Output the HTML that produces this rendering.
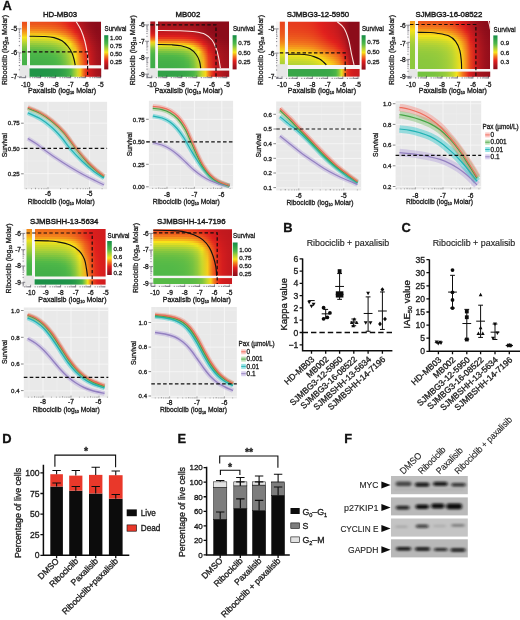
<!DOCTYPE html>
<html lang="en"><head><meta charset="utf-8"><title>Ribociclib + paxalisib synergy figure</title>
<style>html,body{margin:0;padding:0;background:#fff}body{width:520px;height:620px;overflow:hidden}svg{display:block}</style></head>
<body>
<svg width="520" height="620" viewBox="0 0 520 620" font-family="'Liberation Sans', sans-serif" fill="#1c1c1c">
<rect width="520" height="620" fill="#fff"/>
<text x="2.5" y="9.7" font-size="12.9" font-weight="bold" fill="#111" stroke="#111" stroke-width="0.3">A</text>
<rect x="18.8" y="21.4" width="82.6" height="56.8" fill="#f7f5f5"/>
<rect x="19.6" y="65.2" width="9.3" height="12.2" fill="#e7e7e7"/>
<defs>
<clipPath id="hc1"><rect x="29.5" y="21.8" width="71.7" height="43.4"/></clipPath>
<linearGradient id="g1"><stop offset="0" stop-color="#ea4f1d"/><stop offset="0.07" stop-color="#ea4f1d"/><stop offset="0.14" stop-color="#ea4e1d"/><stop offset="0.21" stop-color="#ea4c1d"/><stop offset="0.29" stop-color="#e9491d"/><stop offset="0.36" stop-color="#e8431d"/><stop offset="0.43" stop-color="#e6391d"/><stop offset="0.5" stop-color="#e4291d"/><stop offset="0.57" stop-color="#da1e1d"/><stop offset="0.64" stop-color="#c81a1e"/><stop offset="0.71" stop-color="#b1161e"/><stop offset="0.79" stop-color="#9e121d"/><stop offset="0.86" stop-color="#900d1b"/><stop offset="0.93" stop-color="#8c0c1a"/><stop offset="1" stop-color="#8c0c1a"/></linearGradient>
<linearGradient id="g2"><stop offset="0" stop-color="#ec581d"/><stop offset="0.07" stop-color="#ec571d"/><stop offset="0.14" stop-color="#ec561d"/><stop offset="0.21" stop-color="#eb541d"/><stop offset="0.29" stop-color="#eb511d"/><stop offset="0.36" stop-color="#ea4b1d"/><stop offset="0.43" stop-color="#e8411d"/><stop offset="0.5" stop-color="#e5311d"/><stop offset="0.57" stop-color="#de1f1d"/><stop offset="0.64" stop-color="#cb1b1e"/><stop offset="0.71" stop-color="#b4171e"/><stop offset="0.79" stop-color="#a0121d"/><stop offset="0.86" stop-color="#920e1b"/><stop offset="0.93" stop-color="#8c0c1a"/><stop offset="1" stop-color="#8c0c1a"/></linearGradient>
<linearGradient id="g3"><stop offset="0" stop-color="#ee641d"/><stop offset="0.07" stop-color="#ee631d"/><stop offset="0.14" stop-color="#ee621d"/><stop offset="0.21" stop-color="#ed601d"/><stop offset="0.29" stop-color="#ed5d1d"/><stop offset="0.36" stop-color="#ec571d"/><stop offset="0.43" stop-color="#ea4c1d"/><stop offset="0.5" stop-color="#e73b1d"/><stop offset="0.57" stop-color="#e2211d"/><stop offset="0.64" stop-color="#d01c1e"/><stop offset="0.71" stop-color="#b8181e"/><stop offset="0.79" stop-color="#a2131d"/><stop offset="0.86" stop-color="#930e1b"/><stop offset="0.93" stop-color="#8c0c1a"/><stop offset="1" stop-color="#8c0c1a"/></linearGradient>
<linearGradient id="g4"><stop offset="0" stop-color="#f1731d"/><stop offset="0.07" stop-color="#f1721d"/><stop offset="0.14" stop-color="#f0711d"/><stop offset="0.21" stop-color="#f06f1d"/><stop offset="0.29" stop-color="#ef6b1d"/><stop offset="0.36" stop-color="#ee651d"/><stop offset="0.43" stop-color="#ec5a1d"/><stop offset="0.5" stop-color="#e9481d"/><stop offset="0.57" stop-color="#e42d1d"/><stop offset="0.64" stop-color="#d51d1d"/><stop offset="0.71" stop-color="#bd181e"/><stop offset="0.79" stop-color="#a5141e"/><stop offset="0.86" stop-color="#950f1b"/><stop offset="0.93" stop-color="#8c0c1a"/><stop offset="1" stop-color="#8c0c1a"/></linearGradient>
<linearGradient id="g5"><stop offset="0" stop-color="#f3871d"/><stop offset="0.07" stop-color="#f3871d"/><stop offset="0.14" stop-color="#f3851d"/><stop offset="0.21" stop-color="#f2821d"/><stop offset="0.29" stop-color="#f27d1d"/><stop offset="0.36" stop-color="#f1761d"/><stop offset="0.43" stop-color="#ef6a1d"/><stop offset="0.5" stop-color="#ec581d"/><stop offset="0.57" stop-color="#e73c1d"/><stop offset="0.64" stop-color="#dc1f1d"/><stop offset="0.71" stop-color="#c3191e"/><stop offset="0.79" stop-color="#a8151e"/><stop offset="0.86" stop-color="#98101c"/><stop offset="0.93" stop-color="#8c0c1a"/><stop offset="1" stop-color="#8c0c1a"/></linearGradient>
<linearGradient id="g6"><stop offset="0" stop-color="#f4a21c"/><stop offset="0.07" stop-color="#f4a11c"/><stop offset="0.14" stop-color="#f49f1c"/><stop offset="0.21" stop-color="#f49c1c"/><stop offset="0.29" stop-color="#f4971c"/><stop offset="0.36" stop-color="#f38e1c"/><stop offset="0.43" stop-color="#f27f1d"/><stop offset="0.5" stop-color="#ef6a1d"/><stop offset="0.57" stop-color="#ea4c1d"/><stop offset="0.64" stop-color="#e3231d"/><stop offset="0.71" stop-color="#ca1a1e"/><stop offset="0.79" stop-color="#ad161e"/><stop offset="0.86" stop-color="#9a111c"/><stop offset="0.93" stop-color="#8e0d1a"/><stop offset="1" stop-color="#8c0c1a"/></linearGradient>
<linearGradient id="g7"><stop offset="0" stop-color="#f6c01b"/><stop offset="0.07" stop-color="#f6bf1b"/><stop offset="0.14" stop-color="#f6bd1b"/><stop offset="0.21" stop-color="#f6ba1b"/><stop offset="0.29" stop-color="#f5b41b"/><stop offset="0.36" stop-color="#f5ab1c"/><stop offset="0.43" stop-color="#f49a1c"/><stop offset="0.5" stop-color="#f2801d"/><stop offset="0.57" stop-color="#ed5f1d"/><stop offset="0.64" stop-color="#e5341d"/><stop offset="0.71" stop-color="#d11c1e"/><stop offset="0.79" stop-color="#b3171e"/><stop offset="0.86" stop-color="#9e121d"/><stop offset="0.93" stop-color="#900d1b"/><stop offset="1" stop-color="#8c0c1a"/></linearGradient>
<linearGradient id="g8"><stop offset="0" stop-color="#f8e01a"/><stop offset="0.07" stop-color="#f8df1a"/><stop offset="0.14" stop-color="#f8de1a"/><stop offset="0.21" stop-color="#f7da1a"/><stop offset="0.29" stop-color="#f7d41a"/><stop offset="0.36" stop-color="#f7ca1b"/><stop offset="0.43" stop-color="#f6b91b"/><stop offset="0.5" stop-color="#f49d1c"/><stop offset="0.57" stop-color="#f1741d"/><stop offset="0.64" stop-color="#e9451d"/><stop offset="0.71" stop-color="#d91e1d"/><stop offset="0.79" stop-color="#ba181e"/><stop offset="0.86" stop-color="#a1131d"/><stop offset="0.93" stop-color="#930e1b"/><stop offset="1" stop-color="#8c0c1a"/></linearGradient>
<linearGradient id="g9"><stop offset="0" stop-color="#e1de23"/><stop offset="0.07" stop-color="#e2de22"/><stop offset="0.14" stop-color="#e3df22"/><stop offset="0.21" stop-color="#e6df21"/><stop offset="0.29" stop-color="#ebe11f"/><stop offset="0.36" stop-color="#f3e31c"/><stop offset="0.43" stop-color="#f7d91a"/><stop offset="0.5" stop-color="#f6bb1b"/><stop offset="0.57" stop-color="#f38d1c"/><stop offset="0.64" stop-color="#ec581d"/><stop offset="0.71" stop-color="#e1201d"/><stop offset="0.79" stop-color="#c1191e"/><stop offset="0.86" stop-color="#a5141e"/><stop offset="0.93" stop-color="#950f1b"/><stop offset="1" stop-color="#8c0c1a"/></linearGradient>
<linearGradient id="g10"><stop offset="0" stop-color="#c7d82c"/><stop offset="0.07" stop-color="#c8d82c"/><stop offset="0.14" stop-color="#cad82c"/><stop offset="0.21" stop-color="#ccd92b"/><stop offset="0.29" stop-color="#d1da29"/><stop offset="0.36" stop-color="#dadc25"/><stop offset="0.43" stop-color="#e8e020"/><stop offset="0.5" stop-color="#f7d91a"/><stop offset="0.57" stop-color="#f5a91c"/><stop offset="0.64" stop-color="#ef6b1d"/><stop offset="0.71" stop-color="#e42d1d"/><stop offset="0.79" stop-color="#c81a1e"/><stop offset="0.86" stop-color="#a9151e"/><stop offset="0.93" stop-color="#98101c"/><stop offset="1" stop-color="#8e0c1a"/></linearGradient>
<linearGradient id="g11"><stop offset="0" stop-color="#aed136"/><stop offset="0.07" stop-color="#afd236"/><stop offset="0.14" stop-color="#b1d235"/><stop offset="0.21" stop-color="#b4d334"/><stop offset="0.29" stop-color="#b9d432"/><stop offset="0.36" stop-color="#c2d62f"/><stop offset="0.43" stop-color="#d1da29"/><stop offset="0.5" stop-color="#eae01f"/><stop offset="0.57" stop-color="#f6c41b"/><stop offset="0.64" stop-color="#f27e1d"/><stop offset="0.71" stop-color="#e73c1d"/><stop offset="0.79" stop-color="#ce1b1e"/><stop offset="0.86" stop-color="#ae161e"/><stop offset="0.93" stop-color="#9b111c"/><stop offset="1" stop-color="#900d1b"/></linearGradient>
<linearGradient id="g12"><stop offset="0" stop-color="#96cb3b"/><stop offset="0.07" stop-color="#97cb3b"/><stop offset="0.14" stop-color="#99cc3b"/><stop offset="0.21" stop-color="#9ccd3a"/><stop offset="0.29" stop-color="#a2ce39"/><stop offset="0.36" stop-color="#acd137"/><stop offset="0.43" stop-color="#bcd531"/><stop offset="0.5" stop-color="#d6db27"/><stop offset="0.57" stop-color="#f8dd1a"/><stop offset="0.64" stop-color="#f3941c"/><stop offset="0.71" stop-color="#ea4a1d"/><stop offset="0.79" stop-color="#d41d1e"/><stop offset="0.86" stop-color="#b2171e"/><stop offset="0.93" stop-color="#9d121c"/><stop offset="1" stop-color="#920e1b"/></linearGradient>
<linearGradient id="g13"><stop offset="0" stop-color="#80c53f"/><stop offset="0.07" stop-color="#81c53f"/><stop offset="0.14" stop-color="#83c63f"/><stop offset="0.21" stop-color="#86c73e"/><stop offset="0.29" stop-color="#8cc83d"/><stop offset="0.36" stop-color="#97cb3b"/><stop offset="0.43" stop-color="#a8d038"/><stop offset="0.5" stop-color="#c3d72e"/><stop offset="0.57" stop-color="#ede11e"/><stop offset="0.64" stop-color="#f5a81c"/><stop offset="0.71" stop-color="#ec571d"/><stop offset="0.79" stop-color="#d91e1d"/><stop offset="0.86" stop-color="#b7171e"/><stop offset="0.93" stop-color="#a0121d"/><stop offset="1" stop-color="#930e1b"/></linearGradient>
<linearGradient id="g14"><stop offset="0" stop-color="#6dc043"/><stop offset="0.07" stop-color="#6ec042"/><stop offset="0.14" stop-color="#70c142"/><stop offset="0.21" stop-color="#74c242"/><stop offset="0.29" stop-color="#7ac340"/><stop offset="0.36" stop-color="#84c63f"/><stop offset="0.43" stop-color="#96cb3b"/><stop offset="0.5" stop-color="#b3d334"/><stop offset="0.57" stop-color="#dedd24"/><stop offset="0.64" stop-color="#f6b91b"/><stop offset="0.71" stop-color="#ee621d"/><stop offset="0.79" stop-color="#de1f1d"/><stop offset="0.86" stop-color="#ba181e"/><stop offset="0.93" stop-color="#a2131d"/><stop offset="1" stop-color="#950f1b"/></linearGradient>
<linearGradient id="g15"><stop offset="0" stop-color="#5dbc46"/><stop offset="0.07" stop-color="#5ebc45"/><stop offset="0.14" stop-color="#60bd45"/><stop offset="0.21" stop-color="#64bd44"/><stop offset="0.29" stop-color="#6abf43"/><stop offset="0.36" stop-color="#75c241"/><stop offset="0.43" stop-color="#87c73e"/><stop offset="0.5" stop-color="#a6cf39"/><stop offset="0.57" stop-color="#d2da29"/><stop offset="0.64" stop-color="#f6c71b"/><stop offset="0.71" stop-color="#ef6b1d"/><stop offset="0.79" stop-color="#e1201d"/><stop offset="0.86" stop-color="#bd181e"/><stop offset="0.93" stop-color="#a3141d"/><stop offset="1" stop-color="#960f1b"/></linearGradient>
<linearGradient id="g16"><stop offset="0" stop-color="#50b848"/><stop offset="0.07" stop-color="#51b848"/><stop offset="0.14" stop-color="#53b947"/><stop offset="0.21" stop-color="#56ba47"/><stop offset="0.29" stop-color="#5dbc46"/><stop offset="0.36" stop-color="#68bf44"/><stop offset="0.43" stop-color="#7bc440"/><stop offset="0.5" stop-color="#9acc3b"/><stop offset="0.57" stop-color="#c8d82c"/><stop offset="0.64" stop-color="#f7d31a"/><stop offset="0.71" stop-color="#f1731d"/><stop offset="0.79" stop-color="#e3251d"/><stop offset="0.86" stop-color="#c0191e"/><stop offset="0.93" stop-color="#a5141e"/><stop offset="1" stop-color="#97101c"/></linearGradient>
<linearGradient id="g17"><stop offset="0" stop-color="#4cb548"/><stop offset="0.07" stop-color="#4cb648"/><stop offset="0.14" stop-color="#4db648"/><stop offset="0.21" stop-color="#4eb748"/><stop offset="0.29" stop-color="#52b947"/><stop offset="0.36" stop-color="#5ebc45"/><stop offset="0.43" stop-color="#71c142"/><stop offset="0.5" stop-color="#91ca3c"/><stop offset="0.57" stop-color="#bfd62f"/><stop offset="0.64" stop-color="#f8dc1a"/><stop offset="0.71" stop-color="#f2791d"/><stop offset="0.79" stop-color="#e4291d"/><stop offset="0.86" stop-color="#c2191e"/><stop offset="0.93" stop-color="#a6141e"/><stop offset="1" stop-color="#98101c"/></linearGradient>
<linearGradient id="g18"><stop offset="0" stop-color="#49b348"/><stop offset="0.07" stop-color="#49b448"/><stop offset="0.14" stop-color="#4ab448"/><stop offset="0.21" stop-color="#4bb548"/><stop offset="0.29" stop-color="#4db748"/><stop offset="0.36" stop-color="#56ba47"/><stop offset="0.43" stop-color="#69bf43"/><stop offset="0.5" stop-color="#89c83e"/><stop offset="0.57" stop-color="#b9d432"/><stop offset="0.64" stop-color="#f8e41a"/><stop offset="0.71" stop-color="#f27f1d"/><stop offset="0.79" stop-color="#e42d1d"/><stop offset="0.86" stop-color="#c4191e"/><stop offset="0.93" stop-color="#a7151e"/><stop offset="1" stop-color="#99101c"/></linearGradient>
<linearGradient id="g19"><stop offset="0" stop-color="#47b248"/><stop offset="0.07" stop-color="#47b248"/><stop offset="0.14" stop-color="#48b248"/><stop offset="0.21" stop-color="#49b348"/><stop offset="0.29" stop-color="#4bb548"/><stop offset="0.36" stop-color="#4fb848"/><stop offset="0.43" stop-color="#63bd44"/><stop offset="0.5" stop-color="#83c63f"/><stop offset="0.57" stop-color="#b4d334"/><stop offset="0.64" stop-color="#f4e31c"/><stop offset="0.71" stop-color="#f3831d"/><stop offset="0.79" stop-color="#e5301d"/><stop offset="0.86" stop-color="#c51a1e"/><stop offset="0.93" stop-color="#a7151e"/><stop offset="1" stop-color="#99101c"/></linearGradient>
<linearGradient id="g20"><stop offset="0" stop-color="#45b048"/><stop offset="0.07" stop-color="#45b148"/><stop offset="0.14" stop-color="#46b148"/><stop offset="0.21" stop-color="#47b248"/><stop offset="0.29" stop-color="#49b448"/><stop offset="0.36" stop-color="#4db748"/><stop offset="0.43" stop-color="#5ebc45"/><stop offset="0.5" stop-color="#7fc540"/><stop offset="0.57" stop-color="#b0d235"/><stop offset="0.64" stop-color="#f0e21d"/><stop offset="0.71" stop-color="#f3871d"/><stop offset="0.79" stop-color="#e5321d"/><stop offset="0.86" stop-color="#c61a1e"/><stop offset="0.93" stop-color="#a8151e"/><stop offset="1" stop-color="#9a101c"/></linearGradient>
<linearGradient id="g21"><stop offset="0" stop-color="#43af48"/><stop offset="0.07" stop-color="#44b048"/><stop offset="0.14" stop-color="#45b048"/><stop offset="0.21" stop-color="#46b148"/><stop offset="0.29" stop-color="#48b348"/><stop offset="0.36" stop-color="#4cb648"/><stop offset="0.43" stop-color="#5bbb46"/><stop offset="0.5" stop-color="#7bc440"/><stop offset="0.57" stop-color="#add137"/><stop offset="0.64" stop-color="#eee11e"/><stop offset="0.71" stop-color="#f38a1d"/><stop offset="0.79" stop-color="#e6341d"/><stop offset="0.86" stop-color="#c71a1e"/><stop offset="0.93" stop-color="#a8151e"/><stop offset="1" stop-color="#9a111c"/></linearGradient>
<linearGradient id="g22"><stop offset="0" stop-color="#42ae48"/><stop offset="0.07" stop-color="#43af48"/><stop offset="0.14" stop-color="#44af48"/><stop offset="0.21" stop-color="#45b048"/><stop offset="0.29" stop-color="#47b248"/><stop offset="0.36" stop-color="#4bb548"/><stop offset="0.43" stop-color="#58ba46"/><stop offset="0.5" stop-color="#79c341"/><stop offset="0.57" stop-color="#abd037"/><stop offset="0.64" stop-color="#ece11f"/><stop offset="0.71" stop-color="#f38c1c"/><stop offset="0.79" stop-color="#e6361d"/><stop offset="0.86" stop-color="#c71a1e"/><stop offset="0.93" stop-color="#a9151e"/><stop offset="1" stop-color="#9a111c"/></linearGradient>
<linearGradient id="g23"><stop offset="0" stop-color="#42ae48"/><stop offset="0.07" stop-color="#43af48"/><stop offset="0.14" stop-color="#43af48"/><stop offset="0.21" stop-color="#45b048"/><stop offset="0.29" stop-color="#47b248"/><stop offset="0.36" stop-color="#4bb548"/><stop offset="0.43" stop-color="#57ba47"/><stop offset="0.5" stop-color="#78c341"/><stop offset="0.57" stop-color="#aad038"/><stop offset="0.64" stop-color="#ebe11f"/><stop offset="0.71" stop-color="#f38d1c"/><stop offset="0.79" stop-color="#e6361d"/><stop offset="0.86" stop-color="#c81a1e"/><stop offset="0.93" stop-color="#a9151e"/><stop offset="1" stop-color="#9a111c"/></linearGradient>
<linearGradient id="g24" x1="0" y1="0" x2="0" y2="1"><stop offset="0" stop-color="#ea4b1d"/><stop offset="0.07" stop-color="#ec591d"/><stop offset="0.14" stop-color="#f06d1d"/><stop offset="0.21" stop-color="#f38c1c"/><stop offset="0.29" stop-color="#f5b71b"/><stop offset="0.36" stop-color="#f5e31b"/><stop offset="0.43" stop-color="#cfda2a"/><stop offset="0.5" stop-color="#aad038"/><stop offset="0.57" stop-color="#88c73e"/><stop offset="0.64" stop-color="#6dc043"/><stop offset="0.71" stop-color="#59bb46"/><stop offset="0.79" stop-color="#4db748"/><stop offset="0.86" stop-color="#4ab448"/><stop offset="0.93" stop-color="#48b248"/><stop offset="1" stop-color="#46b148"/></linearGradient>
<linearGradient id="g25"><stop offset="0" stop-color="#219548"/><stop offset="0.04" stop-color="#219548"/><stop offset="0.08" stop-color="#219548"/><stop offset="0.12" stop-color="#219548"/><stop offset="0.17" stop-color="#219548"/><stop offset="0.21" stop-color="#229648"/><stop offset="0.25" stop-color="#239648"/><stop offset="0.29" stop-color="#249748"/><stop offset="0.33" stop-color="#259848"/><stop offset="0.38" stop-color="#289a48"/><stop offset="0.42" stop-color="#2b9d48"/><stop offset="0.46" stop-color="#31a148"/><stop offset="0.5" stop-color="#38a748"/><stop offset="0.54" stop-color="#43af48"/><stop offset="0.58" stop-color="#57ba47"/><stop offset="0.62" stop-color="#8ec93d"/><stop offset="0.67" stop-color="#ccd92b"/><stop offset="0.71" stop-color="#f6c71b"/><stop offset="0.75" stop-color="#f1731d"/><stop offset="0.79" stop-color="#e6371d"/><stop offset="0.83" stop-color="#d31d1e"/><stop offset="0.88" stop-color="#be181e"/><stop offset="0.92" stop-color="#ae161e"/><stop offset="0.96" stop-color="#a4141d"/><stop offset="1" stop-color="#9f121d"/></linearGradient>
</defs>
<g clip-path="url(#hc1)" shape-rendering="crispEdges">
<rect x="29.5" y="21" width="71.7" height="2" fill="url(#g1)"/>
<rect x="29.5" y="23" width="71.7" height="2" fill="url(#g2)"/>
<rect x="29.5" y="25" width="71.7" height="2" fill="url(#g3)"/>
<rect x="29.5" y="27" width="71.7" height="2" fill="url(#g4)"/>
<rect x="29.5" y="29" width="71.7" height="2" fill="url(#g5)"/>
<rect x="29.5" y="31" width="71.7" height="2" fill="url(#g6)"/>
<rect x="29.5" y="33" width="71.7" height="2" fill="url(#g7)"/>
<rect x="29.5" y="35" width="71.7" height="2" fill="url(#g8)"/>
<rect x="29.5" y="37" width="71.7" height="2" fill="url(#g9)"/>
<rect x="29.5" y="39" width="71.7" height="2" fill="url(#g10)"/>
<rect x="29.5" y="41" width="71.7" height="2" fill="url(#g11)"/>
<rect x="29.5" y="43" width="71.7" height="2" fill="url(#g12)"/>
<rect x="29.5" y="45" width="71.7" height="2" fill="url(#g13)"/>
<rect x="29.5" y="47" width="71.7" height="2" fill="url(#g14)"/>
<rect x="29.5" y="49" width="71.7" height="2" fill="url(#g15)"/>
<rect x="29.5" y="51" width="71.7" height="2" fill="url(#g16)"/>
<rect x="29.5" y="53" width="71.7" height="2" fill="url(#g17)"/>
<rect x="29.5" y="55" width="71.7" height="2" fill="url(#g18)"/>
<rect x="29.5" y="57" width="71.7" height="2" fill="url(#g19)"/>
<rect x="29.5" y="59" width="71.7" height="2" fill="url(#g20)"/>
<rect x="29.5" y="61" width="71.7" height="2" fill="url(#g21)"/>
<rect x="29.5" y="63" width="71.7" height="2" fill="url(#g22)"/>
<rect x="29.5" y="65" width="71.7" height="2" fill="url(#g23)"/>
</g>
<rect x="22" y="21.8" width="5" height="43.4" fill="url(#g24)"/>
<rect x="29.5" y="68.4" width="71.7" height="8.4" fill="url(#g25)"/>
<path d="M76.2 21.8C77 23.17 79.57 26.8 81 30C82.43 33.2 83.75 37.08 84.8 41C85.85 44.92 86.65 49.47 87.3 53.5C87.95 57.53 88.47 63.25 88.7 65.2" fill="none" stroke="#fbe6e2" stroke-width="1.1"/>
<path d="M29.5 36.2C32.08 36.25 40.92 36.27 45 36.5C49.08 36.73 51.17 36.88 54 37.6C56.83 38.32 59.67 39.32 62 40.8C64.33 42.28 66.33 44.47 68 46.5C69.67 48.53 70.97 50.75 72 53C73.03 55.25 73.67 57.97 74.2 60C74.73 62.03 75.03 64.33 75.2 65.2" fill="none" stroke="#111" stroke-width="1.15"/>
<path d="M22 51.8H87.6V76.8" fill="none" stroke="#1a0c0c" stroke-width="1.2" stroke-dasharray="3.4 2.3"/>
<path d="M19.63 78.2v-1.2M21.08 78.2v-1.8M22.27 78.2v-1.2M23.28 78.2v-1.2M24.15 78.2v-1.2M24.91 78.2v-1.2M25.6 78.2v-2.6M30.12 78.2v-1.2M32.76 78.2v-1.2M34.63 78.2v-1.2M36.08 78.2v-1.8M37.27 78.2v-1.2M38.28 78.2v-1.2M39.15 78.2v-1.2M39.91 78.2v-1.2M40.6 78.2v-2.6M45.12 78.2v-1.2M47.76 78.2v-1.2M49.63 78.2v-1.2M51.08 78.2v-1.8M52.27 78.2v-1.2M53.28 78.2v-1.2M54.15 78.2v-1.2M54.91 78.2v-1.2M55.6 78.2v-2.6M60.12 78.2v-1.2M62.76 78.2v-1.2M64.63 78.2v-1.2M66.08 78.2v-1.8M67.27 78.2v-1.2M68.28 78.2v-1.2M69.15 78.2v-1.2M69.91 78.2v-1.2M70.6 78.2v-2.6M75.12 78.2v-1.2M77.76 78.2v-1.2M79.63 78.2v-1.2M81.08 78.2v-1.8M82.27 78.2v-1.2M83.28 78.2v-1.2M84.15 78.2v-1.2M84.91 78.2v-1.2M85.6 78.2v-2.6M90.12 78.2v-1.2M92.76 78.2v-1.2M94.63 78.2v-1.2M96.08 78.2v-1.8M97.27 78.2v-1.2M98.28 78.2v-1.2M99.15 78.2v-1.2M99.91 78.2v-1.2M100.6 78.2v-2.6M18.8 28.8h2.6M18.8 52.9h2.6M18.8 45.65h1.2M18.8 41.4h1.2M18.8 38.39h1.2M18.8 36.05h1.8M18.8 34.15h1.2M18.8 32.53h1.2M18.8 31.14h1.2M18.8 29.9h1.2M18.8 77h2.6M18.8 69.75h1.2M18.8 65.5h1.2M18.8 62.49h1.2M18.8 60.15h1.8M18.8 58.25h1.2M18.8 56.63h1.2M18.8 55.24h1.2M18.8 54h1.2" stroke="#1b1b2a" stroke-width="0.55" fill="none" opacity="0.9"/>
<text x="17.2" y="31.1" font-size="6.6" text-anchor="end" stroke="#1c1c1c" stroke-width="0.3">-5</text>
<path d="M17.2 28.8h1.6" stroke="#333" stroke-width="0.5"/>
<text x="17.2" y="54.5" font-size="6.6" text-anchor="end" stroke="#1c1c1c" stroke-width="0.3">-6</text>
<path d="M17.2 52.2h1.6" stroke="#333" stroke-width="0.5"/>
<text x="17.2" y="78.9" font-size="6.6" text-anchor="end" stroke="#1c1c1c" stroke-width="0.3">-7</text>
<path d="M17.2 76.6h1.6" stroke="#333" stroke-width="0.5"/>
<text x="25.7" y="86.6" font-size="6.6" text-anchor="middle" stroke="#1c1c1c" stroke-width="0.3">-10</text>
<text x="40.7" y="86.6" font-size="6.6" text-anchor="middle" stroke="#1c1c1c" stroke-width="0.3">-9</text>
<text x="55.7" y="86.6" font-size="6.6" text-anchor="middle" stroke="#1c1c1c" stroke-width="0.3">-8</text>
<text x="70.7" y="86.6" font-size="6.6" text-anchor="middle" stroke="#1c1c1c" stroke-width="0.3">-7</text>
<text x="85.7" y="86.6" font-size="6.6" text-anchor="middle" stroke="#1c1c1c" stroke-width="0.3">-6</text>
<text x="100.7" y="86.6" font-size="6.6" text-anchor="middle" stroke="#1c1c1c" stroke-width="0.3">-5</text>
<text x="62.1" y="93.2" font-size="7.05" text-anchor="middle" stroke="#1c1c1c" stroke-width="0.3">Paxalisib (log<tspan font-size="3.88" dy="1.27">10</tspan><tspan dy="-1.27"> Molar)</tspan></text>
<text x="7.2" y="50" font-size="7.05" text-anchor="middle" transform="rotate(-90 7.2 50)" stroke="#1c1c1c" stroke-width="0.3">Ribociclib (log<tspan font-size="3.88" dy="1.27">10</tspan><tspan dy="-1.27"> Molar)</tspan></text>
<text x="60.1" y="17" font-size="7.8" text-anchor="middle" stroke="#1c1c1c" stroke-width="0.42">HD-MB03</text>
<defs><linearGradient id="cb1" x1="0" y1="1" x2="0" y2="0"><stop offset="0" stop-color="#8c0c1a"/><stop offset="0.1" stop-color="#a8151e"/><stop offset="0.18" stop-color="#c81a1e"/><stop offset="0.25" stop-color="#e2201d"/><stop offset="0.38" stop-color="#f27a1d"/><stop offset="0.5" stop-color="#f8e41a"/><stop offset="0.62" stop-color="#a9d038"/><stop offset="0.75" stop-color="#4fb848"/><stop offset="1" stop-color="#158c48"/></linearGradient></defs>
<rect x="104.2" y="35.2" width="4.1" height="34.2" fill="url(#cb1)"/>
<text x="104.5" y="31" font-size="6.6" textLength="22" lengthAdjust="spacingAndGlyphs" stroke="#1c1c1c" stroke-width="0.3">Survival</text>
<text x="110" y="40.1" font-size="6.2" stroke="#1c1c1c" stroke-width="0.3">1.00</text>
<text x="110" y="48" font-size="6.2" stroke="#1c1c1c" stroke-width="0.3">0.75</text>
<text x="110" y="55.8" font-size="6.2" stroke="#1c1c1c" stroke-width="0.3">0.50</text>
<text x="110" y="63.9" font-size="6.2" stroke="#1c1c1c" stroke-width="0.3">0.25</text>
<rect x="146.4" y="21" width="83" height="57.2" fill="#f7f5f5"/>
<rect x="147.2" y="68.2" width="10" height="9.2" fill="#e7e7e7"/>
<defs>
<clipPath id="hc2"><rect x="157.8" y="21.5" width="71.4" height="46.7"/></clipPath>
<linearGradient id="g26"><stop offset="0" stop-color="#a7151e"/><stop offset="0.07" stop-color="#a7151e"/><stop offset="0.14" stop-color="#a6141e"/><stop offset="0.21" stop-color="#a6141e"/><stop offset="0.29" stop-color="#a6141e"/><stop offset="0.36" stop-color="#a5141e"/><stop offset="0.43" stop-color="#a4141d"/><stop offset="0.5" stop-color="#a0131d"/><stop offset="0.57" stop-color="#9b111c"/><stop offset="0.64" stop-color="#940f1b"/><stop offset="0.71" stop-color="#8d0c1a"/><stop offset="0.79" stop-color="#8c0c1a"/><stop offset="0.86" stop-color="#8c0c1a"/><stop offset="0.93" stop-color="#8c0c1a"/><stop offset="1" stop-color="#8c0c1a"/></linearGradient>
<linearGradient id="g27"><stop offset="0" stop-color="#a8151e"/><stop offset="0.07" stop-color="#a8151e"/><stop offset="0.14" stop-color="#a8151e"/><stop offset="0.21" stop-color="#a8151e"/><stop offset="0.29" stop-color="#a8151e"/><stop offset="0.36" stop-color="#a7151e"/><stop offset="0.43" stop-color="#a5141e"/><stop offset="0.5" stop-color="#a2131d"/><stop offset="0.57" stop-color="#9d111c"/><stop offset="0.64" stop-color="#950f1b"/><stop offset="0.71" stop-color="#8e0d1a"/><stop offset="0.79" stop-color="#8c0c1a"/><stop offset="0.86" stop-color="#8c0c1a"/><stop offset="0.93" stop-color="#8c0c1a"/><stop offset="1" stop-color="#8c0c1a"/></linearGradient>
<linearGradient id="g28"><stop offset="0" stop-color="#ac161e"/><stop offset="0.07" stop-color="#ac161e"/><stop offset="0.14" stop-color="#ac161e"/><stop offset="0.21" stop-color="#ac161e"/><stop offset="0.29" stop-color="#ab151e"/><stop offset="0.36" stop-color="#aa151e"/><stop offset="0.43" stop-color="#a8151e"/><stop offset="0.5" stop-color="#a4141d"/><stop offset="0.57" stop-color="#9e121d"/><stop offset="0.64" stop-color="#970f1c"/><stop offset="0.71" stop-color="#8f0d1a"/><stop offset="0.79" stop-color="#8c0c1a"/><stop offset="0.86" stop-color="#8c0c1a"/><stop offset="0.93" stop-color="#8c0c1a"/><stop offset="1" stop-color="#8c0c1a"/></linearGradient>
<linearGradient id="g29"><stop offset="0" stop-color="#b1161e"/><stop offset="0.07" stop-color="#b1161e"/><stop offset="0.14" stop-color="#b1161e"/><stop offset="0.21" stop-color="#b1161e"/><stop offset="0.29" stop-color="#b0161e"/><stop offset="0.36" stop-color="#af161e"/><stop offset="0.43" stop-color="#ac161e"/><stop offset="0.5" stop-color="#a7151e"/><stop offset="0.57" stop-color="#a1131d"/><stop offset="0.64" stop-color="#99101c"/><stop offset="0.71" stop-color="#900d1b"/><stop offset="0.79" stop-color="#8c0c1a"/><stop offset="0.86" stop-color="#8c0c1a"/><stop offset="0.93" stop-color="#8c0c1a"/><stop offset="1" stop-color="#8c0c1a"/></linearGradient>
<linearGradient id="g30"><stop offset="0" stop-color="#b8181e"/><stop offset="0.07" stop-color="#b8181e"/><stop offset="0.14" stop-color="#b8171e"/><stop offset="0.21" stop-color="#b8171e"/><stop offset="0.29" stop-color="#b7171e"/><stop offset="0.36" stop-color="#b5171e"/><stop offset="0.43" stop-color="#b2171e"/><stop offset="0.5" stop-color="#ad161e"/><stop offset="0.57" stop-color="#a5141e"/><stop offset="0.64" stop-color="#9c111c"/><stop offset="0.71" stop-color="#920e1b"/><stop offset="0.79" stop-color="#8c0c1a"/><stop offset="0.86" stop-color="#8c0c1a"/><stop offset="0.93" stop-color="#8c0c1a"/><stop offset="1" stop-color="#8c0c1a"/></linearGradient>
<linearGradient id="g31"><stop offset="0" stop-color="#c1191e"/><stop offset="0.07" stop-color="#c1191e"/><stop offset="0.14" stop-color="#c1191e"/><stop offset="0.21" stop-color="#c1191e"/><stop offset="0.29" stop-color="#c0191e"/><stop offset="0.36" stop-color="#bf191e"/><stop offset="0.43" stop-color="#bb181e"/><stop offset="0.5" stop-color="#b5171e"/><stop offset="0.57" stop-color="#aa151e"/><stop offset="0.64" stop-color="#a0121d"/><stop offset="0.71" stop-color="#950f1b"/><stop offset="0.79" stop-color="#8d0c1a"/><stop offset="0.86" stop-color="#8c0c1a"/><stop offset="0.93" stop-color="#8c0c1a"/><stop offset="1" stop-color="#8c0c1a"/></linearGradient>
<linearGradient id="g32"><stop offset="0" stop-color="#ce1b1e"/><stop offset="0.07" stop-color="#cd1b1e"/><stop offset="0.14" stop-color="#cd1b1e"/><stop offset="0.21" stop-color="#cd1b1e"/><stop offset="0.29" stop-color="#cc1b1e"/><stop offset="0.36" stop-color="#ca1b1e"/><stop offset="0.43" stop-color="#c71a1e"/><stop offset="0.5" stop-color="#c0191e"/><stop offset="0.57" stop-color="#b4171e"/><stop offset="0.64" stop-color="#a5141e"/><stop offset="0.71" stop-color="#99101c"/><stop offset="0.79" stop-color="#900d1b"/><stop offset="0.86" stop-color="#8c0c1a"/><stop offset="0.93" stop-color="#8c0c1a"/><stop offset="1" stop-color="#8c0c1a"/></linearGradient>
<linearGradient id="g33"><stop offset="0" stop-color="#dc1f1d"/><stop offset="0.07" stop-color="#dc1f1d"/><stop offset="0.14" stop-color="#dc1f1d"/><stop offset="0.21" stop-color="#dc1f1d"/><stop offset="0.29" stop-color="#db1e1d"/><stop offset="0.36" stop-color="#d91e1d"/><stop offset="0.43" stop-color="#d51d1e"/><stop offset="0.5" stop-color="#cd1b1e"/><stop offset="0.57" stop-color="#c0191e"/><stop offset="0.64" stop-color="#ad161e"/><stop offset="0.71" stop-color="#9e121d"/><stop offset="0.79" stop-color="#930e1b"/><stop offset="0.86" stop-color="#8c0c1a"/><stop offset="0.93" stop-color="#8c0c1a"/><stop offset="1" stop-color="#8c0c1a"/></linearGradient>
<linearGradient id="g34"><stop offset="0" stop-color="#e6381d"/><stop offset="0.07" stop-color="#e6381d"/><stop offset="0.14" stop-color="#e6371d"/><stop offset="0.21" stop-color="#e6361d"/><stop offset="0.29" stop-color="#e6341d"/><stop offset="0.36" stop-color="#e5301d"/><stop offset="0.43" stop-color="#e3271d"/><stop offset="0.5" stop-color="#dd1f1d"/><stop offset="0.57" stop-color="#ce1b1e"/><stop offset="0.64" stop-color="#b8181e"/><stop offset="0.71" stop-color="#a3141d"/><stop offset="0.79" stop-color="#97101c"/><stop offset="0.86" stop-color="#8f0d1a"/><stop offset="0.93" stop-color="#8c0c1a"/><stop offset="1" stop-color="#8c0c1a"/></linearGradient>
<linearGradient id="g35"><stop offset="0" stop-color="#ed601d"/><stop offset="0.07" stop-color="#ed601d"/><stop offset="0.14" stop-color="#ed5f1d"/><stop offset="0.21" stop-color="#ed5e1d"/><stop offset="0.29" stop-color="#ed5c1d"/><stop offset="0.36" stop-color="#ec571d"/><stop offset="0.43" stop-color="#ea4d1d"/><stop offset="0.5" stop-color="#e6391d"/><stop offset="0.57" stop-color="#de1f1d"/><stop offset="0.64" stop-color="#c61a1e"/><stop offset="0.71" stop-color="#ab161e"/><stop offset="0.79" stop-color="#9c111c"/><stop offset="0.86" stop-color="#930e1b"/><stop offset="0.93" stop-color="#8e0d1a"/><stop offset="1" stop-color="#8c0c1a"/></linearGradient>
<linearGradient id="g36"><stop offset="0" stop-color="#f3921c"/><stop offset="0.07" stop-color="#f3921c"/><stop offset="0.14" stop-color="#f3911c"/><stop offset="0.21" stop-color="#f38f1c"/><stop offset="0.29" stop-color="#f38c1c"/><stop offset="0.36" stop-color="#f3841d"/><stop offset="0.43" stop-color="#f1761d"/><stop offset="0.5" stop-color="#ed601d"/><stop offset="0.57" stop-color="#e73a1d"/><stop offset="0.64" stop-color="#d41d1e"/><stop offset="0.71" stop-color="#b6171e"/><stop offset="0.79" stop-color="#a1131d"/><stop offset="0.86" stop-color="#970f1c"/><stop offset="0.93" stop-color="#910e1b"/><stop offset="1" stop-color="#8e0d1a"/></linearGradient>
<linearGradient id="g37"><stop offset="0" stop-color="#f7cd1b"/><stop offset="0.07" stop-color="#f7cd1b"/><stop offset="0.14" stop-color="#f7cc1b"/><stop offset="0.21" stop-color="#f7ca1b"/><stop offset="0.29" stop-color="#f6c61b"/><stop offset="0.36" stop-color="#f6be1b"/><stop offset="0.43" stop-color="#f5ad1c"/><stop offset="0.5" stop-color="#f38c1c"/><stop offset="0.57" stop-color="#ed5d1d"/><stop offset="0.64" stop-color="#e2221d"/><stop offset="0.71" stop-color="#c2191e"/><stop offset="0.79" stop-color="#a7151e"/><stop offset="0.86" stop-color="#9b111c"/><stop offset="0.93" stop-color="#940f1b"/><stop offset="1" stop-color="#910e1b"/></linearGradient>
<linearGradient id="g38"><stop offset="0" stop-color="#dedd24"/><stop offset="0.07" stop-color="#dedd24"/><stop offset="0.14" stop-color="#dfde24"/><stop offset="0.21" stop-color="#e0de23"/><stop offset="0.29" stop-color="#e4df22"/><stop offset="0.36" stop-color="#ebe11f"/><stop offset="0.43" stop-color="#f8e31a"/><stop offset="0.5" stop-color="#f6be1b"/><stop offset="0.57" stop-color="#f2801d"/><stop offset="0.64" stop-color="#e73c1d"/><stop offset="0.71" stop-color="#cd1b1e"/><stop offset="0.79" stop-color="#ae161e"/><stop offset="0.86" stop-color="#9f121d"/><stop offset="0.93" stop-color="#98101c"/><stop offset="1" stop-color="#940f1b"/></linearGradient>
<linearGradient id="g39"><stop offset="0" stop-color="#b6d333"/><stop offset="0.07" stop-color="#b6d333"/><stop offset="0.14" stop-color="#b7d433"/><stop offset="0.21" stop-color="#b9d432"/><stop offset="0.29" stop-color="#bdd531"/><stop offset="0.36" stop-color="#c4d72e"/><stop offset="0.43" stop-color="#d4db28"/><stop offset="0.5" stop-color="#f2e31c"/><stop offset="0.57" stop-color="#f5a71c"/><stop offset="0.64" stop-color="#eb551d"/><stop offset="0.71" stop-color="#d61d1d"/><stop offset="0.79" stop-color="#b5171e"/><stop offset="0.86" stop-color="#a3131d"/><stop offset="0.93" stop-color="#9b111c"/><stop offset="1" stop-color="#970f1c"/></linearGradient>
<linearGradient id="g40"><stop offset="0" stop-color="#93ca3c"/><stop offset="0.07" stop-color="#93ca3c"/><stop offset="0.14" stop-color="#94ca3c"/><stop offset="0.21" stop-color="#96cb3b"/><stop offset="0.29" stop-color="#9acc3b"/><stop offset="0.36" stop-color="#a3ce39"/><stop offset="0.43" stop-color="#b4d334"/><stop offset="0.5" stop-color="#d5db27"/><stop offset="0.57" stop-color="#f7ca1b"/><stop offset="0.64" stop-color="#ef6a1d"/><stop offset="0.71" stop-color="#de1f1d"/><stop offset="0.79" stop-color="#bb181e"/><stop offset="0.86" stop-color="#a6141e"/><stop offset="0.93" stop-color="#9d121c"/><stop offset="1" stop-color="#99101c"/></linearGradient>
<linearGradient id="g41"><stop offset="0" stop-color="#75c241"/><stop offset="0.07" stop-color="#76c241"/><stop offset="0.14" stop-color="#77c341"/><stop offset="0.21" stop-color="#79c341"/><stop offset="0.29" stop-color="#7dc440"/><stop offset="0.36" stop-color="#86c73e"/><stop offset="0.43" stop-color="#99cc3b"/><stop offset="0.5" stop-color="#bdd531"/><stop offset="0.57" stop-color="#f7e41a"/><stop offset="0.64" stop-color="#f27c1d"/><stop offset="0.71" stop-color="#e3251d"/><stop offset="0.79" stop-color="#c0191e"/><stop offset="0.86" stop-color="#a8151e"/><stop offset="0.93" stop-color="#9f121d"/><stop offset="1" stop-color="#9b111c"/></linearGradient>
<linearGradient id="g42"><stop offset="0" stop-color="#5ebc45"/><stop offset="0.07" stop-color="#5fbc45"/><stop offset="0.14" stop-color="#60bc45"/><stop offset="0.21" stop-color="#62bd45"/><stop offset="0.29" stop-color="#66be44"/><stop offset="0.36" stop-color="#70c142"/><stop offset="0.43" stop-color="#84c63f"/><stop offset="0.5" stop-color="#aad038"/><stop offset="0.57" stop-color="#e6e021"/><stop offset="0.64" stop-color="#f38d1c"/><stop offset="0.71" stop-color="#e52f1d"/><stop offset="0.79" stop-color="#c4191e"/><stop offset="0.86" stop-color="#ab161e"/><stop offset="0.93" stop-color="#a1131d"/><stop offset="1" stop-color="#9c111c"/></linearGradient>
<linearGradient id="g43"><stop offset="0" stop-color="#4eb748"/><stop offset="0.07" stop-color="#4eb848"/><stop offset="0.14" stop-color="#4fb848"/><stop offset="0.21" stop-color="#50b848"/><stop offset="0.29" stop-color="#55ba47"/><stop offset="0.36" stop-color="#5fbc45"/><stop offset="0.43" stop-color="#73c242"/><stop offset="0.5" stop-color="#9bcc3b"/><stop offset="0.57" stop-color="#dadc25"/><stop offset="0.64" stop-color="#f49a1c"/><stop offset="0.71" stop-color="#e6371d"/><stop offset="0.79" stop-color="#c71a1e"/><stop offset="0.86" stop-color="#ae161e"/><stop offset="0.93" stop-color="#a2131d"/><stop offset="1" stop-color="#9d121c"/></linearGradient>
<linearGradient id="g44"><stop offset="0" stop-color="#4ab448"/><stop offset="0.07" stop-color="#4ab448"/><stop offset="0.14" stop-color="#4ab448"/><stop offset="0.21" stop-color="#4bb548"/><stop offset="0.29" stop-color="#4db648"/><stop offset="0.36" stop-color="#52b947"/><stop offset="0.43" stop-color="#67be44"/><stop offset="0.5" stop-color="#8fc93d"/><stop offset="0.57" stop-color="#d0da29"/><stop offset="0.64" stop-color="#f4a41c"/><stop offset="0.71" stop-color="#e73c1d"/><stop offset="0.79" stop-color="#ca1a1e"/><stop offset="0.86" stop-color="#af161e"/><stop offset="0.93" stop-color="#a3131d"/><stop offset="1" stop-color="#9e121d"/></linearGradient>
<linearGradient id="g45"><stop offset="0" stop-color="#47b248"/><stop offset="0.07" stop-color="#47b248"/><stop offset="0.14" stop-color="#47b248"/><stop offset="0.21" stop-color="#48b348"/><stop offset="0.29" stop-color="#4ab448"/><stop offset="0.36" stop-color="#4db748"/><stop offset="0.43" stop-color="#5ebc45"/><stop offset="0.5" stop-color="#87c73e"/><stop offset="0.57" stop-color="#cad82c"/><stop offset="0.64" stop-color="#f5ab1c"/><stop offset="0.71" stop-color="#e8401d"/><stop offset="0.79" stop-color="#cb1b1e"/><stop offset="0.86" stop-color="#b0161e"/><stop offset="0.93" stop-color="#a4141d"/><stop offset="1" stop-color="#9f121d"/></linearGradient>
<linearGradient id="g46"><stop offset="0" stop-color="#44b048"/><stop offset="0.07" stop-color="#45b048"/><stop offset="0.14" stop-color="#45b048"/><stop offset="0.21" stop-color="#46b148"/><stop offset="0.29" stop-color="#47b248"/><stop offset="0.36" stop-color="#4bb548"/><stop offset="0.43" stop-color="#58ba46"/><stop offset="0.5" stop-color="#81c53f"/><stop offset="0.57" stop-color="#c5d72d"/><stop offset="0.64" stop-color="#f5b01b"/><stop offset="0.71" stop-color="#e8431d"/><stop offset="0.79" stop-color="#cc1b1e"/><stop offset="0.86" stop-color="#b1161e"/><stop offset="0.93" stop-color="#a4141d"/><stop offset="1" stop-color="#9f121d"/></linearGradient>
<linearGradient id="g47"><stop offset="0" stop-color="#43af48"/><stop offset="0.07" stop-color="#43af48"/><stop offset="0.14" stop-color="#43af48"/><stop offset="0.21" stop-color="#44b048"/><stop offset="0.29" stop-color="#46b148"/><stop offset="0.36" stop-color="#49b448"/><stop offset="0.43" stop-color="#54b947"/><stop offset="0.5" stop-color="#7dc440"/><stop offset="0.57" stop-color="#c1d62f"/><stop offset="0.64" stop-color="#f5b41b"/><stop offset="0.71" stop-color="#e9451d"/><stop offset="0.79" stop-color="#cd1b1e"/><stop offset="0.86" stop-color="#b2171e"/><stop offset="0.93" stop-color="#a5141e"/><stop offset="1" stop-color="#9f121d"/></linearGradient>
<linearGradient id="g48"><stop offset="0" stop-color="#42ae48"/><stop offset="0.07" stop-color="#42ae48"/><stop offset="0.14" stop-color="#42ae48"/><stop offset="0.21" stop-color="#43af48"/><stop offset="0.29" stop-color="#45b048"/><stop offset="0.36" stop-color="#48b348"/><stop offset="0.43" stop-color="#50b848"/><stop offset="0.5" stop-color="#7ac340"/><stop offset="0.57" stop-color="#bfd630"/><stop offset="0.64" stop-color="#f5b71b"/><stop offset="0.71" stop-color="#e9471d"/><stop offset="0.79" stop-color="#cd1b1e"/><stop offset="0.86" stop-color="#b2171e"/><stop offset="0.93" stop-color="#a5141e"/><stop offset="1" stop-color="#a0121d"/></linearGradient>
<linearGradient id="g49"><stop offset="0" stop-color="#41ad48"/><stop offset="0.07" stop-color="#41ad48"/><stop offset="0.14" stop-color="#41ae48"/><stop offset="0.21" stop-color="#42ae48"/><stop offset="0.29" stop-color="#44b048"/><stop offset="0.36" stop-color="#47b248"/><stop offset="0.43" stop-color="#4fb848"/><stop offset="0.5" stop-color="#78c341"/><stop offset="0.57" stop-color="#bed530"/><stop offset="0.64" stop-color="#f6b81b"/><stop offset="0.71" stop-color="#e9481d"/><stop offset="0.79" stop-color="#ce1b1e"/><stop offset="0.86" stop-color="#b3171e"/><stop offset="0.93" stop-color="#a5141e"/><stop offset="1" stop-color="#a0121d"/></linearGradient>
<linearGradient id="g50" x1="0" y1="0" x2="0" y2="1"><stop offset="0" stop-color="#a7151e"/><stop offset="0.06" stop-color="#aa151e"/><stop offset="0.12" stop-color="#b2171e"/><stop offset="0.19" stop-color="#be181e"/><stop offset="0.25" stop-color="#d11c1e"/><stop offset="0.31" stop-color="#e5321d"/><stop offset="0.38" stop-color="#f1721d"/><stop offset="0.44" stop-color="#f7cc1b"/><stop offset="0.5" stop-color="#c7d82d"/><stop offset="0.56" stop-color="#8fc93d"/><stop offset="0.62" stop-color="#64be44"/><stop offset="0.69" stop-color="#4db648"/><stop offset="0.75" stop-color="#47b248"/><stop offset="0.81" stop-color="#43af48"/><stop offset="0.88" stop-color="#41ae48"/><stop offset="0.94" stop-color="#40ad48"/><stop offset="1" stop-color="#40ac48"/></linearGradient>
<linearGradient id="g51"><stop offset="0" stop-color="#31a148"/><stop offset="0.04" stop-color="#31a148"/><stop offset="0.08" stop-color="#31a148"/><stop offset="0.12" stop-color="#31a148"/><stop offset="0.17" stop-color="#32a248"/><stop offset="0.21" stop-color="#32a248"/><stop offset="0.25" stop-color="#33a348"/><stop offset="0.29" stop-color="#34a348"/><stop offset="0.33" stop-color="#35a548"/><stop offset="0.38" stop-color="#38a648"/><stop offset="0.42" stop-color="#3ca948"/><stop offset="0.46" stop-color="#41ae48"/><stop offset="0.5" stop-color="#4ab448"/><stop offset="0.54" stop-color="#62bd45"/><stop offset="0.58" stop-color="#91c93c"/><stop offset="0.62" stop-color="#c7d82c"/><stop offset="0.67" stop-color="#f7d51a"/><stop offset="0.71" stop-color="#f3831d"/><stop offset="0.75" stop-color="#e9461d"/><stop offset="0.79" stop-color="#dc1f1d"/><stop offset="0.83" stop-color="#c81a1e"/><stop offset="0.88" stop-color="#b8181e"/><stop offset="0.92" stop-color="#ad161e"/><stop offset="0.96" stop-color="#a6141e"/><stop offset="1" stop-color="#a3131d"/></linearGradient>
</defs>
<g clip-path="url(#hc2)" shape-rendering="crispEdges">
<rect x="157.8" y="21" width="71.4" height="2" fill="url(#g26)"/>
<rect x="157.8" y="23" width="71.4" height="2" fill="url(#g27)"/>
<rect x="157.8" y="25" width="71.4" height="2" fill="url(#g28)"/>
<rect x="157.8" y="27" width="71.4" height="2" fill="url(#g29)"/>
<rect x="157.8" y="29" width="71.4" height="2" fill="url(#g30)"/>
<rect x="157.8" y="31" width="71.4" height="2" fill="url(#g31)"/>
<rect x="157.8" y="33" width="71.4" height="2" fill="url(#g32)"/>
<rect x="157.8" y="35" width="71.4" height="2" fill="url(#g33)"/>
<rect x="157.8" y="37" width="71.4" height="2" fill="url(#g34)"/>
<rect x="157.8" y="39" width="71.4" height="2" fill="url(#g35)"/>
<rect x="157.8" y="41" width="71.4" height="2" fill="url(#g36)"/>
<rect x="157.8" y="43" width="71.4" height="2" fill="url(#g37)"/>
<rect x="157.8" y="45" width="71.4" height="2" fill="url(#g38)"/>
<rect x="157.8" y="47" width="71.4" height="2" fill="url(#g39)"/>
<rect x="157.8" y="49" width="71.4" height="2" fill="url(#g40)"/>
<rect x="157.8" y="51" width="71.4" height="2" fill="url(#g41)"/>
<rect x="157.8" y="53" width="71.4" height="2" fill="url(#g42)"/>
<rect x="157.8" y="55" width="71.4" height="2" fill="url(#g43)"/>
<rect x="157.8" y="57" width="71.4" height="2" fill="url(#g44)"/>
<rect x="157.8" y="59" width="71.4" height="2" fill="url(#g45)"/>
<rect x="157.8" y="61" width="71.4" height="2" fill="url(#g46)"/>
<rect x="157.8" y="63" width="71.4" height="2" fill="url(#g47)"/>
<rect x="157.8" y="65" width="71.4" height="2" fill="url(#g48)"/>
<rect x="157.8" y="67" width="71.4" height="2" fill="url(#g49)"/>
</g>
<rect x="150.3" y="21.5" width="4.9" height="46.7" fill="url(#g50)"/>
<rect x="157.8" y="70.6" width="71.4" height="6.2" fill="url(#g51)"/>
<path d="M157.8 30.5C161.5 30.55 173.8 30.58 180 30.8C186.2 31.02 190.77 31.2 195 31.8C199.23 32.4 202.57 33.03 205.4 34.4C208.23 35.77 210.27 37.82 212 40C213.73 42.18 214.7 44.58 215.8 47.5C216.9 50.42 217.83 54.05 218.6 57.5C219.37 60.95 220.1 66.42 220.4 68.2" fill="none" stroke="#fbe6e2" stroke-width="1.1"/>
<path d="M157.8 44.5C160.17 44.55 168.13 44.58 172 44.8C175.87 45.02 178 45.13 181 45.8C184 46.47 187.47 47.35 190 48.8C192.53 50.25 194.62 52.43 196.2 54.5C197.78 56.57 198.75 58.92 199.5 61.2C200.25 63.48 200.5 67.03 200.7 68.2" fill="none" stroke="#111" stroke-width="1.15"/>
<path d="M150.3 24.9H216V76.8" fill="none" stroke="#1a0c0c" stroke-width="1.2" stroke-dasharray="3.4 2.3"/>
<path d="M147.28 78.2v-1.8M148.47 78.2v-1.2M149.48 78.2v-1.2M150.35 78.2v-1.2M151.11 78.2v-1.2M151.8 78.2v-2.6M156.32 78.2v-1.2M158.96 78.2v-1.2M160.83 78.2v-1.2M162.28 78.2v-1.8M163.47 78.2v-1.2M164.48 78.2v-1.2M165.35 78.2v-1.2M166.11 78.2v-1.2M166.8 78.2v-2.6M171.32 78.2v-1.2M173.96 78.2v-1.2M175.83 78.2v-1.2M177.28 78.2v-1.8M178.47 78.2v-1.2M179.48 78.2v-1.2M180.35 78.2v-1.2M181.11 78.2v-1.2M181.8 78.2v-2.6M186.32 78.2v-1.2M188.96 78.2v-1.2M190.83 78.2v-1.2M192.28 78.2v-1.8M193.47 78.2v-1.2M194.48 78.2v-1.2M195.35 78.2v-1.2M196.11 78.2v-1.2M196.8 78.2v-2.6M201.32 78.2v-1.2M203.96 78.2v-1.2M205.83 78.2v-1.2M207.28 78.2v-1.8M208.47 78.2v-1.2M209.48 78.2v-1.2M210.35 78.2v-1.2M211.11 78.2v-1.2M211.8 78.2v-2.6M216.32 78.2v-1.2M218.96 78.2v-1.2M220.83 78.2v-1.2M222.28 78.2v-1.8M223.47 78.2v-1.2M224.48 78.2v-1.2M225.35 78.2v-1.2M226.11 78.2v-1.2M226.8 78.2v-2.6M146.4 24.9h2.6M146.4 41.3h2.6M146.4 36.36h1.2M146.4 33.48h1.2M146.4 31.43h1.2M146.4 29.84h1.8M146.4 28.54h1.2M146.4 27.44h1.2M146.4 26.49h1.2M146.4 25.65h1.2M146.4 57.7h2.6M146.4 52.76h1.2M146.4 49.88h1.2M146.4 47.83h1.2M146.4 46.24h1.8M146.4 44.94h1.2M146.4 43.84h1.2M146.4 42.89h1.2M146.4 42.05h1.2M146.4 74.1h2.6M146.4 69.16h1.2M146.4 66.28h1.2M146.4 64.23h1.2M146.4 62.64h1.8M146.4 61.34h1.2M146.4 60.24h1.2M146.4 59.29h1.2M146.4 58.45h1.2M146.4 77.74h1.2M146.4 76.64h1.2M146.4 75.69h1.2M146.4 74.85h1.2" stroke="#1b1b2a" stroke-width="0.55" fill="none" opacity="0.9"/>
<text x="144.8" y="27.2" font-size="6.6" text-anchor="end" stroke="#1c1c1c" stroke-width="0.3">-6</text>
<path d="M144.8 24.9h1.6" stroke="#333" stroke-width="0.5"/>
<text x="144.8" y="43.5" font-size="6.6" text-anchor="end" stroke="#1c1c1c" stroke-width="0.3">-7</text>
<path d="M144.8 41.2h1.6" stroke="#333" stroke-width="0.5"/>
<text x="144.8" y="60.1" font-size="6.6" text-anchor="end" stroke="#1c1c1c" stroke-width="0.3">-8</text>
<path d="M144.8 57.8h1.6" stroke="#333" stroke-width="0.5"/>
<text x="144.8" y="76.5" font-size="6.6" text-anchor="end" stroke="#1c1c1c" stroke-width="0.3">-9</text>
<path d="M144.8 74.2h1.6" stroke="#333" stroke-width="0.5"/>
<text x="151.9" y="86.6" font-size="6.6" text-anchor="middle" stroke="#1c1c1c" stroke-width="0.3">-10</text>
<text x="166.9" y="86.6" font-size="6.6" text-anchor="middle" stroke="#1c1c1c" stroke-width="0.3">-9</text>
<text x="181.9" y="86.6" font-size="6.6" text-anchor="middle" stroke="#1c1c1c" stroke-width="0.3">-8</text>
<text x="196.9" y="86.6" font-size="6.6" text-anchor="middle" stroke="#1c1c1c" stroke-width="0.3">-7</text>
<text x="211.9" y="86.6" font-size="6.6" text-anchor="middle" stroke="#1c1c1c" stroke-width="0.3">-6</text>
<text x="226.9" y="86.6" font-size="6.6" text-anchor="middle" stroke="#1c1c1c" stroke-width="0.3">-5</text>
<text x="188.75" y="93.2" font-size="7.05" text-anchor="middle" stroke="#1c1c1c" stroke-width="0.3">Paxalisib (log<tspan font-size="3.88" dy="1.27">10</tspan><tspan dy="-1.27"> Molar)</tspan></text>
<text x="134.6" y="50.3" font-size="7.05" text-anchor="middle" transform="rotate(-90 134.6 50.3)" stroke="#1c1c1c" stroke-width="0.3">Ribociclib (log<tspan font-size="3.88" dy="1.27">10</tspan><tspan dy="-1.27"> Molar)</tspan></text>
<text x="187.9" y="17" font-size="7.8" text-anchor="middle" stroke="#1c1c1c" stroke-width="0.42">MB002</text>
<defs><linearGradient id="cb2" x1="0" y1="1" x2="0" y2="0"><stop offset="0" stop-color="#8c0c1a"/><stop offset="0.1" stop-color="#a8151e"/><stop offset="0.18" stop-color="#c81a1e"/><stop offset="0.25" stop-color="#e2201d"/><stop offset="0.38" stop-color="#f27a1d"/><stop offset="0.5" stop-color="#f8e41a"/><stop offset="0.62" stop-color="#a9d038"/><stop offset="0.75" stop-color="#4fb848"/><stop offset="1" stop-color="#158c48"/></linearGradient></defs>
<rect x="232.6" y="35.2" width="4" height="34.2" fill="url(#cb2)"/>
<text x="232.9" y="31" font-size="6.6" textLength="22" lengthAdjust="spacingAndGlyphs" stroke="#1c1c1c" stroke-width="0.3">Survival</text>
<text x="238.3" y="44.9" font-size="6.2" stroke="#1c1c1c" stroke-width="0.3">0.75</text>
<text x="238.3" y="54.6" font-size="6.2" stroke="#1c1c1c" stroke-width="0.3">0.50</text>
<text x="238.3" y="64" font-size="6.2" stroke="#1c1c1c" stroke-width="0.3">0.25</text>
<rect x="276" y="21.6" width="83.8" height="57.4" fill="#f7f5f5"/>
<rect x="276.8" y="64.2" width="10.6" height="13" fill="#e7e7e7"/>
<defs>
<clipPath id="hc3"><rect x="288" y="21.7" width="71.6" height="43.3"/></clipPath>
<linearGradient id="g52"><stop offset="0" stop-color="#e73b1d"/><stop offset="0.07" stop-color="#e73a1d"/><stop offset="0.14" stop-color="#e7391d"/><stop offset="0.21" stop-color="#e6381d"/><stop offset="0.29" stop-color="#e5341d"/><stop offset="0.36" stop-color="#e42c1d"/><stop offset="0.43" stop-color="#e2211d"/><stop offset="0.5" stop-color="#db1e1d"/><stop offset="0.57" stop-color="#d21c1e"/><stop offset="0.64" stop-color="#ca1a1e"/><stop offset="0.71" stop-color="#bd181e"/><stop offset="0.79" stop-color="#a4141d"/><stop offset="0.86" stop-color="#8c0c1a"/><stop offset="0.93" stop-color="#8c0c1a"/><stop offset="1" stop-color="#8c0c1a"/></linearGradient>
<linearGradient id="g53"><stop offset="0" stop-color="#e73c1d"/><stop offset="0.07" stop-color="#e73c1d"/><stop offset="0.14" stop-color="#e73b1d"/><stop offset="0.21" stop-color="#e6391d"/><stop offset="0.29" stop-color="#e6351d"/><stop offset="0.36" stop-color="#e42e1d"/><stop offset="0.43" stop-color="#e2221d"/><stop offset="0.5" stop-color="#db1e1d"/><stop offset="0.57" stop-color="#d31d1e"/><stop offset="0.64" stop-color="#cb1b1e"/><stop offset="0.71" stop-color="#be181e"/><stop offset="0.79" stop-color="#a4141d"/><stop offset="0.86" stop-color="#8c0c1a"/><stop offset="0.93" stop-color="#8c0c1a"/><stop offset="1" stop-color="#8c0c1a"/></linearGradient>
<linearGradient id="g54"><stop offset="0" stop-color="#e73f1d"/><stop offset="0.07" stop-color="#e73e1d"/><stop offset="0.14" stop-color="#e73d1d"/><stop offset="0.21" stop-color="#e73b1d"/><stop offset="0.29" stop-color="#e6371d"/><stop offset="0.36" stop-color="#e5301d"/><stop offset="0.43" stop-color="#e3241d"/><stop offset="0.5" stop-color="#dc1f1d"/><stop offset="0.57" stop-color="#d41d1e"/><stop offset="0.64" stop-color="#cc1b1e"/><stop offset="0.71" stop-color="#bf191e"/><stop offset="0.79" stop-color="#a5141e"/><stop offset="0.86" stop-color="#8c0c1a"/><stop offset="0.93" stop-color="#8c0c1a"/><stop offset="1" stop-color="#8c0c1a"/></linearGradient>
<linearGradient id="g55"><stop offset="0" stop-color="#e8411d"/><stop offset="0.07" stop-color="#e8411d"/><stop offset="0.14" stop-color="#e8401d"/><stop offset="0.21" stop-color="#e73e1d"/><stop offset="0.29" stop-color="#e73a1d"/><stop offset="0.36" stop-color="#e5331d"/><stop offset="0.43" stop-color="#e3271d"/><stop offset="0.5" stop-color="#de1f1d"/><stop offset="0.57" stop-color="#d51d1d"/><stop offset="0.64" stop-color="#cd1b1e"/><stop offset="0.71" stop-color="#c0191e"/><stop offset="0.79" stop-color="#a6141e"/><stop offset="0.86" stop-color="#8c0c1a"/><stop offset="0.93" stop-color="#8c0c1a"/><stop offset="1" stop-color="#8c0c1a"/></linearGradient>
<linearGradient id="g56"><stop offset="0" stop-color="#e9451d"/><stop offset="0.07" stop-color="#e8441d"/><stop offset="0.14" stop-color="#e8431d"/><stop offset="0.21" stop-color="#e8411d"/><stop offset="0.29" stop-color="#e73d1d"/><stop offset="0.36" stop-color="#e6361d"/><stop offset="0.43" stop-color="#e42a1d"/><stop offset="0.5" stop-color="#df1f1d"/><stop offset="0.57" stop-color="#d71d1d"/><stop offset="0.64" stop-color="#cf1c1e"/><stop offset="0.71" stop-color="#c2191e"/><stop offset="0.79" stop-color="#a7151e"/><stop offset="0.86" stop-color="#8c0c1a"/><stop offset="0.93" stop-color="#8c0c1a"/><stop offset="1" stop-color="#8c0c1a"/></linearGradient>
<linearGradient id="g57"><stop offset="0" stop-color="#e9491d"/><stop offset="0.07" stop-color="#e9481d"/><stop offset="0.14" stop-color="#e9471d"/><stop offset="0.21" stop-color="#e9451d"/><stop offset="0.29" stop-color="#e8411d"/><stop offset="0.36" stop-color="#e73a1d"/><stop offset="0.43" stop-color="#e52e1d"/><stop offset="0.5" stop-color="#e1201d"/><stop offset="0.57" stop-color="#d91e1d"/><stop offset="0.64" stop-color="#d01c1e"/><stop offset="0.71" stop-color="#c4191e"/><stop offset="0.79" stop-color="#a8151e"/><stop offset="0.86" stop-color="#8c0c1a"/><stop offset="0.93" stop-color="#8c0c1a"/><stop offset="1" stop-color="#8c0c1a"/></linearGradient>
<linearGradient id="g58"><stop offset="0" stop-color="#ea4e1d"/><stop offset="0.07" stop-color="#ea4e1d"/><stop offset="0.14" stop-color="#ea4d1d"/><stop offset="0.21" stop-color="#ea4b1d"/><stop offset="0.29" stop-color="#e9471d"/><stop offset="0.36" stop-color="#e83f1d"/><stop offset="0.43" stop-color="#e5331d"/><stop offset="0.5" stop-color="#e3241d"/><stop offset="0.57" stop-color="#db1e1d"/><stop offset="0.64" stop-color="#d31d1e"/><stop offset="0.71" stop-color="#c61a1e"/><stop offset="0.79" stop-color="#aa151e"/><stop offset="0.86" stop-color="#8c0c1a"/><stop offset="0.93" stop-color="#8c0c1a"/><stop offset="1" stop-color="#8c0c1a"/></linearGradient>
<linearGradient id="g59"><stop offset="0" stop-color="#eb551d"/><stop offset="0.07" stop-color="#eb541d"/><stop offset="0.14" stop-color="#eb531d"/><stop offset="0.21" stop-color="#eb511d"/><stop offset="0.29" stop-color="#ea4d1d"/><stop offset="0.36" stop-color="#e9451d"/><stop offset="0.43" stop-color="#e6391d"/><stop offset="0.5" stop-color="#e42a1d"/><stop offset="0.57" stop-color="#de1f1d"/><stop offset="0.64" stop-color="#d61d1d"/><stop offset="0.71" stop-color="#c91a1e"/><stop offset="0.79" stop-color="#ad161e"/><stop offset="0.86" stop-color="#8c0c1a"/><stop offset="0.93" stop-color="#8c0c1a"/><stop offset="1" stop-color="#8c0c1a"/></linearGradient>
<linearGradient id="g60"><stop offset="0" stop-color="#ed5c1d"/><stop offset="0.07" stop-color="#ed5c1d"/><stop offset="0.14" stop-color="#ec5b1d"/><stop offset="0.21" stop-color="#ec591d"/><stop offset="0.29" stop-color="#eb551d"/><stop offset="0.36" stop-color="#ea4d1d"/><stop offset="0.43" stop-color="#e8411d"/><stop offset="0.5" stop-color="#e5311d"/><stop offset="0.57" stop-color="#e2201d"/><stop offset="0.64" stop-color="#d91e1d"/><stop offset="0.71" stop-color="#cd1b1e"/><stop offset="0.79" stop-color="#b0161e"/><stop offset="0.86" stop-color="#8c0c1a"/><stop offset="0.93" stop-color="#8c0c1a"/><stop offset="1" stop-color="#8c0c1a"/></linearGradient>
<linearGradient id="g61"><stop offset="0" stop-color="#ee651d"/><stop offset="0.07" stop-color="#ee651d"/><stop offset="0.14" stop-color="#ee641d"/><stop offset="0.21" stop-color="#ee621d"/><stop offset="0.29" stop-color="#ed5e1d"/><stop offset="0.36" stop-color="#ec561d"/><stop offset="0.43" stop-color="#e9491d"/><stop offset="0.5" stop-color="#e6391d"/><stop offset="0.57" stop-color="#e3281d"/><stop offset="0.64" stop-color="#de1f1d"/><stop offset="0.71" stop-color="#d11c1e"/><stop offset="0.79" stop-color="#b4171e"/><stop offset="0.86" stop-color="#8e0d1a"/><stop offset="0.93" stop-color="#8c0c1a"/><stop offset="1" stop-color="#8c0c1a"/></linearGradient>
<linearGradient id="g62"><stop offset="0" stop-color="#f0701d"/><stop offset="0.07" stop-color="#f0701d"/><stop offset="0.14" stop-color="#f06f1d"/><stop offset="0.21" stop-color="#f06d1d"/><stop offset="0.29" stop-color="#ef681d"/><stop offset="0.36" stop-color="#ed601d"/><stop offset="0.43" stop-color="#eb531d"/><stop offset="0.5" stop-color="#e8431d"/><stop offset="0.57" stop-color="#e5321d"/><stop offset="0.64" stop-color="#e2211d"/><stop offset="0.71" stop-color="#d51d1d"/><stop offset="0.79" stop-color="#b8181e"/><stop offset="0.86" stop-color="#900d1b"/><stop offset="0.93" stop-color="#8c0c1a"/><stop offset="1" stop-color="#8c0c1a"/></linearGradient>
<linearGradient id="g63"><stop offset="0" stop-color="#f27d1d"/><stop offset="0.07" stop-color="#f27d1d"/><stop offset="0.14" stop-color="#f27b1d"/><stop offset="0.21" stop-color="#f2791d"/><stop offset="0.29" stop-color="#f1741d"/><stop offset="0.36" stop-color="#f06c1d"/><stop offset="0.43" stop-color="#ed5f1d"/><stop offset="0.5" stop-color="#ea4e1d"/><stop offset="0.57" stop-color="#e73d1d"/><stop offset="0.64" stop-color="#e42c1d"/><stop offset="0.71" stop-color="#db1e1d"/><stop offset="0.79" stop-color="#bd181e"/><stop offset="0.86" stop-color="#930e1b"/><stop offset="0.93" stop-color="#8c0c1a"/><stop offset="1" stop-color="#8c0c1a"/></linearGradient>
<linearGradient id="g64"><stop offset="0" stop-color="#f38f1c"/><stop offset="0.07" stop-color="#f38e1c"/><stop offset="0.14" stop-color="#f38d1c"/><stop offset="0.21" stop-color="#f38a1d"/><stop offset="0.29" stop-color="#f3841d"/><stop offset="0.36" stop-color="#f27a1d"/><stop offset="0.43" stop-color="#f06c1d"/><stop offset="0.5" stop-color="#ed5b1d"/><stop offset="0.57" stop-color="#e9491d"/><stop offset="0.64" stop-color="#e6381d"/><stop offset="0.71" stop-color="#e1201d"/><stop offset="0.79" stop-color="#c3191e"/><stop offset="0.86" stop-color="#960f1b"/><stop offset="0.93" stop-color="#8c0c1a"/><stop offset="1" stop-color="#8c0c1a"/></linearGradient>
<linearGradient id="g65"><stop offset="0" stop-color="#f4a31c"/><stop offset="0.07" stop-color="#f4a21c"/><stop offset="0.14" stop-color="#f4a11c"/><stop offset="0.21" stop-color="#f49e1c"/><stop offset="0.29" stop-color="#f4981c"/><stop offset="0.36" stop-color="#f38d1c"/><stop offset="0.43" stop-color="#f27b1d"/><stop offset="0.5" stop-color="#ef691d"/><stop offset="0.57" stop-color="#ec571d"/><stop offset="0.64" stop-color="#e9451d"/><stop offset="0.71" stop-color="#e42a1d"/><stop offset="0.79" stop-color="#c91a1e"/><stop offset="0.86" stop-color="#9a101c"/><stop offset="0.93" stop-color="#8c0c1a"/><stop offset="1" stop-color="#8c0c1a"/></linearGradient>
<linearGradient id="g66"><stop offset="0" stop-color="#f5b81b"/><stop offset="0.07" stop-color="#f5b71b"/><stop offset="0.14" stop-color="#f5b51b"/><stop offset="0.21" stop-color="#f5b21b"/><stop offset="0.29" stop-color="#f5ac1c"/><stop offset="0.36" stop-color="#f4a11c"/><stop offset="0.43" stop-color="#f38f1c"/><stop offset="0.5" stop-color="#f2781d"/><stop offset="0.57" stop-color="#ee651d"/><stop offset="0.64" stop-color="#eb531d"/><stop offset="0.71" stop-color="#e6371d"/><stop offset="0.79" stop-color="#d01c1e"/><stop offset="0.86" stop-color="#9d121c"/><stop offset="0.93" stop-color="#8c0c1a"/><stop offset="1" stop-color="#8c0c1a"/></linearGradient>
<linearGradient id="g67"><stop offset="0" stop-color="#f7cd1b"/><stop offset="0.07" stop-color="#f7cc1b"/><stop offset="0.14" stop-color="#f7cb1b"/><stop offset="0.21" stop-color="#f6c81b"/><stop offset="0.29" stop-color="#f6c21b"/><stop offset="0.36" stop-color="#f5b61b"/><stop offset="0.43" stop-color="#f4a41c"/><stop offset="0.5" stop-color="#f38c1c"/><stop offset="0.57" stop-color="#f1741d"/><stop offset="0.64" stop-color="#ee611d"/><stop offset="0.71" stop-color="#e9451d"/><stop offset="0.79" stop-color="#d61d1d"/><stop offset="0.86" stop-color="#a1131d"/><stop offset="0.93" stop-color="#8c0c1a"/><stop offset="1" stop-color="#8c0c1a"/></linearGradient>
<linearGradient id="g68"><stop offset="0" stop-color="#f8e31a"/><stop offset="0.07" stop-color="#f8e21a"/><stop offset="0.14" stop-color="#f8e11a"/><stop offset="0.21" stop-color="#f8dd1a"/><stop offset="0.29" stop-color="#f7d71a"/><stop offset="0.36" stop-color="#f7cb1b"/><stop offset="0.43" stop-color="#f6b81b"/><stop offset="0.5" stop-color="#f4a01c"/><stop offset="0.57" stop-color="#f3861d"/><stop offset="0.64" stop-color="#f0701d"/><stop offset="0.71" stop-color="#eb531d"/><stop offset="0.79" stop-color="#dd1f1d"/><stop offset="0.86" stop-color="#a5141e"/><stop offset="0.93" stop-color="#8c0c1a"/><stop offset="1" stop-color="#8c0c1a"/></linearGradient>
<linearGradient id="g69"><stop offset="0" stop-color="#e9e020"/><stop offset="0.07" stop-color="#e9e020"/><stop offset="0.14" stop-color="#ebe11f"/><stop offset="0.21" stop-color="#ede11e"/><stop offset="0.29" stop-color="#f2e21c"/><stop offset="0.36" stop-color="#f8e01a"/><stop offset="0.43" stop-color="#f7cc1b"/><stop offset="0.5" stop-color="#f5b31b"/><stop offset="0.57" stop-color="#f4991c"/><stop offset="0.64" stop-color="#f27f1d"/><stop offset="0.71" stop-color="#ed601d"/><stop offset="0.79" stop-color="#e2221d"/><stop offset="0.86" stop-color="#a9151e"/><stop offset="0.93" stop-color="#8c0c1a"/><stop offset="1" stop-color="#8c0c1a"/></linearGradient>
<linearGradient id="g70"><stop offset="0" stop-color="#dadc25"/><stop offset="0.07" stop-color="#dadd25"/><stop offset="0.14" stop-color="#dcdd25"/><stop offset="0.21" stop-color="#dedd24"/><stop offset="0.29" stop-color="#e3df22"/><stop offset="0.36" stop-color="#ede11e"/><stop offset="0.43" stop-color="#f8df1a"/><stop offset="0.5" stop-color="#f6c61b"/><stop offset="0.57" stop-color="#f5ab1c"/><stop offset="0.64" stop-color="#f3901c"/><stop offset="0.71" stop-color="#f06d1d"/><stop offset="0.79" stop-color="#e42e1d"/><stop offset="0.86" stop-color="#ae161e"/><stop offset="0.93" stop-color="#8c0c1a"/><stop offset="1" stop-color="#8c0c1a"/></linearGradient>
<linearGradient id="g71"><stop offset="0" stop-color="#ccd92b"/><stop offset="0.07" stop-color="#cdd92a"/><stop offset="0.14" stop-color="#ced92a"/><stop offset="0.21" stop-color="#d0da29"/><stop offset="0.29" stop-color="#d6db27"/><stop offset="0.36" stop-color="#dfde23"/><stop offset="0.43" stop-color="#eee21e"/><stop offset="0.5" stop-color="#f7d71a"/><stop offset="0.57" stop-color="#f6bb1b"/><stop offset="0.64" stop-color="#f4a01c"/><stop offset="0.71" stop-color="#f2791d"/><stop offset="0.79" stop-color="#e6381d"/><stop offset="0.86" stop-color="#b3171e"/><stop offset="0.93" stop-color="#8c0c1a"/><stop offset="1" stop-color="#8c0c1a"/></linearGradient>
<linearGradient id="g72"><stop offset="0" stop-color="#c0d62f"/><stop offset="0.07" stop-color="#c0d62f"/><stop offset="0.14" stop-color="#c1d62f"/><stop offset="0.21" stop-color="#c4d72e"/><stop offset="0.29" stop-color="#c9d82c"/><stop offset="0.36" stop-color="#d3db28"/><stop offset="0.43" stop-color="#e2df22"/><stop offset="0.5" stop-color="#f6e41b"/><stop offset="0.57" stop-color="#f7ca1b"/><stop offset="0.64" stop-color="#f5af1c"/><stop offset="0.71" stop-color="#f3861d"/><stop offset="0.79" stop-color="#e8411d"/><stop offset="0.86" stop-color="#b7171e"/><stop offset="0.93" stop-color="#8c0c1a"/><stop offset="1" stop-color="#8c0c1a"/></linearGradient>
<linearGradient id="g73"><stop offset="0" stop-color="#b5d334"/><stop offset="0.07" stop-color="#b5d333"/><stop offset="0.14" stop-color="#b7d333"/><stop offset="0.21" stop-color="#b9d432"/><stop offset="0.29" stop-color="#bfd530"/><stop offset="0.36" stop-color="#c8d82c"/><stop offset="0.43" stop-color="#d8dc26"/><stop offset="0.5" stop-color="#ece11e"/><stop offset="0.57" stop-color="#f7d71a"/><stop offset="0.64" stop-color="#f6bb1b"/><stop offset="0.71" stop-color="#f3921c"/><stop offset="0.79" stop-color="#e94a1d"/><stop offset="0.86" stop-color="#bb181e"/><stop offset="0.93" stop-color="#8c0c1a"/><stop offset="1" stop-color="#8c0c1a"/></linearGradient>
<linearGradient id="g74" x1="0" y1="0" x2="0" y2="1"><stop offset="0" stop-color="#e8431d"/><stop offset="0.07" stop-color="#e9461d"/><stop offset="0.14" stop-color="#ea4b1d"/><stop offset="0.21" stop-color="#eb511d"/><stop offset="0.29" stop-color="#ec5a1d"/><stop offset="0.36" stop-color="#ee661d"/><stop offset="0.43" stop-color="#f1751d"/><stop offset="0.5" stop-color="#f38c1c"/><stop offset="0.57" stop-color="#f5a81c"/><stop offset="0.64" stop-color="#f6c71b"/><stop offset="0.71" stop-color="#f5e31b"/><stop offset="0.79" stop-color="#dedd24"/><stop offset="0.86" stop-color="#c9d82c"/><stop offset="0.93" stop-color="#b8d432"/><stop offset="1" stop-color="#a9d038"/></linearGradient>
<linearGradient id="g75"><stop offset="0" stop-color="#38a648"/><stop offset="0.04" stop-color="#38a648"/><stop offset="0.08" stop-color="#38a648"/><stop offset="0.12" stop-color="#38a648"/><stop offset="0.17" stop-color="#38a648"/><stop offset="0.21" stop-color="#38a648"/><stop offset="0.25" stop-color="#38a648"/><stop offset="0.29" stop-color="#38a648"/><stop offset="0.33" stop-color="#38a648"/><stop offset="0.38" stop-color="#38a648"/><stop offset="0.42" stop-color="#38a648"/><stop offset="0.46" stop-color="#38a748"/><stop offset="0.5" stop-color="#38a748"/><stop offset="0.54" stop-color="#39a848"/><stop offset="0.58" stop-color="#3ba948"/><stop offset="0.62" stop-color="#41ad48"/><stop offset="0.67" stop-color="#4cb648"/><stop offset="0.71" stop-color="#86c73e"/><stop offset="0.75" stop-color="#e3df22"/><stop offset="0.79" stop-color="#f2811d"/><stop offset="0.83" stop-color="#e6371d"/><stop offset="0.88" stop-color="#d91e1d"/><stop offset="0.92" stop-color="#cf1c1e"/><stop offset="0.96" stop-color="#cb1b1e"/><stop offset="1" stop-color="#c91a1e"/></linearGradient>
</defs>
<g clip-path="url(#hc3)" shape-rendering="crispEdges">
<rect x="288" y="21" width="71.6" height="2" fill="url(#g52)"/>
<rect x="288" y="23" width="71.6" height="2" fill="url(#g53)"/>
<rect x="288" y="25" width="71.6" height="2" fill="url(#g54)"/>
<rect x="288" y="27" width="71.6" height="2" fill="url(#g55)"/>
<rect x="288" y="29" width="71.6" height="2" fill="url(#g56)"/>
<rect x="288" y="31" width="71.6" height="2" fill="url(#g57)"/>
<rect x="288" y="33" width="71.6" height="2" fill="url(#g58)"/>
<rect x="288" y="35" width="71.6" height="2" fill="url(#g59)"/>
<rect x="288" y="37" width="71.6" height="2" fill="url(#g60)"/>
<rect x="288" y="39" width="71.6" height="2" fill="url(#g61)"/>
<rect x="288" y="41" width="71.6" height="2" fill="url(#g62)"/>
<rect x="288" y="43" width="71.6" height="2" fill="url(#g63)"/>
<rect x="288" y="45" width="71.6" height="2" fill="url(#g64)"/>
<rect x="288" y="47" width="71.6" height="2" fill="url(#g65)"/>
<rect x="288" y="49" width="71.6" height="2" fill="url(#g66)"/>
<rect x="288" y="51" width="71.6" height="2" fill="url(#g67)"/>
<rect x="288" y="53" width="71.6" height="2" fill="url(#g68)"/>
<rect x="288" y="55" width="71.6" height="2" fill="url(#g69)"/>
<rect x="288" y="57" width="71.6" height="2" fill="url(#g70)"/>
<rect x="288" y="59" width="71.6" height="2" fill="url(#g71)"/>
<rect x="288" y="61" width="71.6" height="2" fill="url(#g72)"/>
<rect x="288" y="63" width="71.6" height="2" fill="url(#g73)"/>
</g>
<rect x="279.8" y="21.7" width="5.1" height="42.5" fill="url(#g74)"/>
<rect x="288" y="69" width="71.6" height="7.6" fill="url(#g75)"/>
<path d="M337.1 21.7C338.23 22.75 341.97 24.95 343.9 28C345.83 31.05 347.45 35.75 348.7 40C349.95 44.25 350.5 49.33 351.4 53.5C352.3 57.67 353.65 63.08 354.1 65" fill="none" stroke="#fbe6e2" stroke-width="1.1"/>
<path d="M288 54.3C290 54.3 296.67 54.18 300 54.3C303.33 54.42 305.67 54.62 308 55C310.33 55.38 312.07 55.93 314 56.6C315.93 57.27 318.02 58.1 319.6 59C321.18 59.9 322.38 61.03 323.5 62C324.62 62.97 325.83 64.33 326.3 64.8" fill="none" stroke="#111" stroke-width="1.15"/>
<path d="M279.8 52.9H345.2V76.6" fill="none" stroke="#1a0c0c" stroke-width="1.2" stroke-dasharray="3.4 2.3"/>
<path d="M277.42 79v-1.8M278.63 79v-1.2M279.65 79v-1.2M280.53 79v-1.2M281.3 79v-1.2M282 79v-2.6M286.58 79v-1.2M289.25 79v-1.2M291.15 79v-1.2M292.62 79v-1.8M293.83 79v-1.2M294.85 79v-1.2M295.73 79v-1.2M296.5 79v-1.2M297.2 79v-2.6M301.78 79v-1.2M304.45 79v-1.2M306.35 79v-1.2M307.82 79v-1.8M309.03 79v-1.2M310.05 79v-1.2M310.93 79v-1.2M311.7 79v-1.2M312.4 79v-2.6M316.98 79v-1.2M319.65 79v-1.2M321.55 79v-1.2M323.02 79v-1.8M324.23 79v-1.2M325.25 79v-1.2M326.13 79v-1.2M326.9 79v-1.2M327.6 79v-2.6M332.18 79v-1.2M334.85 79v-1.2M336.75 79v-1.2M338.22 79v-1.8M339.43 79v-1.2M340.45 79v-1.2M341.33 79v-1.2M342.1 79v-1.2M342.8 79v-2.6M347.38 79v-1.2M350.05 79v-1.2M351.95 79v-1.2M353.42 79v-1.8M354.63 79v-1.2M355.65 79v-1.2M356.53 79v-1.2M357.3 79v-1.2M358 79v-2.6M276 28.9h2.6M276 53.1h2.6M276 45.82h1.2M276 41.55h1.2M276 38.53h1.2M276 36.18h1.8M276 34.27h1.2M276 32.65h1.2M276 31.25h1.2M276 30.01h1.2M276 77.3h2.6M276 70.02h1.2M276 65.75h1.2M276 62.73h1.2M276 60.38h1.8M276 58.47h1.2M276 56.85h1.2M276 55.45h1.2M276 54.21h1.2M276 78.41h1.2" stroke="#1b1b2a" stroke-width="0.55" fill="none" opacity="0.9"/>
<text x="274.4" y="31.2" font-size="6.6" text-anchor="end" stroke="#1c1c1c" stroke-width="0.3">-5</text>
<path d="M274.4 28.9h1.6" stroke="#333" stroke-width="0.5"/>
<text x="274.4" y="55.5" font-size="6.6" text-anchor="end" stroke="#1c1c1c" stroke-width="0.3">-6</text>
<path d="M274.4 53.2h1.6" stroke="#333" stroke-width="0.5"/>
<text x="274.4" y="78.9" font-size="6.6" text-anchor="end" stroke="#1c1c1c" stroke-width="0.3">-7</text>
<path d="M274.4 76.6h1.6" stroke="#333" stroke-width="0.5"/>
<text x="282.1" y="86.6" font-size="6.6" text-anchor="middle" stroke="#1c1c1c" stroke-width="0.3">-10</text>
<text x="297.3" y="86.6" font-size="6.6" text-anchor="middle" stroke="#1c1c1c" stroke-width="0.3">-9</text>
<text x="312.5" y="86.6" font-size="6.6" text-anchor="middle" stroke="#1c1c1c" stroke-width="0.3">-8</text>
<text x="327.7" y="86.6" font-size="6.6" text-anchor="middle" stroke="#1c1c1c" stroke-width="0.3">-7</text>
<text x="342.9" y="86.6" font-size="6.6" text-anchor="middle" stroke="#1c1c1c" stroke-width="0.3">-6</text>
<text x="358.1" y="86.6" font-size="6.6" text-anchor="middle" stroke="#1c1c1c" stroke-width="0.3">-5</text>
<text x="321.9" y="93.2" font-size="7.05" text-anchor="middle" stroke="#1c1c1c" stroke-width="0.3">Paxalisib (log<tspan font-size="3.88" dy="1.27">10</tspan><tspan dy="-1.27"> Molar)</tspan></text>
<text x="262.5" y="50" font-size="7.05" text-anchor="middle" transform="rotate(-90 262.5 50)" stroke="#1c1c1c" stroke-width="0.3">Ribociclib (log<tspan font-size="3.88" dy="1.27">10</tspan><tspan dy="-1.27"> Molar)</tspan></text>
<text x="317.9" y="17" font-size="7.8" text-anchor="middle" stroke="#1c1c1c" stroke-width="0.42">SJMBG3-12-5950</text>
<defs><linearGradient id="cb3" x1="0" y1="1" x2="0" y2="0"><stop offset="0" stop-color="#8c0c1a"/><stop offset="0.1" stop-color="#a8151e"/><stop offset="0.18" stop-color="#c81a1e"/><stop offset="0.25" stop-color="#e2201d"/><stop offset="0.38" stop-color="#f27a1d"/><stop offset="0.5" stop-color="#f8e41a"/><stop offset="0.62" stop-color="#a9d038"/><stop offset="0.75" stop-color="#4fb848"/><stop offset="1" stop-color="#158c48"/></linearGradient></defs>
<rect x="361.6" y="35.2" width="4" height="34.4" fill="url(#cb3)"/>
<text x="361.9" y="31" font-size="6.6" textLength="22" lengthAdjust="spacingAndGlyphs" stroke="#1c1c1c" stroke-width="0.3">Survival</text>
<text x="367.3" y="43.5" font-size="6.2" stroke="#1c1c1c" stroke-width="0.3">0.75</text>
<text x="367.3" y="53.5" font-size="6.2" stroke="#1c1c1c" stroke-width="0.3">0.50</text>
<text x="367.3" y="63.7" font-size="6.2" stroke="#1c1c1c" stroke-width="0.3">0.25</text>
<rect x="407.4" y="21" width="83" height="57.5" fill="#f7f5f5"/>
<rect x="408.2" y="69" width="8.8" height="8.4" fill="#e7e7e7"/>
<defs>
<clipPath id="hc4"><rect x="417.6" y="21" width="72.6" height="48"/></clipPath>
<linearGradient id="g76"><stop offset="0" stop-color="#ec581d"/><stop offset="0.07" stop-color="#ec571d"/><stop offset="0.13" stop-color="#ec571d"/><stop offset="0.2" stop-color="#ec561d"/><stop offset="0.27" stop-color="#eb541d"/><stop offset="0.33" stop-color="#eb501d"/><stop offset="0.4" stop-color="#ea4b1d"/><stop offset="0.47" stop-color="#e8401d"/><stop offset="0.53" stop-color="#e52f1d"/><stop offset="0.6" stop-color="#dc1f1d"/><stop offset="0.67" stop-color="#ca1a1e"/><stop offset="0.73" stop-color="#b3171e"/><stop offset="0.8" stop-color="#a0121d"/><stop offset="0.87" stop-color="#930e1b"/><stop offset="0.93" stop-color="#8c0c1a"/><stop offset="1" stop-color="#8c0c1a"/></linearGradient>
<linearGradient id="g77"><stop offset="0" stop-color="#ee631d"/><stop offset="0.07" stop-color="#ee621d"/><stop offset="0.13" stop-color="#ee621d"/><stop offset="0.2" stop-color="#ee611d"/><stop offset="0.27" stop-color="#ed5f1d"/><stop offset="0.33" stop-color="#ed5b1d"/><stop offset="0.4" stop-color="#eb551d"/><stop offset="0.47" stop-color="#ea4a1d"/><stop offset="0.53" stop-color="#e6391d"/><stop offset="0.6" stop-color="#e1201d"/><stop offset="0.67" stop-color="#ce1b1e"/><stop offset="0.73" stop-color="#b6171e"/><stop offset="0.8" stop-color="#a2131d"/><stop offset="0.87" stop-color="#950f1b"/><stop offset="0.93" stop-color="#8c0c1a"/><stop offset="1" stop-color="#8c0c1a"/></linearGradient>
<linearGradient id="g78"><stop offset="0" stop-color="#f0701d"/><stop offset="0.07" stop-color="#f0701d"/><stop offset="0.13" stop-color="#f06f1d"/><stop offset="0.2" stop-color="#f06e1d"/><stop offset="0.27" stop-color="#f06c1d"/><stop offset="0.33" stop-color="#ef691d"/><stop offset="0.4" stop-color="#ee621d"/><stop offset="0.47" stop-color="#ec571d"/><stop offset="0.53" stop-color="#e9451d"/><stop offset="0.6" stop-color="#e4291d"/><stop offset="0.67" stop-color="#d31c1e"/><stop offset="0.73" stop-color="#ba181e"/><stop offset="0.8" stop-color="#a4141d"/><stop offset="0.87" stop-color="#960f1b"/><stop offset="0.93" stop-color="#8c0c1a"/><stop offset="1" stop-color="#8c0c1a"/></linearGradient>
<linearGradient id="g79"><stop offset="0" stop-color="#f2831d"/><stop offset="0.07" stop-color="#f2821d"/><stop offset="0.13" stop-color="#f2811d"/><stop offset="0.2" stop-color="#f2801d"/><stop offset="0.27" stop-color="#f27d1d"/><stop offset="0.33" stop-color="#f2791d"/><stop offset="0.4" stop-color="#f1721d"/><stop offset="0.47" stop-color="#ee661d"/><stop offset="0.53" stop-color="#eb531d"/><stop offset="0.6" stop-color="#e6351d"/><stop offset="0.67" stop-color="#d81e1d"/><stop offset="0.73" stop-color="#bf191e"/><stop offset="0.8" stop-color="#a6141e"/><stop offset="0.87" stop-color="#98101c"/><stop offset="0.93" stop-color="#8e0d1a"/><stop offset="1" stop-color="#8c0c1a"/></linearGradient>
<linearGradient id="g80"><stop offset="0" stop-color="#f49b1c"/><stop offset="0.07" stop-color="#f49a1c"/><stop offset="0.13" stop-color="#f4991c"/><stop offset="0.2" stop-color="#f4981c"/><stop offset="0.27" stop-color="#f4951c"/><stop offset="0.33" stop-color="#f3901c"/><stop offset="0.4" stop-color="#f3871d"/><stop offset="0.47" stop-color="#f2771d"/><stop offset="0.53" stop-color="#ee631d"/><stop offset="0.6" stop-color="#e8441d"/><stop offset="0.67" stop-color="#df1f1d"/><stop offset="0.73" stop-color="#c5191e"/><stop offset="0.8" stop-color="#aa151e"/><stop offset="0.87" stop-color="#9a101c"/><stop offset="0.93" stop-color="#8f0d1a"/><stop offset="1" stop-color="#8c0c1a"/></linearGradient>
<linearGradient id="g81"><stop offset="0" stop-color="#f5b51b"/><stop offset="0.07" stop-color="#f5b51b"/><stop offset="0.13" stop-color="#f5b41b"/><stop offset="0.2" stop-color="#f5b21b"/><stop offset="0.27" stop-color="#f5af1b"/><stop offset="0.33" stop-color="#f5aa1c"/><stop offset="0.4" stop-color="#f4a01c"/><stop offset="0.47" stop-color="#f38f1c"/><stop offset="0.53" stop-color="#f1751d"/><stop offset="0.6" stop-color="#eb541d"/><stop offset="0.67" stop-color="#e3281d"/><stop offset="0.73" stop-color="#cb1b1e"/><stop offset="0.8" stop-color="#ae161e"/><stop offset="0.87" stop-color="#9c111c"/><stop offset="0.93" stop-color="#910e1b"/><stop offset="1" stop-color="#8c0c1a"/></linearGradient>
<linearGradient id="g82"><stop offset="0" stop-color="#f7d11b"/><stop offset="0.07" stop-color="#f7d01b"/><stop offset="0.13" stop-color="#f7cf1b"/><stop offset="0.2" stop-color="#f7ce1b"/><stop offset="0.27" stop-color="#f7ca1b"/><stop offset="0.33" stop-color="#f6c51b"/><stop offset="0.4" stop-color="#f6ba1b"/><stop offset="0.47" stop-color="#f5a81c"/><stop offset="0.53" stop-color="#f38b1d"/><stop offset="0.6" stop-color="#ee651d"/><stop offset="0.67" stop-color="#e6361d"/><stop offset="0.73" stop-color="#d11c1e"/><stop offset="0.8" stop-color="#b3171e"/><stop offset="0.87" stop-color="#9f121d"/><stop offset="0.93" stop-color="#920e1b"/><stop offset="1" stop-color="#8c0c1a"/></linearGradient>
<linearGradient id="g83"><stop offset="0" stop-color="#f2e21c"/><stop offset="0.07" stop-color="#f2e31c"/><stop offset="0.13" stop-color="#f3e31c"/><stop offset="0.2" stop-color="#f4e31b"/><stop offset="0.27" stop-color="#f7e41a"/><stop offset="0.33" stop-color="#f8df1a"/><stop offset="0.4" stop-color="#f7d41a"/><stop offset="0.47" stop-color="#f6c21b"/><stop offset="0.53" stop-color="#f4a31c"/><stop offset="0.6" stop-color="#f1751d"/><stop offset="0.67" stop-color="#e8441d"/><stop offset="0.73" stop-color="#d71d1d"/><stop offset="0.8" stop-color="#b8171e"/><stop offset="0.87" stop-color="#a1131d"/><stop offset="0.93" stop-color="#940f1b"/><stop offset="1" stop-color="#8c0c1a"/></linearGradient>
<linearGradient id="g84"><stop offset="0" stop-color="#dfde24"/><stop offset="0.07" stop-color="#dfde24"/><stop offset="0.13" stop-color="#e0de23"/><stop offset="0.2" stop-color="#e1de23"/><stop offset="0.27" stop-color="#e4df22"/><stop offset="0.33" stop-color="#e9e020"/><stop offset="0.4" stop-color="#f1e21d"/><stop offset="0.47" stop-color="#f7da1a"/><stop offset="0.53" stop-color="#f6b91b"/><stop offset="0.6" stop-color="#f3881d"/><stop offset="0.67" stop-color="#eb511d"/><stop offset="0.73" stop-color="#dc1f1d"/><stop offset="0.8" stop-color="#bc181e"/><stop offset="0.87" stop-color="#a3131d"/><stop offset="0.93" stop-color="#960f1b"/><stop offset="1" stop-color="#8d0c1a"/></linearGradient>
<linearGradient id="g85"><stop offset="0" stop-color="#cdd92a"/><stop offset="0.07" stop-color="#ced92a"/><stop offset="0.13" stop-color="#ced92a"/><stop offset="0.2" stop-color="#d0da29"/><stop offset="0.27" stop-color="#d3db28"/><stop offset="0.33" stop-color="#d8dc26"/><stop offset="0.4" stop-color="#e1de23"/><stop offset="0.47" stop-color="#f0e21d"/><stop offset="0.53" stop-color="#f7cd1b"/><stop offset="0.6" stop-color="#f49a1c"/><stop offset="0.67" stop-color="#ed5d1d"/><stop offset="0.73" stop-color="#e1201d"/><stop offset="0.8" stop-color="#c0191e"/><stop offset="0.87" stop-color="#a5141e"/><stop offset="0.93" stop-color="#97101c"/><stop offset="1" stop-color="#8e0d1a"/></linearGradient>
<linearGradient id="g86"><stop offset="0" stop-color="#bed530"/><stop offset="0.07" stop-color="#bfd530"/><stop offset="0.13" stop-color="#c0d62f"/><stop offset="0.2" stop-color="#c1d62f"/><stop offset="0.27" stop-color="#c4d72e"/><stop offset="0.33" stop-color="#c9d82c"/><stop offset="0.4" stop-color="#d2da28"/><stop offset="0.47" stop-color="#e2de22"/><stop offset="0.53" stop-color="#f8df1a"/><stop offset="0.6" stop-color="#f5aa1c"/><stop offset="0.67" stop-color="#ef671d"/><stop offset="0.73" stop-color="#e3271d"/><stop offset="0.8" stop-color="#c4191e"/><stop offset="0.87" stop-color="#a7151e"/><stop offset="0.93" stop-color="#98101c"/><stop offset="1" stop-color="#8f0d1a"/></linearGradient>
<linearGradient id="g87"><stop offset="0" stop-color="#b2d235"/><stop offset="0.07" stop-color="#b2d234"/><stop offset="0.13" stop-color="#b3d334"/><stop offset="0.2" stop-color="#b5d334"/><stop offset="0.27" stop-color="#b8d432"/><stop offset="0.33" stop-color="#bdd530"/><stop offset="0.4" stop-color="#c6d72d"/><stop offset="0.47" stop-color="#d7dc27"/><stop offset="0.53" stop-color="#f1e21d"/><stop offset="0.6" stop-color="#f5b61b"/><stop offset="0.67" stop-color="#f0701d"/><stop offset="0.73" stop-color="#e42d1d"/><stop offset="0.8" stop-color="#c71a1e"/><stop offset="0.87" stop-color="#a8151e"/><stop offset="0.93" stop-color="#99101c"/><stop offset="1" stop-color="#900d1b"/></linearGradient>
<linearGradient id="g88"><stop offset="0" stop-color="#a8d038"/><stop offset="0.07" stop-color="#a8d038"/><stop offset="0.13" stop-color="#a9d038"/><stop offset="0.2" stop-color="#abd037"/><stop offset="0.27" stop-color="#aed136"/><stop offset="0.33" stop-color="#b3d334"/><stop offset="0.4" stop-color="#bdd530"/><stop offset="0.47" stop-color="#cdd92a"/><stop offset="0.53" stop-color="#e9e020"/><stop offset="0.6" stop-color="#f6c11b"/><stop offset="0.67" stop-color="#f1771d"/><stop offset="0.73" stop-color="#e5331d"/><stop offset="0.8" stop-color="#c91a1e"/><stop offset="0.87" stop-color="#aa151e"/><stop offset="0.93" stop-color="#9a111c"/><stop offset="1" stop-color="#910d1b"/></linearGradient>
<linearGradient id="g89"><stop offset="0" stop-color="#a0cd3a"/><stop offset="0.07" stop-color="#a0ce3a"/><stop offset="0.13" stop-color="#a1ce39"/><stop offset="0.2" stop-color="#a3ce39"/><stop offset="0.27" stop-color="#a6cf39"/><stop offset="0.33" stop-color="#acd137"/><stop offset="0.4" stop-color="#b5d333"/><stop offset="0.47" stop-color="#c6d72d"/><stop offset="0.53" stop-color="#e2de22"/><stop offset="0.6" stop-color="#f6c91b"/><stop offset="0.67" stop-color="#f27c1d"/><stop offset="0.73" stop-color="#e6371d"/><stop offset="0.8" stop-color="#ca1b1e"/><stop offset="0.87" stop-color="#ab161e"/><stop offset="0.93" stop-color="#9b111c"/><stop offset="1" stop-color="#910e1b"/></linearGradient>
<linearGradient id="g90"><stop offset="0" stop-color="#99cc3b"/><stop offset="0.07" stop-color="#9acc3b"/><stop offset="0.13" stop-color="#9bcc3b"/><stop offset="0.2" stop-color="#9dcd3a"/><stop offset="0.27" stop-color="#a0ce3a"/><stop offset="0.33" stop-color="#a6cf39"/><stop offset="0.4" stop-color="#b0d235"/><stop offset="0.47" stop-color="#c1d62f"/><stop offset="0.53" stop-color="#dddd24"/><stop offset="0.6" stop-color="#f7cf1b"/><stop offset="0.67" stop-color="#f2821d"/><stop offset="0.73" stop-color="#e73a1d"/><stop offset="0.8" stop-color="#cc1b1e"/><stop offset="0.87" stop-color="#ac161e"/><stop offset="0.93" stop-color="#9b111c"/><stop offset="1" stop-color="#910e1b"/></linearGradient>
<linearGradient id="g91"><stop offset="0" stop-color="#94cb3c"/><stop offset="0.07" stop-color="#95cb3c"/><stop offset="0.13" stop-color="#96cb3b"/><stop offset="0.2" stop-color="#98cb3b"/><stop offset="0.27" stop-color="#9bcc3a"/><stop offset="0.33" stop-color="#a1ce39"/><stop offset="0.4" stop-color="#abd137"/><stop offset="0.47" stop-color="#bdd531"/><stop offset="0.53" stop-color="#d9dc26"/><stop offset="0.6" stop-color="#f7d41a"/><stop offset="0.67" stop-color="#f3861d"/><stop offset="0.73" stop-color="#e73d1d"/><stop offset="0.8" stop-color="#cd1b1e"/><stop offset="0.87" stop-color="#ad161e"/><stop offset="0.93" stop-color="#9c111c"/><stop offset="1" stop-color="#920e1b"/></linearGradient>
<linearGradient id="g92"><stop offset="0" stop-color="#91ca3c"/><stop offset="0.07" stop-color="#91ca3c"/><stop offset="0.13" stop-color="#92ca3c"/><stop offset="0.2" stop-color="#94ca3c"/><stop offset="0.27" stop-color="#98cb3b"/><stop offset="0.33" stop-color="#9dcd3a"/><stop offset="0.4" stop-color="#a8d038"/><stop offset="0.47" stop-color="#bad432"/><stop offset="0.53" stop-color="#d6db27"/><stop offset="0.6" stop-color="#f7d71a"/><stop offset="0.67" stop-color="#f3891d"/><stop offset="0.73" stop-color="#e73e1d"/><stop offset="0.8" stop-color="#cd1b1e"/><stop offset="0.87" stop-color="#ae161e"/><stop offset="0.93" stop-color="#9c111c"/><stop offset="1" stop-color="#920e1b"/></linearGradient>
<linearGradient id="g93"><stop offset="0" stop-color="#8ec93d"/><stop offset="0.07" stop-color="#8fc93d"/><stop offset="0.13" stop-color="#90c93c"/><stop offset="0.2" stop-color="#92ca3c"/><stop offset="0.27" stop-color="#95cb3c"/><stop offset="0.33" stop-color="#9bcc3b"/><stop offset="0.4" stop-color="#a6cf39"/><stop offset="0.47" stop-color="#b7d433"/><stop offset="0.53" stop-color="#d4db28"/><stop offset="0.6" stop-color="#f7da1a"/><stop offset="0.67" stop-color="#f38b1d"/><stop offset="0.73" stop-color="#e8401d"/><stop offset="0.8" stop-color="#ce1b1e"/><stop offset="0.87" stop-color="#ae161e"/><stop offset="0.93" stop-color="#9c111c"/><stop offset="1" stop-color="#920e1b"/></linearGradient>
<linearGradient id="g94"><stop offset="0" stop-color="#8cc83d"/><stop offset="0.07" stop-color="#8dc83d"/><stop offset="0.13" stop-color="#8ec93d"/><stop offset="0.2" stop-color="#90c93d"/><stop offset="0.27" stop-color="#93ca3c"/><stop offset="0.33" stop-color="#99cc3b"/><stop offset="0.4" stop-color="#a4cf39"/><stop offset="0.47" stop-color="#b5d333"/><stop offset="0.53" stop-color="#d2da28"/><stop offset="0.6" stop-color="#f8dc1a"/><stop offset="0.67" stop-color="#f38c1c"/><stop offset="0.73" stop-color="#e8411d"/><stop offset="0.8" stop-color="#ce1b1e"/><stop offset="0.87" stop-color="#ae161e"/><stop offset="0.93" stop-color="#9c111c"/><stop offset="1" stop-color="#920e1b"/></linearGradient>
<linearGradient id="g95"><stop offset="0" stop-color="#8bc83d"/><stop offset="0.07" stop-color="#8bc83d"/><stop offset="0.13" stop-color="#8cc83d"/><stop offset="0.2" stop-color="#8ec93d"/><stop offset="0.27" stop-color="#92ca3c"/><stop offset="0.33" stop-color="#98cb3b"/><stop offset="0.4" stop-color="#a2ce39"/><stop offset="0.47" stop-color="#b4d334"/><stop offset="0.53" stop-color="#d1da29"/><stop offset="0.6" stop-color="#f8dd1a"/><stop offset="0.67" stop-color="#f38e1c"/><stop offset="0.73" stop-color="#e8411d"/><stop offset="0.8" stop-color="#cf1c1e"/><stop offset="0.87" stop-color="#af161e"/><stop offset="0.93" stop-color="#9d111c"/><stop offset="1" stop-color="#920e1b"/></linearGradient>
<linearGradient id="g96"><stop offset="0" stop-color="#8ac83e"/><stop offset="0.07" stop-color="#8ac83d"/><stop offset="0.13" stop-color="#8bc83d"/><stop offset="0.2" stop-color="#8dc93d"/><stop offset="0.27" stop-color="#91c93c"/><stop offset="0.33" stop-color="#97cb3b"/><stop offset="0.4" stop-color="#a1ce39"/><stop offset="0.47" stop-color="#b3d334"/><stop offset="0.53" stop-color="#d0da29"/><stop offset="0.6" stop-color="#f8de1a"/><stop offset="0.67" stop-color="#f38f1c"/><stop offset="0.73" stop-color="#e8421d"/><stop offset="0.8" stop-color="#cf1c1e"/><stop offset="0.87" stop-color="#af161e"/><stop offset="0.93" stop-color="#9d111c"/><stop offset="1" stop-color="#920e1b"/></linearGradient>
<linearGradient id="g97"><stop offset="0" stop-color="#89c73e"/><stop offset="0.07" stop-color="#8ac83e"/><stop offset="0.13" stop-color="#8bc83d"/><stop offset="0.2" stop-color="#8cc83d"/><stop offset="0.27" stop-color="#90c93c"/><stop offset="0.33" stop-color="#96cb3b"/><stop offset="0.4" stop-color="#a1ce39"/><stop offset="0.47" stop-color="#b3d234"/><stop offset="0.53" stop-color="#d0da29"/><stop offset="0.6" stop-color="#f8df1a"/><stop offset="0.67" stop-color="#f38f1c"/><stop offset="0.73" stop-color="#e8421d"/><stop offset="0.8" stop-color="#cf1c1e"/><stop offset="0.87" stop-color="#af161e"/><stop offset="0.93" stop-color="#9d111c"/><stop offset="1" stop-color="#920e1b"/></linearGradient>
<linearGradient id="g98"><stop offset="0" stop-color="#89c73e"/><stop offset="0.07" stop-color="#89c73e"/><stop offset="0.13" stop-color="#8ac83e"/><stop offset="0.2" stop-color="#8cc83d"/><stop offset="0.27" stop-color="#8fc93d"/><stop offset="0.33" stop-color="#95cb3c"/><stop offset="0.4" stop-color="#a0ce3a"/><stop offset="0.47" stop-color="#b2d235"/><stop offset="0.53" stop-color="#cfda29"/><stop offset="0.6" stop-color="#f8e01a"/><stop offset="0.67" stop-color="#f3901c"/><stop offset="0.73" stop-color="#e8431d"/><stop offset="0.8" stop-color="#cf1c1e"/><stop offset="0.87" stop-color="#af161e"/><stop offset="0.93" stop-color="#9d111c"/><stop offset="1" stop-color="#920e1b"/></linearGradient>
<linearGradient id="g99"><stop offset="0" stop-color="#88c73e"/><stop offset="0.07" stop-color="#89c73e"/><stop offset="0.13" stop-color="#8ac83e"/><stop offset="0.2" stop-color="#8bc83d"/><stop offset="0.27" stop-color="#8fc93d"/><stop offset="0.33" stop-color="#95cb3c"/><stop offset="0.4" stop-color="#a0ce3a"/><stop offset="0.47" stop-color="#b2d235"/><stop offset="0.53" stop-color="#cfda2a"/><stop offset="0.6" stop-color="#f8e01a"/><stop offset="0.67" stop-color="#f3901c"/><stop offset="0.73" stop-color="#e8431d"/><stop offset="0.8" stop-color="#cf1c1e"/><stop offset="0.87" stop-color="#af161e"/><stop offset="0.93" stop-color="#9d111c"/><stop offset="1" stop-color="#920e1b"/></linearGradient>
<linearGradient id="g100" x1="0" y1="0" x2="0" y2="1"><stop offset="0" stop-color="#f4991c"/><stop offset="0.06" stop-color="#f5ab1c"/><stop offset="0.12" stop-color="#f6c21b"/><stop offset="0.19" stop-color="#f8e01a"/><stop offset="0.25" stop-color="#e3df22"/><stop offset="0.31" stop-color="#ccd92b"/><stop offset="0.38" stop-color="#b9d432"/><stop offset="0.44" stop-color="#aad038"/><stop offset="0.5" stop-color="#9fcd3a"/><stop offset="0.56" stop-color="#98cc3b"/><stop offset="0.62" stop-color="#94ca3c"/><stop offset="0.69" stop-color="#91ca3c"/><stop offset="0.75" stop-color="#90c93c"/><stop offset="0.81" stop-color="#8fc93d"/><stop offset="0.88" stop-color="#8ec93d"/><stop offset="0.94" stop-color="#8ec93d"/><stop offset="1" stop-color="#8ec93d"/></linearGradient>
<linearGradient id="g101"><stop offset="0" stop-color="#73c142"/><stop offset="0.04" stop-color="#73c242"/><stop offset="0.08" stop-color="#74c241"/><stop offset="0.12" stop-color="#75c241"/><stop offset="0.17" stop-color="#77c341"/><stop offset="0.21" stop-color="#79c341"/><stop offset="0.25" stop-color="#7dc440"/><stop offset="0.29" stop-color="#82c63f"/><stop offset="0.33" stop-color="#8ac83e"/><stop offset="0.38" stop-color="#95cb3c"/><stop offset="0.42" stop-color="#a4cf39"/><stop offset="0.46" stop-color="#b9d432"/><stop offset="0.5" stop-color="#d3db28"/><stop offset="0.54" stop-color="#f5e31b"/><stop offset="0.58" stop-color="#f5b21b"/><stop offset="0.62" stop-color="#f2781d"/><stop offset="0.67" stop-color="#e9481d"/><stop offset="0.71" stop-color="#e01f1d"/><stop offset="0.75" stop-color="#cb1b1e"/><stop offset="0.79" stop-color="#b9181e"/><stop offset="0.83" stop-color="#ab151e"/><stop offset="0.88" stop-color="#a2131d"/><stop offset="0.92" stop-color="#9d121c"/><stop offset="0.96" stop-color="#9a101c"/><stop offset="1" stop-color="#97101c"/></linearGradient>
</defs>
<g clip-path="url(#hc4)" shape-rendering="crispEdges">
<rect x="417.6" y="21" width="72.6" height="2" fill="url(#g76)"/>
<rect x="417.6" y="23" width="72.6" height="2" fill="url(#g77)"/>
<rect x="417.6" y="25" width="72.6" height="2" fill="url(#g78)"/>
<rect x="417.6" y="27" width="72.6" height="2" fill="url(#g79)"/>
<rect x="417.6" y="29" width="72.6" height="2" fill="url(#g80)"/>
<rect x="417.6" y="31" width="72.6" height="2" fill="url(#g81)"/>
<rect x="417.6" y="33" width="72.6" height="2" fill="url(#g82)"/>
<rect x="417.6" y="35" width="72.6" height="2" fill="url(#g83)"/>
<rect x="417.6" y="37" width="72.6" height="2" fill="url(#g84)"/>
<rect x="417.6" y="39" width="72.6" height="2" fill="url(#g85)"/>
<rect x="417.6" y="41" width="72.6" height="2" fill="url(#g86)"/>
<rect x="417.6" y="43" width="72.6" height="2" fill="url(#g87)"/>
<rect x="417.6" y="45" width="72.6" height="2" fill="url(#g88)"/>
<rect x="417.6" y="47" width="72.6" height="2" fill="url(#g89)"/>
<rect x="417.6" y="49" width="72.6" height="2" fill="url(#g90)"/>
<rect x="417.6" y="51" width="72.6" height="2" fill="url(#g91)"/>
<rect x="417.6" y="53" width="72.6" height="2" fill="url(#g92)"/>
<rect x="417.6" y="55" width="72.6" height="2" fill="url(#g93)"/>
<rect x="417.6" y="57" width="72.6" height="2" fill="url(#g94)"/>
<rect x="417.6" y="59" width="72.6" height="2" fill="url(#g95)"/>
<rect x="417.6" y="61" width="72.6" height="2" fill="url(#g96)"/>
<rect x="417.6" y="63" width="72.6" height="2" fill="url(#g97)"/>
<rect x="417.6" y="65" width="72.6" height="2" fill="url(#g98)"/>
<rect x="417.6" y="67" width="72.6" height="2" fill="url(#g99)"/>
</g>
<rect x="410" y="21" width="5" height="48" fill="url(#g100)"/>
<rect x="417.6" y="71.6" width="72.6" height="5.2" fill="url(#g101)"/>
<path d="M488.4 21C488.58 21.67 489.17 23.58 489.5 25C489.83 26.42 490.25 28.75 490.4 29.5" fill="none" stroke="#fbe6e2" stroke-width="1.1"/>
<path d="M417.6 32.3C419.67 32.33 426.77 32.35 430 32.5C433.23 32.65 433.9 32.65 437 33.2C440.1 33.75 445.5 34.45 448.6 35.8C451.7 37.15 453.73 38.87 455.6 41.3C457.47 43.73 458.85 47.15 459.8 50.4C460.75 53.65 461 57.7 461.3 60.8C461.6 63.9 461.55 67.63 461.6 69" fill="none" stroke="#111" stroke-width="1.15"/>
<path d="M410 24.5H475.9V76.8" fill="none" stroke="#1a0c0c" stroke-width="1.2" stroke-dasharray="3.4 2.3"/>
<path d="M408.6 78.5v-1.2M409.5 78.5v-1.2M410.29 78.5v-1.2M411 78.5v-2.6M415.67 78.5v-1.2M418.4 78.5v-1.2M420.33 78.5v-1.2M421.83 78.5v-1.8M423.06 78.5v-1.2M424.1 78.5v-1.2M425 78.5v-1.2M425.79 78.5v-1.2M426.5 78.5v-2.6M431.17 78.5v-1.2M433.9 78.5v-1.2M435.83 78.5v-1.2M437.33 78.5v-1.8M438.56 78.5v-1.2M439.6 78.5v-1.2M440.5 78.5v-1.2M441.29 78.5v-1.2M442 78.5v-2.6M446.67 78.5v-1.2M449.4 78.5v-1.2M451.33 78.5v-1.2M452.83 78.5v-1.8M454.06 78.5v-1.2M455.1 78.5v-1.2M456 78.5v-1.2M456.79 78.5v-1.2M457.5 78.5v-2.6M462.17 78.5v-1.2M464.9 78.5v-1.2M466.83 78.5v-1.2M468.33 78.5v-1.8M469.56 78.5v-1.2M470.6 78.5v-1.2M471.5 78.5v-1.2M472.29 78.5v-1.2M473 78.5v-2.6M477.67 78.5v-1.2M480.4 78.5v-1.2M482.33 78.5v-1.2M483.83 78.5v-1.8M485.06 78.5v-1.2M486.1 78.5v-1.2M487 78.5v-1.2M487.79 78.5v-1.2M488.5 78.5v-2.6M407.4 25.2h2.6M407.4 42.3h2.6M407.4 37.15h1.2M407.4 34.14h1.2M407.4 32h1.2M407.4 30.35h1.8M407.4 28.99h1.2M407.4 27.85h1.2M407.4 26.86h1.2M407.4 25.98h1.2M407.4 59.4h2.6M407.4 54.25h1.2M407.4 51.24h1.2M407.4 49.1h1.2M407.4 47.45h1.8M407.4 46.09h1.2M407.4 44.95h1.2M407.4 43.96h1.2M407.4 43.08h1.2M407.4 76.5h2.6M407.4 71.35h1.2M407.4 68.34h1.2M407.4 66.2h1.2M407.4 64.55h1.8M407.4 63.19h1.2M407.4 62.05h1.2M407.4 61.06h1.2M407.4 60.18h1.2M407.4 78.16h1.2M407.4 77.28h1.2" stroke="#1b1b2a" stroke-width="0.55" fill="none" opacity="0.9"/>
<text x="405.8" y="27.5" font-size="6.6" text-anchor="end" stroke="#1c1c1c" stroke-width="0.3">-6</text>
<path d="M405.8 25.2h1.6" stroke="#333" stroke-width="0.5"/>
<text x="405.8" y="45.5" font-size="6.6" text-anchor="end" stroke="#1c1c1c" stroke-width="0.3">-7</text>
<path d="M405.8 43.2h1.6" stroke="#333" stroke-width="0.5"/>
<text x="405.8" y="62.3" font-size="6.6" text-anchor="end" stroke="#1c1c1c" stroke-width="0.3">-8</text>
<path d="M405.8 60h1.6" stroke="#333" stroke-width="0.5"/>
<text x="405.8" y="78.7" font-size="6.6" text-anchor="end" stroke="#1c1c1c" stroke-width="0.3">-9</text>
<path d="M405.8 76.4h1.6" stroke="#333" stroke-width="0.5"/>
<text x="411.1" y="86.6" font-size="6.6" text-anchor="middle" stroke="#1c1c1c" stroke-width="0.3">-10</text>
<text x="426.6" y="86.6" font-size="6.6" text-anchor="middle" stroke="#1c1c1c" stroke-width="0.3">-9</text>
<text x="442.1" y="86.6" font-size="6.6" text-anchor="middle" stroke="#1c1c1c" stroke-width="0.3">-8</text>
<text x="457.6" y="86.6" font-size="6.6" text-anchor="middle" stroke="#1c1c1c" stroke-width="0.3">-7</text>
<text x="473.1" y="86.6" font-size="6.6" text-anchor="middle" stroke="#1c1c1c" stroke-width="0.3">-6</text>
<text x="488.6" y="86.6" font-size="6.6" text-anchor="middle" stroke="#1c1c1c" stroke-width="0.3">-5</text>
<text x="452.8" y="93.2" font-size="7.05" text-anchor="middle" stroke="#1c1c1c" stroke-width="0.3">Paxalisib (log<tspan font-size="3.88" dy="1.27">10</tspan><tspan dy="-1.27"> Molar)</tspan></text>
<text x="393.5" y="50" font-size="7.05" text-anchor="middle" transform="rotate(-90 393.5 50)" stroke="#1c1c1c" stroke-width="0.3">Ribociclib (log<tspan font-size="3.88" dy="1.27">10</tspan><tspan dy="-1.27"> Molar)</tspan></text>
<text x="448.9" y="17" font-size="7.8" text-anchor="middle" stroke="#1c1c1c" stroke-width="0.42">SJMBG3-16-08522</text>
<defs><linearGradient id="cb4" x1="0" y1="1" x2="0" y2="0"><stop offset="0" stop-color="#8c0c1a"/><stop offset="0.1" stop-color="#a8151e"/><stop offset="0.18" stop-color="#c81a1e"/><stop offset="0.25" stop-color="#e2201d"/><stop offset="0.38" stop-color="#f27a1d"/><stop offset="0.5" stop-color="#f8e41a"/><stop offset="0.62" stop-color="#a9d038"/><stop offset="0.75" stop-color="#4fb848"/><stop offset="1" stop-color="#158c48"/></linearGradient></defs>
<rect x="493.3" y="35.4" width="4.2" height="33.8" fill="url(#cb4)"/>
<text x="493.6" y="31.6" font-size="6.6" textLength="22" lengthAdjust="spacingAndGlyphs" stroke="#1c1c1c" stroke-width="0.3">Survival</text>
<text x="500.5" y="45.4" font-size="6.2" stroke="#1c1c1c" stroke-width="0.3">0.9</text>
<text x="500.5" y="54.7" font-size="6.2" stroke="#1c1c1c" stroke-width="0.3">0.6</text>
<text x="500.5" y="63.5" font-size="6.2" stroke="#1c1c1c" stroke-width="0.3">0.3</text>
<rect x="22.6" y="229" width="83.2" height="58.4" fill="#f7f5f5"/>
<rect x="23.4" y="275.6" width="10.6" height="9.6" fill="#e7e7e7"/>
<defs>
<clipPath id="hc5"><rect x="34.6" y="229" width="71" height="47.4"/></clipPath>
<linearGradient id="g102"><stop offset="0" stop-color="#f06e1d"/><stop offset="0.07" stop-color="#f06e1d"/><stop offset="0.14" stop-color="#f06e1d"/><stop offset="0.21" stop-color="#f06e1d"/><stop offset="0.29" stop-color="#f06d1d"/><stop offset="0.36" stop-color="#ef6c1d"/><stop offset="0.43" stop-color="#ef691d"/><stop offset="0.5" stop-color="#ee621d"/><stop offset="0.57" stop-color="#ec561d"/><stop offset="0.64" stop-color="#e8431d"/><stop offset="0.71" stop-color="#e42c1d"/><stop offset="0.79" stop-color="#de1f1d"/><stop offset="0.86" stop-color="#d71d1d"/><stop offset="0.93" stop-color="#d31d1e"/><stop offset="1" stop-color="#d11c1e"/></linearGradient>
<linearGradient id="g103"><stop offset="0" stop-color="#f1721d"/><stop offset="0.07" stop-color="#f1721d"/><stop offset="0.14" stop-color="#f1721d"/><stop offset="0.21" stop-color="#f0711d"/><stop offset="0.29" stop-color="#f0711d"/><stop offset="0.36" stop-color="#f06f1d"/><stop offset="0.43" stop-color="#ef6c1d"/><stop offset="0.5" stop-color="#ee651d"/><stop offset="0.57" stop-color="#ec581d"/><stop offset="0.64" stop-color="#e9451d"/><stop offset="0.71" stop-color="#e42d1d"/><stop offset="0.79" stop-color="#de1f1d"/><stop offset="0.86" stop-color="#d71d1d"/><stop offset="0.93" stop-color="#d31d1e"/><stop offset="1" stop-color="#d11c1e"/></linearGradient>
<linearGradient id="g104"><stop offset="0" stop-color="#f2771d"/><stop offset="0.07" stop-color="#f2771d"/><stop offset="0.14" stop-color="#f1771d"/><stop offset="0.21" stop-color="#f1771d"/><stop offset="0.29" stop-color="#f1761d"/><stop offset="0.36" stop-color="#f1751d"/><stop offset="0.43" stop-color="#f0711d"/><stop offset="0.5" stop-color="#ef6a1d"/><stop offset="0.57" stop-color="#ed5d1d"/><stop offset="0.64" stop-color="#e9481d"/><stop offset="0.71" stop-color="#e5301d"/><stop offset="0.79" stop-color="#df1f1d"/><stop offset="0.86" stop-color="#d71e1d"/><stop offset="0.93" stop-color="#d31d1e"/><stop offset="1" stop-color="#d11c1e"/></linearGradient>
<linearGradient id="g105"><stop offset="0" stop-color="#f3841d"/><stop offset="0.07" stop-color="#f3841d"/><stop offset="0.14" stop-color="#f3841d"/><stop offset="0.21" stop-color="#f3831d"/><stop offset="0.29" stop-color="#f2821d"/><stop offset="0.36" stop-color="#f2801d"/><stop offset="0.43" stop-color="#f27b1d"/><stop offset="0.5" stop-color="#f1731d"/><stop offset="0.57" stop-color="#ee651d"/><stop offset="0.64" stop-color="#ea4f1d"/><stop offset="0.71" stop-color="#e6341d"/><stop offset="0.79" stop-color="#e0201d"/><stop offset="0.86" stop-color="#d81e1d"/><stop offset="0.93" stop-color="#d31d1e"/><stop offset="1" stop-color="#d11c1e"/></linearGradient>
<linearGradient id="g106"><stop offset="0" stop-color="#f49d1c"/><stop offset="0.07" stop-color="#f49d1c"/><stop offset="0.14" stop-color="#f49c1c"/><stop offset="0.21" stop-color="#f49c1c"/><stop offset="0.29" stop-color="#f49b1c"/><stop offset="0.36" stop-color="#f4981c"/><stop offset="0.43" stop-color="#f3931c"/><stop offset="0.5" stop-color="#f3881d"/><stop offset="0.57" stop-color="#f1741d"/><stop offset="0.64" stop-color="#ec5b1d"/><stop offset="0.71" stop-color="#e73c1d"/><stop offset="0.79" stop-color="#e2211d"/><stop offset="0.86" stop-color="#d91e1d"/><stop offset="0.93" stop-color="#d41d1e"/><stop offset="1" stop-color="#d21c1e"/></linearGradient>
<linearGradient id="g107"><stop offset="0" stop-color="#f6c41b"/><stop offset="0.07" stop-color="#f6c31b"/><stop offset="0.14" stop-color="#f6c31b"/><stop offset="0.21" stop-color="#f6c31b"/><stop offset="0.29" stop-color="#f6c11b"/><stop offset="0.36" stop-color="#f6be1b"/><stop offset="0.43" stop-color="#f5b81b"/><stop offset="0.5" stop-color="#f5aa1c"/><stop offset="0.57" stop-color="#f3911c"/><stop offset="0.64" stop-color="#f06d1d"/><stop offset="0.71" stop-color="#e9481d"/><stop offset="0.79" stop-color="#e4281d"/><stop offset="0.86" stop-color="#db1e1d"/><stop offset="0.93" stop-color="#d51d1e"/><stop offset="1" stop-color="#d21c1e"/></linearGradient>
<linearGradient id="g108"><stop offset="0" stop-color="#f2e31c"/><stop offset="0.07" stop-color="#f2e31c"/><stop offset="0.14" stop-color="#f3e31c"/><stop offset="0.21" stop-color="#f3e31c"/><stop offset="0.29" stop-color="#f4e31b"/><stop offset="0.36" stop-color="#f7e41a"/><stop offset="0.43" stop-color="#f8de1a"/><stop offset="0.5" stop-color="#f7ce1b"/><stop offset="0.57" stop-color="#f5b01b"/><stop offset="0.64" stop-color="#f2821d"/><stop offset="0.71" stop-color="#ec551d"/><stop offset="0.79" stop-color="#e5301d"/><stop offset="0.86" stop-color="#dd1f1d"/><stop offset="0.93" stop-color="#d61d1d"/><stop offset="1" stop-color="#d21c1e"/></linearGradient>
<linearGradient id="g109"><stop offset="0" stop-color="#dcdd25"/><stop offset="0.07" stop-color="#dcdd25"/><stop offset="0.14" stop-color="#dcdd25"/><stop offset="0.21" stop-color="#dddd24"/><stop offset="0.29" stop-color="#dedd24"/><stop offset="0.36" stop-color="#e1de23"/><stop offset="0.43" stop-color="#e7e020"/><stop offset="0.5" stop-color="#f4e31b"/><stop offset="0.57" stop-color="#f6c81b"/><stop offset="0.64" stop-color="#f4951c"/><stop offset="0.71" stop-color="#ed5f1d"/><stop offset="0.79" stop-color="#e6351d"/><stop offset="0.86" stop-color="#df1f1d"/><stop offset="0.93" stop-color="#d71d1d"/><stop offset="1" stop-color="#d31c1e"/></linearGradient>
<linearGradient id="g110"><stop offset="0" stop-color="#cbd92b"/><stop offset="0.07" stop-color="#cbd92b"/><stop offset="0.14" stop-color="#cbd92b"/><stop offset="0.21" stop-color="#ccd92b"/><stop offset="0.29" stop-color="#cdd92a"/><stop offset="0.36" stop-color="#d1da29"/><stop offset="0.43" stop-color="#d7dc26"/><stop offset="0.5" stop-color="#e5df21"/><stop offset="0.57" stop-color="#f7da1a"/><stop offset="0.64" stop-color="#f4a31c"/><stop offset="0.71" stop-color="#ef661d"/><stop offset="0.79" stop-color="#e73a1d"/><stop offset="0.86" stop-color="#e0201d"/><stop offset="0.93" stop-color="#d71e1d"/><stop offset="1" stop-color="#d31d1e"/></linearGradient>
<linearGradient id="g111"><stop offset="0" stop-color="#bcd531"/><stop offset="0.07" stop-color="#bcd531"/><stop offset="0.14" stop-color="#bcd531"/><stop offset="0.21" stop-color="#bdd530"/><stop offset="0.29" stop-color="#bfd530"/><stop offset="0.36" stop-color="#c2d62f"/><stop offset="0.43" stop-color="#c9d82c"/><stop offset="0.5" stop-color="#d8dc26"/><stop offset="0.57" stop-color="#f4e31c"/><stop offset="0.64" stop-color="#f5af1c"/><stop offset="0.71" stop-color="#f06d1d"/><stop offset="0.79" stop-color="#e73d1d"/><stop offset="0.86" stop-color="#e1201d"/><stop offset="0.93" stop-color="#d81e1d"/><stop offset="1" stop-color="#d31d1e"/></linearGradient>
<linearGradient id="g112"><stop offset="0" stop-color="#add137"/><stop offset="0.07" stop-color="#add137"/><stop offset="0.14" stop-color="#add136"/><stop offset="0.21" stop-color="#aed136"/><stop offset="0.29" stop-color="#afd236"/><stop offset="0.36" stop-color="#b3d334"/><stop offset="0.43" stop-color="#bbd431"/><stop offset="0.5" stop-color="#cad82b"/><stop offset="0.57" stop-color="#e8e020"/><stop offset="0.64" stop-color="#f6bc1b"/><stop offset="0.71" stop-color="#f1741d"/><stop offset="0.79" stop-color="#e8411d"/><stop offset="0.86" stop-color="#e2201d"/><stop offset="0.93" stop-color="#d81e1d"/><stop offset="1" stop-color="#d31d1e"/></linearGradient>
<linearGradient id="g113"><stop offset="0" stop-color="#9ccd3a"/><stop offset="0.07" stop-color="#9dcd3a"/><stop offset="0.14" stop-color="#9dcd3a"/><stop offset="0.21" stop-color="#9ecd3a"/><stop offset="0.29" stop-color="#9fcd3a"/><stop offset="0.36" stop-color="#a3cf39"/><stop offset="0.43" stop-color="#acd137"/><stop offset="0.5" stop-color="#bdd531"/><stop offset="0.57" stop-color="#dcdd25"/><stop offset="0.64" stop-color="#f6c81b"/><stop offset="0.71" stop-color="#f27a1d"/><stop offset="0.79" stop-color="#e9451d"/><stop offset="0.86" stop-color="#e2221d"/><stop offset="0.93" stop-color="#d91e1d"/><stop offset="1" stop-color="#d41d1e"/></linearGradient>
<linearGradient id="g114"><stop offset="0" stop-color="#8cc83d"/><stop offset="0.07" stop-color="#8cc83d"/><stop offset="0.14" stop-color="#8cc83d"/><stop offset="0.21" stop-color="#8dc93d"/><stop offset="0.29" stop-color="#8fc93d"/><stop offset="0.36" stop-color="#93ca3c"/><stop offset="0.43" stop-color="#9ccd3a"/><stop offset="0.5" stop-color="#aed136"/><stop offset="0.57" stop-color="#cfda29"/><stop offset="0.64" stop-color="#f7d51a"/><stop offset="0.71" stop-color="#f3831d"/><stop offset="0.79" stop-color="#e9491d"/><stop offset="0.86" stop-color="#e3241d"/><stop offset="0.93" stop-color="#d91e1d"/><stop offset="1" stop-color="#d41d1e"/></linearGradient>
<linearGradient id="g115"><stop offset="0" stop-color="#7bc440"/><stop offset="0.07" stop-color="#7cc440"/><stop offset="0.14" stop-color="#7cc440"/><stop offset="0.21" stop-color="#7dc440"/><stop offset="0.29" stop-color="#7fc53f"/><stop offset="0.36" stop-color="#83c63f"/><stop offset="0.43" stop-color="#8dc83d"/><stop offset="0.5" stop-color="#a0ce3a"/><stop offset="0.57" stop-color="#c3d72e"/><stop offset="0.64" stop-color="#f8e21a"/><stop offset="0.71" stop-color="#f38c1c"/><stop offset="0.79" stop-color="#ea4d1d"/><stop offset="0.86" stop-color="#e3261d"/><stop offset="0.93" stop-color="#da1e1d"/><stop offset="1" stop-color="#d41d1e"/></linearGradient>
<linearGradient id="g116"><stop offset="0" stop-color="#6cc043"/><stop offset="0.07" stop-color="#6cc043"/><stop offset="0.14" stop-color="#6dc043"/><stop offset="0.21" stop-color="#6ec043"/><stop offset="0.29" stop-color="#70c142"/><stop offset="0.36" stop-color="#74c241"/><stop offset="0.43" stop-color="#7ec540"/><stop offset="0.5" stop-color="#93ca3c"/><stop offset="0.57" stop-color="#b8d432"/><stop offset="0.64" stop-color="#f0e21d"/><stop offset="0.71" stop-color="#f3941c"/><stop offset="0.79" stop-color="#eb501d"/><stop offset="0.86" stop-color="#e3281d"/><stop offset="0.93" stop-color="#da1e1d"/><stop offset="1" stop-color="#d41d1e"/></linearGradient>
<linearGradient id="g117"><stop offset="0" stop-color="#5ebc45"/><stop offset="0.07" stop-color="#5ebc45"/><stop offset="0.14" stop-color="#5fbc45"/><stop offset="0.21" stop-color="#60bc45"/><stop offset="0.29" stop-color="#62bd45"/><stop offset="0.36" stop-color="#67be44"/><stop offset="0.43" stop-color="#71c142"/><stop offset="0.5" stop-color="#86c73e"/><stop offset="0.57" stop-color="#aed136"/><stop offset="0.64" stop-color="#e8e020"/><stop offset="0.71" stop-color="#f49b1c"/><stop offset="0.79" stop-color="#eb541d"/><stop offset="0.86" stop-color="#e4291d"/><stop offset="0.93" stop-color="#db1e1d"/><stop offset="1" stop-color="#d51d1e"/></linearGradient>
<linearGradient id="g118"><stop offset="0" stop-color="#52b947"/><stop offset="0.07" stop-color="#52b947"/><stop offset="0.14" stop-color="#53b947"/><stop offset="0.21" stop-color="#54b947"/><stop offset="0.29" stop-color="#56ba47"/><stop offset="0.36" stop-color="#5bbb46"/><stop offset="0.43" stop-color="#65be44"/><stop offset="0.5" stop-color="#7bc440"/><stop offset="0.57" stop-color="#a4cf39"/><stop offset="0.64" stop-color="#e1de23"/><stop offset="0.71" stop-color="#f4a21c"/><stop offset="0.79" stop-color="#ec571d"/><stop offset="0.86" stop-color="#e42b1d"/><stop offset="0.93" stop-color="#db1e1d"/><stop offset="1" stop-color="#d51d1e"/></linearGradient>
<linearGradient id="g119"><stop offset="0" stop-color="#4db648"/><stop offset="0.07" stop-color="#4db648"/><stop offset="0.14" stop-color="#4db648"/><stop offset="0.21" stop-color="#4db748"/><stop offset="0.29" stop-color="#4eb748"/><stop offset="0.36" stop-color="#51b848"/><stop offset="0.43" stop-color="#5bbb46"/><stop offset="0.5" stop-color="#72c142"/><stop offset="0.57" stop-color="#9ccd3a"/><stop offset="0.64" stop-color="#dbdd25"/><stop offset="0.71" stop-color="#f5a71c"/><stop offset="0.79" stop-color="#ec591d"/><stop offset="0.86" stop-color="#e42c1d"/><stop offset="0.93" stop-color="#db1e1d"/><stop offset="1" stop-color="#d51d1e"/></linearGradient>
<linearGradient id="g120"><stop offset="0" stop-color="#4ab448"/><stop offset="0.07" stop-color="#4ab448"/><stop offset="0.14" stop-color="#4ab448"/><stop offset="0.21" stop-color="#4ab448"/><stop offset="0.29" stop-color="#4bb548"/><stop offset="0.36" stop-color="#4db648"/><stop offset="0.43" stop-color="#53b947"/><stop offset="0.5" stop-color="#6abf43"/><stop offset="0.57" stop-color="#95cb3c"/><stop offset="0.64" stop-color="#d6db27"/><stop offset="0.71" stop-color="#f5ac1c"/><stop offset="0.79" stop-color="#ed5b1d"/><stop offset="0.86" stop-color="#e42d1d"/><stop offset="0.93" stop-color="#dc1f1d"/><stop offset="1" stop-color="#d51d1e"/></linearGradient>
<linearGradient id="g121"><stop offset="0" stop-color="#47b248"/><stop offset="0.07" stop-color="#47b248"/><stop offset="0.14" stop-color="#47b248"/><stop offset="0.21" stop-color="#48b348"/><stop offset="0.29" stop-color="#49b348"/><stop offset="0.36" stop-color="#4ab448"/><stop offset="0.43" stop-color="#4eb748"/><stop offset="0.5" stop-color="#64be44"/><stop offset="0.57" stop-color="#90c93c"/><stop offset="0.64" stop-color="#d2da28"/><stop offset="0.71" stop-color="#f5af1b"/><stop offset="0.79" stop-color="#ed5d1d"/><stop offset="0.86" stop-color="#e42e1d"/><stop offset="0.93" stop-color="#dc1f1d"/><stop offset="1" stop-color="#d51d1d"/></linearGradient>
<linearGradient id="g122"><stop offset="0" stop-color="#45b148"/><stop offset="0.07" stop-color="#45b148"/><stop offset="0.14" stop-color="#46b148"/><stop offset="0.21" stop-color="#46b148"/><stop offset="0.29" stop-color="#47b248"/><stop offset="0.36" stop-color="#48b348"/><stop offset="0.43" stop-color="#4cb648"/><stop offset="0.5" stop-color="#5fbc45"/><stop offset="0.57" stop-color="#8bc83d"/><stop offset="0.64" stop-color="#cfda2a"/><stop offset="0.71" stop-color="#f5b21b"/><stop offset="0.79" stop-color="#ed5e1d"/><stop offset="0.86" stop-color="#e52f1d"/><stop offset="0.93" stop-color="#dc1f1d"/><stop offset="1" stop-color="#d51d1d"/></linearGradient>
<linearGradient id="g123"><stop offset="0" stop-color="#44b048"/><stop offset="0.07" stop-color="#44b048"/><stop offset="0.14" stop-color="#44b048"/><stop offset="0.21" stop-color="#44b048"/><stop offset="0.29" stop-color="#45b148"/><stop offset="0.36" stop-color="#47b248"/><stop offset="0.43" stop-color="#4bb548"/><stop offset="0.5" stop-color="#5bbb46"/><stop offset="0.57" stop-color="#88c73e"/><stop offset="0.64" stop-color="#ccd92b"/><stop offset="0.71" stop-color="#f5b51b"/><stop offset="0.79" stop-color="#ed5f1d"/><stop offset="0.86" stop-color="#e52f1d"/><stop offset="0.93" stop-color="#dc1f1d"/><stop offset="1" stop-color="#d51d1d"/></linearGradient>
<linearGradient id="g124"><stop offset="0" stop-color="#43af48"/><stop offset="0.07" stop-color="#43af48"/><stop offset="0.14" stop-color="#43af48"/><stop offset="0.21" stop-color="#43af48"/><stop offset="0.29" stop-color="#44b048"/><stop offset="0.36" stop-color="#46b148"/><stop offset="0.43" stop-color="#4ab448"/><stop offset="0.5" stop-color="#58ba46"/><stop offset="0.57" stop-color="#85c63e"/><stop offset="0.64" stop-color="#cad82b"/><stop offset="0.71" stop-color="#f5b61b"/><stop offset="0.79" stop-color="#ed601d"/><stop offset="0.86" stop-color="#e5301d"/><stop offset="0.93" stop-color="#dc1f1d"/><stop offset="1" stop-color="#d51d1d"/></linearGradient>
<linearGradient id="g125"><stop offset="0" stop-color="#42ae48"/><stop offset="0.07" stop-color="#42ae48"/><stop offset="0.14" stop-color="#42ae48"/><stop offset="0.21" stop-color="#42ae48"/><stop offset="0.29" stop-color="#43af48"/><stop offset="0.36" stop-color="#45b048"/><stop offset="0.43" stop-color="#49b348"/><stop offset="0.5" stop-color="#55ba47"/><stop offset="0.57" stop-color="#83c63f"/><stop offset="0.64" stop-color="#c8d82c"/><stop offset="0.71" stop-color="#f5b81b"/><stop offset="0.79" stop-color="#ed611d"/><stop offset="0.86" stop-color="#e5301d"/><stop offset="0.93" stop-color="#dc1f1d"/><stop offset="1" stop-color="#d51d1d"/></linearGradient>
<linearGradient id="g126" x1="0" y1="0" x2="0" y2="1"><stop offset="0" stop-color="#f38d1c"/><stop offset="0.06" stop-color="#f3931c"/><stop offset="0.12" stop-color="#f4a11c"/><stop offset="0.19" stop-color="#f6c11b"/><stop offset="0.25" stop-color="#ece11f"/><stop offset="0.31" stop-color="#cfda2a"/><stop offset="0.38" stop-color="#bad432"/><stop offset="0.44" stop-color="#a6cf39"/><stop offset="0.5" stop-color="#90c93d"/><stop offset="0.56" stop-color="#7ac340"/><stop offset="0.62" stop-color="#66be44"/><stop offset="0.69" stop-color="#55ba47"/><stop offset="0.75" stop-color="#4cb648"/><stop offset="0.81" stop-color="#49b448"/><stop offset="0.88" stop-color="#47b248"/><stop offset="0.94" stop-color="#45b048"/><stop offset="1" stop-color="#44af48"/></linearGradient>
<linearGradient id="g127"><stop offset="0" stop-color="#1c9148"/><stop offset="0.04" stop-color="#1c9148"/><stop offset="0.08" stop-color="#1c9148"/><stop offset="0.12" stop-color="#1c9148"/><stop offset="0.17" stop-color="#1c9148"/><stop offset="0.21" stop-color="#1c9148"/><stop offset="0.25" stop-color="#1c9148"/><stop offset="0.29" stop-color="#1c9148"/><stop offset="0.33" stop-color="#1c9148"/><stop offset="0.38" stop-color="#1c9248"/><stop offset="0.42" stop-color="#1d9248"/><stop offset="0.46" stop-color="#1e9348"/><stop offset="0.5" stop-color="#1f9448"/><stop offset="0.54" stop-color="#239748"/><stop offset="0.58" stop-color="#2a9c48"/><stop offset="0.62" stop-color="#36a548"/><stop offset="0.67" stop-color="#4bb548"/><stop offset="0.71" stop-color="#9acc3b"/><stop offset="0.75" stop-color="#f6e31b"/><stop offset="0.79" stop-color="#f27e1d"/><stop offset="0.83" stop-color="#e8441d"/><stop offset="0.88" stop-color="#e2221d"/><stop offset="0.92" stop-color="#d91e1d"/><stop offset="0.96" stop-color="#d41d1e"/><stop offset="1" stop-color="#d21c1e"/></linearGradient>
</defs>
<g clip-path="url(#hc5)" shape-rendering="crispEdges">
<rect x="34.6" y="229" width="71" height="2" fill="url(#g102)"/>
<rect x="34.6" y="231" width="71" height="2" fill="url(#g103)"/>
<rect x="34.6" y="233" width="71" height="2" fill="url(#g104)"/>
<rect x="34.6" y="235" width="71" height="2" fill="url(#g105)"/>
<rect x="34.6" y="237" width="71" height="2" fill="url(#g106)"/>
<rect x="34.6" y="239" width="71" height="2" fill="url(#g107)"/>
<rect x="34.6" y="241" width="71" height="2" fill="url(#g108)"/>
<rect x="34.6" y="243" width="71" height="2" fill="url(#g109)"/>
<rect x="34.6" y="245" width="71" height="2" fill="url(#g110)"/>
<rect x="34.6" y="247" width="71" height="2" fill="url(#g111)"/>
<rect x="34.6" y="249" width="71" height="2" fill="url(#g112)"/>
<rect x="34.6" y="251" width="71" height="2" fill="url(#g113)"/>
<rect x="34.6" y="253" width="71" height="2" fill="url(#g114)"/>
<rect x="34.6" y="255" width="71" height="2" fill="url(#g115)"/>
<rect x="34.6" y="257" width="71" height="2" fill="url(#g116)"/>
<rect x="34.6" y="259" width="71" height="2" fill="url(#g117)"/>
<rect x="34.6" y="261" width="71" height="2" fill="url(#g118)"/>
<rect x="34.6" y="263" width="71" height="2" fill="url(#g119)"/>
<rect x="34.6" y="265" width="71" height="2" fill="url(#g120)"/>
<rect x="34.6" y="267" width="71" height="2" fill="url(#g121)"/>
<rect x="34.6" y="269" width="71" height="2" fill="url(#g122)"/>
<rect x="34.6" y="271" width="71" height="2" fill="url(#g123)"/>
<rect x="34.6" y="273" width="71" height="2" fill="url(#g124)"/>
<rect x="34.6" y="275" width="71" height="2" fill="url(#g125)"/>
</g>
<rect x="26.5" y="229" width="5.5" height="46.6" fill="url(#g126)"/>
<rect x="34.6" y="279.3" width="71" height="5.3" fill="url(#g127)"/>
<path d="M34.6 240.6C36.83 240.65 44.25 240.7 48 240.9C51.75 241.1 53.42 241.12 57.1 241.8C60.78 242.48 66.42 243.47 70.1 245C73.78 246.53 76.82 248.62 79.2 251C81.58 253.38 83.2 256.4 84.4 259.3C85.6 262.2 85.88 265.55 86.4 268.4C86.92 271.25 87.32 275.07 87.5 276.4" fill="none" stroke="#111" stroke-width="1.15"/>
<path d="M26.5 233H92.2V284.6" fill="none" stroke="#1a0c0c" stroke-width="1.2" stroke-dasharray="3.4 2.3"/>
<path d="M24.63 287.4v-1.2M26.08 287.4v-1.8M27.27 287.4v-1.2M28.28 287.4v-1.2M29.15 287.4v-1.2M29.91 287.4v-1.2M30.6 287.4v-2.6M35.12 287.4v-1.2M37.76 287.4v-1.2M39.63 287.4v-1.2M41.08 287.4v-1.8M42.27 287.4v-1.2M43.28 287.4v-1.2M44.15 287.4v-1.2M44.91 287.4v-1.2M45.6 287.4v-2.6M50.12 287.4v-1.2M52.76 287.4v-1.2M54.63 287.4v-1.2M56.08 287.4v-1.8M57.27 287.4v-1.2M58.28 287.4v-1.2M59.15 287.4v-1.2M59.91 287.4v-1.2M60.6 287.4v-2.6M65.12 287.4v-1.2M67.76 287.4v-1.2M69.63 287.4v-1.2M71.08 287.4v-1.8M72.27 287.4v-1.2M73.28 287.4v-1.2M74.15 287.4v-1.2M74.91 287.4v-1.2M75.6 287.4v-2.6M80.12 287.4v-1.2M82.76 287.4v-1.2M84.63 287.4v-1.2M86.08 287.4v-1.8M87.27 287.4v-1.2M88.28 287.4v-1.2M89.15 287.4v-1.2M89.91 287.4v-1.2M90.6 287.4v-2.6M95.12 287.4v-1.2M97.76 287.4v-1.2M99.63 287.4v-1.2M101.08 287.4v-1.8M102.27 287.4v-1.2M103.28 287.4v-1.2M104.15 287.4v-1.2M104.91 287.4v-1.2M22.6 233.4h2.6M22.6 249.7h2.6M22.6 244.79h1.2M22.6 241.92h1.2M22.6 239.89h1.2M22.6 238.31h1.8M22.6 237.02h1.2M22.6 235.92h1.2M22.6 234.98h1.2M22.6 234.15h1.2M22.6 266h2.6M22.6 261.09h1.2M22.6 258.22h1.2M22.6 256.19h1.2M22.6 254.61h1.8M22.6 253.32h1.2M22.6 252.22h1.2M22.6 251.28h1.2M22.6 250.45h1.2M22.6 282.3h2.6M22.6 277.39h1.2M22.6 274.52h1.2M22.6 272.49h1.2M22.6 270.91h1.8M22.6 269.62h1.2M22.6 268.52h1.2M22.6 267.58h1.2M22.6 266.75h1.2M22.6 285.92h1.2M22.6 284.82h1.2M22.6 283.88h1.2M22.6 283.05h1.2" stroke="#1b1b2a" stroke-width="0.55" fill="none" opacity="0.9"/>
<text x="21" y="235.7" font-size="6.6" text-anchor="end" stroke="#1c1c1c" stroke-width="0.3">-6</text>
<path d="M21 233.4h1.6" stroke="#333" stroke-width="0.5"/>
<text x="21" y="252" font-size="6.6" text-anchor="end" stroke="#1c1c1c" stroke-width="0.3">-7</text>
<path d="M21 249.7h1.6" stroke="#333" stroke-width="0.5"/>
<text x="21" y="268.3" font-size="6.6" text-anchor="end" stroke="#1c1c1c" stroke-width="0.3">-8</text>
<path d="M21 266h1.6" stroke="#333" stroke-width="0.5"/>
<text x="21" y="285.3" font-size="6.6" text-anchor="end" stroke="#1c1c1c" stroke-width="0.3">-9</text>
<path d="M21 283h1.6" stroke="#333" stroke-width="0.5"/>
<text x="30.7" y="295.4" font-size="6.6" text-anchor="middle" stroke="#1c1c1c" stroke-width="0.3">-10</text>
<text x="45.7" y="295.4" font-size="6.6" text-anchor="middle" stroke="#1c1c1c" stroke-width="0.3">-9</text>
<text x="60.7" y="295.4" font-size="6.6" text-anchor="middle" stroke="#1c1c1c" stroke-width="0.3">-8</text>
<text x="75.7" y="295.4" font-size="6.6" text-anchor="middle" stroke="#1c1c1c" stroke-width="0.3">-7</text>
<text x="90.7" y="295.4" font-size="6.6" text-anchor="middle" stroke="#1c1c1c" stroke-width="0.3">-6</text>
<text x="105.7" y="295.4" font-size="6.6" text-anchor="middle" stroke="#1c1c1c" stroke-width="0.3">-5</text>
<text x="72.4" y="301.8" font-size="7.05" text-anchor="middle" stroke="#1c1c1c" stroke-width="0.3">Paxalisib (log<tspan font-size="3.88" dy="1.27">10</tspan><tspan dy="-1.27"> Molar)</tspan></text>
<text x="10.6" y="258.4" font-size="7.05" text-anchor="middle" transform="rotate(-90 10.6 258.4)" stroke="#1c1c1c" stroke-width="0.3">Ribociclib (log<tspan font-size="3.88" dy="1.27">10</tspan><tspan dy="-1.27"> Molar)</tspan></text>
<text x="64.2" y="224" font-size="7.8" text-anchor="middle" stroke="#1c1c1c" stroke-width="0.42">SJMBSHH-13-5634</text>
<defs><linearGradient id="cb5" x1="0" y1="1" x2="0" y2="0"><stop offset="0" stop-color="#8c0c1a"/><stop offset="0.1" stop-color="#a8151e"/><stop offset="0.18" stop-color="#c81a1e"/><stop offset="0.25" stop-color="#e2201d"/><stop offset="0.38" stop-color="#f27a1d"/><stop offset="0.5" stop-color="#f8e41a"/><stop offset="0.62" stop-color="#a9d038"/><stop offset="0.75" stop-color="#4fb848"/><stop offset="1" stop-color="#158c48"/></linearGradient></defs>
<rect x="107.2" y="241" width="4.6" height="34" fill="url(#cb5)"/>
<text x="107.5" y="237.6" font-size="6.6" textLength="22" lengthAdjust="spacingAndGlyphs" stroke="#1c1c1c" stroke-width="0.3">Survival</text>
<text x="113.5" y="251.2" font-size="6.2" stroke="#1c1c1c" stroke-width="0.3">0.8</text>
<text x="113.5" y="259" font-size="6.2" stroke="#1c1c1c" stroke-width="0.3">0.6</text>
<text x="113.5" y="267.2" font-size="6.2" stroke="#1c1c1c" stroke-width="0.3">0.4</text>
<text x="113.5" y="275.2" font-size="6.2" stroke="#1c1c1c" stroke-width="0.3">0.2</text>
<rect x="150.4" y="229" width="81.8" height="58" fill="#f7f5f5"/>
<defs>
<clipPath id="hc6"><rect x="153.3" y="229.2" width="78.7" height="46.6"/></clipPath>
<linearGradient id="g128"><stop offset="0" stop-color="#e8431d"/><stop offset="0.06" stop-color="#e8431d"/><stop offset="0.12" stop-color="#e8431d"/><stop offset="0.19" stop-color="#e8431d"/><stop offset="0.25" stop-color="#e8431d"/><stop offset="0.31" stop-color="#e8431d"/><stop offset="0.38" stop-color="#e8421d"/><stop offset="0.44" stop-color="#e83f1d"/><stop offset="0.5" stop-color="#e73b1d"/><stop offset="0.56" stop-color="#e5331d"/><stop offset="0.62" stop-color="#e3261d"/><stop offset="0.69" stop-color="#db1e1d"/><stop offset="0.75" stop-color="#d11c1e"/><stop offset="0.81" stop-color="#c81a1e"/><stop offset="0.88" stop-color="#c3191e"/><stop offset="0.94" stop-color="#bf191e"/><stop offset="1" stop-color="#be181e"/></linearGradient>
<linearGradient id="g129"><stop offset="0" stop-color="#eb511d"/><stop offset="0.06" stop-color="#eb511d"/><stop offset="0.12" stop-color="#eb511d"/><stop offset="0.19" stop-color="#eb501d"/><stop offset="0.25" stop-color="#eb501d"/><stop offset="0.31" stop-color="#ea501d"/><stop offset="0.38" stop-color="#ea4f1d"/><stop offset="0.44" stop-color="#ea4c1d"/><stop offset="0.5" stop-color="#e9471d"/><stop offset="0.56" stop-color="#e73e1d"/><stop offset="0.62" stop-color="#e52f1d"/><stop offset="0.69" stop-color="#df1f1d"/><stop offset="0.75" stop-color="#d41d1e"/><stop offset="0.81" stop-color="#ca1a1e"/><stop offset="0.88" stop-color="#c3191e"/><stop offset="0.94" stop-color="#c0191e"/><stop offset="1" stop-color="#be181e"/></linearGradient>
<linearGradient id="g130"><stop offset="0" stop-color="#ee621d"/><stop offset="0.06" stop-color="#ee621d"/><stop offset="0.12" stop-color="#ee621d"/><stop offset="0.19" stop-color="#ee621d"/><stop offset="0.25" stop-color="#ee611d"/><stop offset="0.31" stop-color="#ed611d"/><stop offset="0.38" stop-color="#ed5f1d"/><stop offset="0.44" stop-color="#ed5d1d"/><stop offset="0.5" stop-color="#ec571d"/><stop offset="0.56" stop-color="#ea4d1d"/><stop offset="0.62" stop-color="#e73c1d"/><stop offset="0.69" stop-color="#e3241d"/><stop offset="0.75" stop-color="#d71d1d"/><stop offset="0.81" stop-color="#cc1b1e"/><stop offset="0.88" stop-color="#c4191e"/><stop offset="0.94" stop-color="#c0191e"/><stop offset="1" stop-color="#be181e"/></linearGradient>
<linearGradient id="g131"><stop offset="0" stop-color="#f2771d"/><stop offset="0.06" stop-color="#f1771d"/><stop offset="0.12" stop-color="#f1771d"/><stop offset="0.19" stop-color="#f1771d"/><stop offset="0.25" stop-color="#f1771d"/><stop offset="0.31" stop-color="#f1761d"/><stop offset="0.38" stop-color="#f1741d"/><stop offset="0.44" stop-color="#f0711d"/><stop offset="0.5" stop-color="#ef6b1d"/><stop offset="0.56" stop-color="#ed5f1d"/><stop offset="0.62" stop-color="#ea4b1d"/><stop offset="0.69" stop-color="#e5301d"/><stop offset="0.75" stop-color="#db1e1d"/><stop offset="0.81" stop-color="#ce1b1e"/><stop offset="0.88" stop-color="#c61a1e"/><stop offset="0.94" stop-color="#c1191e"/><stop offset="1" stop-color="#be181e"/></linearGradient>
<linearGradient id="g132"><stop offset="0" stop-color="#f4971c"/><stop offset="0.06" stop-color="#f4971c"/><stop offset="0.12" stop-color="#f4971c"/><stop offset="0.19" stop-color="#f4971c"/><stop offset="0.25" stop-color="#f4961c"/><stop offset="0.31" stop-color="#f4951c"/><stop offset="0.38" stop-color="#f3931c"/><stop offset="0.44" stop-color="#f38e1c"/><stop offset="0.5" stop-color="#f3851d"/><stop offset="0.56" stop-color="#f1751d"/><stop offset="0.62" stop-color="#ed5d1d"/><stop offset="0.69" stop-color="#e73e1d"/><stop offset="0.75" stop-color="#e01f1d"/><stop offset="0.81" stop-color="#d11c1e"/><stop offset="0.88" stop-color="#c71a1e"/><stop offset="0.94" stop-color="#c2191e"/><stop offset="1" stop-color="#bf191e"/></linearGradient>
<linearGradient id="g133"><stop offset="0" stop-color="#f6bc1b"/><stop offset="0.06" stop-color="#f6bc1b"/><stop offset="0.12" stop-color="#f6bc1b"/><stop offset="0.19" stop-color="#f6bb1b"/><stop offset="0.25" stop-color="#f6bb1b"/><stop offset="0.31" stop-color="#f6ba1b"/><stop offset="0.38" stop-color="#f5b71b"/><stop offset="0.44" stop-color="#f5b21b"/><stop offset="0.5" stop-color="#f5a71c"/><stop offset="0.56" stop-color="#f3921c"/><stop offset="0.62" stop-color="#f1721d"/><stop offset="0.69" stop-color="#ea4d1d"/><stop offset="0.75" stop-color="#e3261d"/><stop offset="0.81" stop-color="#d41d1e"/><stop offset="0.88" stop-color="#c91a1e"/><stop offset="0.94" stop-color="#c3191e"/><stop offset="1" stop-color="#bf191e"/></linearGradient>
<linearGradient id="g134"><stop offset="0" stop-color="#f8e31a"/><stop offset="0.06" stop-color="#f8e31a"/><stop offset="0.12" stop-color="#f8e31a"/><stop offset="0.19" stop-color="#f8e31a"/><stop offset="0.25" stop-color="#f8e21a"/><stop offset="0.31" stop-color="#f8e11a"/><stop offset="0.38" stop-color="#f8de1a"/><stop offset="0.44" stop-color="#f7d71a"/><stop offset="0.5" stop-color="#f7cb1b"/><stop offset="0.56" stop-color="#f5b41b"/><stop offset="0.62" stop-color="#f38c1c"/><stop offset="0.69" stop-color="#ed5e1d"/><stop offset="0.75" stop-color="#e5311d"/><stop offset="0.81" stop-color="#d81e1d"/><stop offset="0.88" stop-color="#cb1b1e"/><stop offset="0.94" stop-color="#c4191e"/><stop offset="1" stop-color="#c0191e"/></linearGradient>
<linearGradient id="g135"><stop offset="0" stop-color="#dbdd25"/><stop offset="0.06" stop-color="#dbdd25"/><stop offset="0.12" stop-color="#dbdd25"/><stop offset="0.19" stop-color="#dcdd25"/><stop offset="0.25" stop-color="#dcdd25"/><stop offset="0.31" stop-color="#dddd24"/><stop offset="0.38" stop-color="#e0de23"/><stop offset="0.44" stop-color="#e5df21"/><stop offset="0.5" stop-color="#f0e21d"/><stop offset="0.56" stop-color="#f7d51a"/><stop offset="0.62" stop-color="#f5a91c"/><stop offset="0.69" stop-color="#f06f1d"/><stop offset="0.75" stop-color="#e73c1d"/><stop offset="0.81" stop-color="#db1e1d"/><stop offset="0.88" stop-color="#cd1b1e"/><stop offset="0.94" stop-color="#c4191e"/><stop offset="1" stop-color="#c0191e"/></linearGradient>
<linearGradient id="g136"><stop offset="0" stop-color="#c0d62f"/><stop offset="0.06" stop-color="#c0d62f"/><stop offset="0.12" stop-color="#c0d62f"/><stop offset="0.19" stop-color="#c0d62f"/><stop offset="0.25" stop-color="#c1d62f"/><stop offset="0.31" stop-color="#c2d62f"/><stop offset="0.38" stop-color="#c5d72d"/><stop offset="0.44" stop-color="#cbd92b"/><stop offset="0.5" stop-color="#d6db27"/><stop offset="0.56" stop-color="#ece11f"/><stop offset="0.62" stop-color="#f6c31b"/><stop offset="0.69" stop-color="#f2801d"/><stop offset="0.75" stop-color="#e9471d"/><stop offset="0.81" stop-color="#de1f1d"/><stop offset="0.88" stop-color="#ce1b1e"/><stop offset="0.94" stop-color="#c51a1e"/><stop offset="1" stop-color="#c1191e"/></linearGradient>
<linearGradient id="g137"><stop offset="0" stop-color="#a7cf38"/><stop offset="0.06" stop-color="#a7d038"/><stop offset="0.12" stop-color="#a7d038"/><stop offset="0.19" stop-color="#a8d038"/><stop offset="0.25" stop-color="#a8d038"/><stop offset="0.31" stop-color="#aad038"/><stop offset="0.38" stop-color="#add137"/><stop offset="0.44" stop-color="#b3d334"/><stop offset="0.5" stop-color="#c0d62f"/><stop offset="0.56" stop-color="#d7dc26"/><stop offset="0.62" stop-color="#f7db1a"/><stop offset="0.69" stop-color="#f3921c"/><stop offset="0.75" stop-color="#eb501d"/><stop offset="0.81" stop-color="#e1201d"/><stop offset="0.88" stop-color="#d01c1e"/><stop offset="0.94" stop-color="#c61a1e"/><stop offset="1" stop-color="#c1191e"/></linearGradient>
<linearGradient id="g138"><stop offset="0" stop-color="#92ca3c"/><stop offset="0.06" stop-color="#92ca3c"/><stop offset="0.12" stop-color="#92ca3c"/><stop offset="0.19" stop-color="#92ca3c"/><stop offset="0.25" stop-color="#93ca3c"/><stop offset="0.31" stop-color="#95cb3c"/><stop offset="0.38" stop-color="#98cb3b"/><stop offset="0.44" stop-color="#9fcd3a"/><stop offset="0.5" stop-color="#add137"/><stop offset="0.56" stop-color="#c6d72d"/><stop offset="0.62" stop-color="#f0e21d"/><stop offset="0.69" stop-color="#f4a11c"/><stop offset="0.75" stop-color="#ec581d"/><stop offset="0.81" stop-color="#e3231d"/><stop offset="0.88" stop-color="#d11c1e"/><stop offset="0.94" stop-color="#c71a1e"/><stop offset="1" stop-color="#c1191e"/></linearGradient>
<linearGradient id="g139"><stop offset="0" stop-color="#80c53f"/><stop offset="0.06" stop-color="#80c53f"/><stop offset="0.12" stop-color="#81c53f"/><stop offset="0.19" stop-color="#81c53f"/><stop offset="0.25" stop-color="#82c63f"/><stop offset="0.31" stop-color="#83c63f"/><stop offset="0.38" stop-color="#87c73e"/><stop offset="0.44" stop-color="#8ec93d"/><stop offset="0.5" stop-color="#9dcd3a"/><stop offset="0.56" stop-color="#b8d432"/><stop offset="0.62" stop-color="#e4df21"/><stop offset="0.69" stop-color="#f5ad1c"/><stop offset="0.75" stop-color="#ed5e1d"/><stop offset="0.81" stop-color="#e3261d"/><stop offset="0.88" stop-color="#d21c1e"/><stop offset="0.94" stop-color="#c71a1e"/><stop offset="1" stop-color="#c1191e"/></linearGradient>
<linearGradient id="g140"><stop offset="0" stop-color="#73c242"/><stop offset="0.06" stop-color="#73c242"/><stop offset="0.12" stop-color="#73c242"/><stop offset="0.19" stop-color="#74c241"/><stop offset="0.25" stop-color="#74c241"/><stop offset="0.31" stop-color="#76c241"/><stop offset="0.38" stop-color="#7ac340"/><stop offset="0.44" stop-color="#81c53f"/><stop offset="0.5" stop-color="#91ca3c"/><stop offset="0.56" stop-color="#add136"/><stop offset="0.62" stop-color="#dbdd25"/><stop offset="0.69" stop-color="#f5b61b"/><stop offset="0.75" stop-color="#ee631d"/><stop offset="0.81" stop-color="#e4291d"/><stop offset="0.88" stop-color="#d31d1e"/><stop offset="0.94" stop-color="#c81a1e"/><stop offset="1" stop-color="#c2191e"/></linearGradient>
<linearGradient id="g141"><stop offset="0" stop-color="#69bf43"/><stop offset="0.06" stop-color="#69bf43"/><stop offset="0.12" stop-color="#69bf43"/><stop offset="0.19" stop-color="#6abf43"/><stop offset="0.25" stop-color="#6abf43"/><stop offset="0.31" stop-color="#6cc043"/><stop offset="0.38" stop-color="#70c142"/><stop offset="0.44" stop-color="#78c341"/><stop offset="0.5" stop-color="#88c73e"/><stop offset="0.56" stop-color="#a5cf39"/><stop offset="0.62" stop-color="#d4db28"/><stop offset="0.69" stop-color="#f6bd1b"/><stop offset="0.75" stop-color="#ee661d"/><stop offset="0.81" stop-color="#e42b1d"/><stop offset="0.88" stop-color="#d41d1e"/><stop offset="0.94" stop-color="#c81a1e"/><stop offset="1" stop-color="#c2191e"/></linearGradient>
<linearGradient id="g142"><stop offset="0" stop-color="#61bd45"/><stop offset="0.06" stop-color="#62bd45"/><stop offset="0.12" stop-color="#62bd45"/><stop offset="0.19" stop-color="#62bd45"/><stop offset="0.25" stop-color="#63bd44"/><stop offset="0.31" stop-color="#65be44"/><stop offset="0.38" stop-color="#69bf43"/><stop offset="0.44" stop-color="#71c142"/><stop offset="0.5" stop-color="#81c53f"/><stop offset="0.56" stop-color="#9fcd3a"/><stop offset="0.62" stop-color="#cfda29"/><stop offset="0.69" stop-color="#f6c21b"/><stop offset="0.75" stop-color="#ef691d"/><stop offset="0.81" stop-color="#e42d1d"/><stop offset="0.88" stop-color="#d41d1e"/><stop offset="0.94" stop-color="#c81a1e"/><stop offset="1" stop-color="#c2191e"/></linearGradient>
<linearGradient id="g143"><stop offset="0" stop-color="#5cbb46"/><stop offset="0.06" stop-color="#5cbc46"/><stop offset="0.12" stop-color="#5cbc46"/><stop offset="0.19" stop-color="#5dbc46"/><stop offset="0.25" stop-color="#5ebc45"/><stop offset="0.31" stop-color="#60bc45"/><stop offset="0.38" stop-color="#63bd44"/><stop offset="0.44" stop-color="#6cc043"/><stop offset="0.5" stop-color="#7cc440"/><stop offset="0.56" stop-color="#9acc3b"/><stop offset="0.62" stop-color="#ccd92b"/><stop offset="0.69" stop-color="#f6c61b"/><stop offset="0.75" stop-color="#ef6b1d"/><stop offset="0.81" stop-color="#e42e1d"/><stop offset="0.88" stop-color="#d41d1e"/><stop offset="0.94" stop-color="#c81a1e"/><stop offset="1" stop-color="#c2191e"/></linearGradient>
<linearGradient id="g144"><stop offset="0" stop-color="#58ba46"/><stop offset="0.06" stop-color="#58ba46"/><stop offset="0.12" stop-color="#59bb46"/><stop offset="0.19" stop-color="#59bb46"/><stop offset="0.25" stop-color="#5abb46"/><stop offset="0.31" stop-color="#5cbb46"/><stop offset="0.38" stop-color="#60bc45"/><stop offset="0.44" stop-color="#68bf44"/><stop offset="0.5" stop-color="#78c341"/><stop offset="0.56" stop-color="#97cb3b"/><stop offset="0.62" stop-color="#c9d82c"/><stop offset="0.69" stop-color="#f6c91b"/><stop offset="0.75" stop-color="#f06c1d"/><stop offset="0.81" stop-color="#e52f1d"/><stop offset="0.88" stop-color="#d51d1e"/><stop offset="0.94" stop-color="#c91a1e"/><stop offset="1" stop-color="#c2191e"/></linearGradient>
<linearGradient id="g145"><stop offset="0" stop-color="#56ba47"/><stop offset="0.06" stop-color="#56ba47"/><stop offset="0.12" stop-color="#56ba47"/><stop offset="0.19" stop-color="#56ba47"/><stop offset="0.25" stop-color="#57ba47"/><stop offset="0.31" stop-color="#59bb46"/><stop offset="0.38" stop-color="#5dbc46"/><stop offset="0.44" stop-color="#65be44"/><stop offset="0.5" stop-color="#76c241"/><stop offset="0.56" stop-color="#95cb3c"/><stop offset="0.62" stop-color="#c7d82d"/><stop offset="0.69" stop-color="#f7cb1b"/><stop offset="0.75" stop-color="#f06d1d"/><stop offset="0.81" stop-color="#e52f1d"/><stop offset="0.88" stop-color="#d51d1e"/><stop offset="0.94" stop-color="#c91a1e"/><stop offset="1" stop-color="#c2191e"/></linearGradient>
<linearGradient id="g146"><stop offset="0" stop-color="#54b947"/><stop offset="0.06" stop-color="#54b947"/><stop offset="0.12" stop-color="#54b947"/><stop offset="0.19" stop-color="#54b947"/><stop offset="0.25" stop-color="#55ba47"/><stop offset="0.31" stop-color="#57ba47"/><stop offset="0.38" stop-color="#5bbb46"/><stop offset="0.44" stop-color="#63bd44"/><stop offset="0.5" stop-color="#74c241"/><stop offset="0.56" stop-color="#93ca3c"/><stop offset="0.62" stop-color="#c6d72d"/><stop offset="0.69" stop-color="#f7cc1b"/><stop offset="0.75" stop-color="#f06e1d"/><stop offset="0.81" stop-color="#e5301d"/><stop offset="0.88" stop-color="#d51d1e"/><stop offset="0.94" stop-color="#c91a1e"/><stop offset="1" stop-color="#c2191e"/></linearGradient>
<linearGradient id="g147"><stop offset="0" stop-color="#52b947"/><stop offset="0.06" stop-color="#52b947"/><stop offset="0.12" stop-color="#53b947"/><stop offset="0.19" stop-color="#53b947"/><stop offset="0.25" stop-color="#54b947"/><stop offset="0.31" stop-color="#56ba47"/><stop offset="0.38" stop-color="#5abb46"/><stop offset="0.44" stop-color="#62bd45"/><stop offset="0.5" stop-color="#73c242"/><stop offset="0.56" stop-color="#92ca3c"/><stop offset="0.62" stop-color="#c5d72d"/><stop offset="0.69" stop-color="#f7cd1b"/><stop offset="0.75" stop-color="#f06e1d"/><stop offset="0.81" stop-color="#e5301d"/><stop offset="0.88" stop-color="#d51d1e"/><stop offset="0.94" stop-color="#c91a1e"/><stop offset="1" stop-color="#c2191e"/></linearGradient>
<linearGradient id="g148"><stop offset="0" stop-color="#51b948"/><stop offset="0.06" stop-color="#51b948"/><stop offset="0.12" stop-color="#52b948"/><stop offset="0.19" stop-color="#52b947"/><stop offset="0.25" stop-color="#53b947"/><stop offset="0.31" stop-color="#55ba47"/><stop offset="0.38" stop-color="#59bb46"/><stop offset="0.44" stop-color="#61bd45"/><stop offset="0.5" stop-color="#72c142"/><stop offset="0.56" stop-color="#91ca3c"/><stop offset="0.62" stop-color="#c4d72e"/><stop offset="0.69" stop-color="#f7cd1b"/><stop offset="0.75" stop-color="#f06f1d"/><stop offset="0.81" stop-color="#e5301d"/><stop offset="0.88" stop-color="#d51d1e"/><stop offset="0.94" stop-color="#c91a1e"/><stop offset="1" stop-color="#c2191e"/></linearGradient>
<linearGradient id="g149"><stop offset="0" stop-color="#51b848"/><stop offset="0.06" stop-color="#51b848"/><stop offset="0.12" stop-color="#51b948"/><stop offset="0.19" stop-color="#51b948"/><stop offset="0.25" stop-color="#52b947"/><stop offset="0.31" stop-color="#54b947"/><stop offset="0.38" stop-color="#58ba46"/><stop offset="0.44" stop-color="#61bd45"/><stop offset="0.5" stop-color="#71c142"/><stop offset="0.56" stop-color="#91ca3c"/><stop offset="0.62" stop-color="#c4d72e"/><stop offset="0.69" stop-color="#f7ce1b"/><stop offset="0.75" stop-color="#f06f1d"/><stop offset="0.81" stop-color="#e5301d"/><stop offset="0.88" stop-color="#d51d1e"/><stop offset="0.94" stop-color="#c91a1e"/><stop offset="1" stop-color="#c2191e"/></linearGradient>
<linearGradient id="g150"><stop offset="0" stop-color="#50b848"/><stop offset="0.06" stop-color="#50b848"/><stop offset="0.12" stop-color="#50b848"/><stop offset="0.19" stop-color="#51b948"/><stop offset="0.25" stop-color="#52b948"/><stop offset="0.31" stop-color="#54b947"/><stop offset="0.38" stop-color="#58ba46"/><stop offset="0.44" stop-color="#60bd45"/><stop offset="0.5" stop-color="#71c142"/><stop offset="0.56" stop-color="#90c93c"/><stop offset="0.62" stop-color="#c3d72e"/><stop offset="0.69" stop-color="#f7ce1b"/><stop offset="0.75" stop-color="#f06f1d"/><stop offset="0.81" stop-color="#e5301d"/><stop offset="0.88" stop-color="#d51d1e"/><stop offset="0.94" stop-color="#c91a1e"/><stop offset="1" stop-color="#c2191e"/></linearGradient>
<linearGradient id="g151"><stop offset="0" stop-color="#50b848"/><stop offset="0.06" stop-color="#50b848"/><stop offset="0.12" stop-color="#50b848"/><stop offset="0.19" stop-color="#51b848"/><stop offset="0.25" stop-color="#52b948"/><stop offset="0.31" stop-color="#53b947"/><stop offset="0.38" stop-color="#57ba46"/><stop offset="0.44" stop-color="#60bc45"/><stop offset="0.5" stop-color="#71c142"/><stop offset="0.56" stop-color="#90c93c"/><stop offset="0.62" stop-color="#c3d72e"/><stop offset="0.69" stop-color="#f7ce1b"/><stop offset="0.75" stop-color="#f06f1d"/><stop offset="0.81" stop-color="#e5301d"/><stop offset="0.88" stop-color="#d51d1d"/><stop offset="0.94" stop-color="#c91a1e"/><stop offset="1" stop-color="#c2191e"/></linearGradient>
<linearGradient id="g152"><stop offset="0" stop-color="#56ba47"/><stop offset="0.04" stop-color="#56ba47"/><stop offset="0.08" stop-color="#56ba47"/><stop offset="0.12" stop-color="#56ba47"/><stop offset="0.15" stop-color="#56ba47"/><stop offset="0.19" stop-color="#56ba47"/><stop offset="0.23" stop-color="#56ba47"/><stop offset="0.27" stop-color="#56ba47"/><stop offset="0.31" stop-color="#56ba47"/><stop offset="0.35" stop-color="#56ba47"/><stop offset="0.38" stop-color="#57ba47"/><stop offset="0.42" stop-color="#57ba47"/><stop offset="0.46" stop-color="#58ba46"/><stop offset="0.5" stop-color="#5bbb46"/><stop offset="0.54" stop-color="#60bc45"/><stop offset="0.58" stop-color="#69bf43"/><stop offset="0.62" stop-color="#7ac440"/><stop offset="0.65" stop-color="#99cc3b"/><stop offset="0.69" stop-color="#c7d82d"/><stop offset="0.73" stop-color="#f7d51a"/><stop offset="0.77" stop-color="#f2801d"/><stop offset="0.81" stop-color="#e9471d"/><stop offset="0.85" stop-color="#e2201d"/><stop offset="0.88" stop-color="#d61d1d"/><stop offset="0.92" stop-color="#cf1c1e"/><stop offset="0.96" stop-color="#cc1b1e"/><stop offset="1" stop-color="#ca1a1e"/></linearGradient>
</defs>
<g clip-path="url(#hc6)" shape-rendering="crispEdges">
<rect x="153.3" y="229" width="78.7" height="2" fill="url(#g128)"/>
<rect x="153.3" y="231" width="78.7" height="2" fill="url(#g129)"/>
<rect x="153.3" y="233" width="78.7" height="2" fill="url(#g130)"/>
<rect x="153.3" y="235" width="78.7" height="2" fill="url(#g131)"/>
<rect x="153.3" y="237" width="78.7" height="2" fill="url(#g132)"/>
<rect x="153.3" y="239" width="78.7" height="2" fill="url(#g133)"/>
<rect x="153.3" y="241" width="78.7" height="2" fill="url(#g134)"/>
<rect x="153.3" y="243" width="78.7" height="2" fill="url(#g135)"/>
<rect x="153.3" y="245" width="78.7" height="2" fill="url(#g136)"/>
<rect x="153.3" y="247" width="78.7" height="2" fill="url(#g137)"/>
<rect x="153.3" y="249" width="78.7" height="2" fill="url(#g138)"/>
<rect x="153.3" y="251" width="78.7" height="2" fill="url(#g139)"/>
<rect x="153.3" y="253" width="78.7" height="2" fill="url(#g140)"/>
<rect x="153.3" y="255" width="78.7" height="2" fill="url(#g141)"/>
<rect x="153.3" y="257" width="78.7" height="2" fill="url(#g142)"/>
<rect x="153.3" y="259" width="78.7" height="2" fill="url(#g143)"/>
<rect x="153.3" y="261" width="78.7" height="2" fill="url(#g144)"/>
<rect x="153.3" y="263" width="78.7" height="2" fill="url(#g145)"/>
<rect x="153.3" y="265" width="78.7" height="2" fill="url(#g146)"/>
<rect x="153.3" y="267" width="78.7" height="2" fill="url(#g147)"/>
<rect x="153.3" y="269" width="78.7" height="2" fill="url(#g148)"/>
<rect x="153.3" y="271" width="78.7" height="2" fill="url(#g149)"/>
<rect x="153.3" y="273" width="78.7" height="2" fill="url(#g150)"/>
<rect x="153.3" y="275" width="78.7" height="2" fill="url(#g151)"/>
</g>
<rect x="153.3" y="278.1" width="78.7" height="5.9" fill="url(#g152)"/>
<path d="M153.3 230.2C156.08 230.25 165.2 230.3 170 230.5C174.8 230.7 178.13 230.7 182.1 231.4C186.07 232.1 190.33 233.28 193.8 234.7C197.27 236.12 200.3 237.75 202.9 239.9C205.5 242.05 207.67 244.8 209.4 247.6C211.13 250.4 212.22 253.45 213.3 256.7C214.38 259.95 215.35 263.92 215.9 267.1C216.45 270.28 216.48 274.35 216.6 275.8" fill="none" stroke="#111" stroke-width="1.15"/>
<path d="M153.3 232.8H217.2V284" fill="none" stroke="#1a0c0c" stroke-width="1.2" stroke-dasharray="3.4 2.3"/>
<path d="M151.59 287v-1.2M152.59 287v-1.2M153.46 287v-1.2M154.22 287v-1.2M154.9 287v-2.6M159.39 287v-1.2M162.01 287v-1.2M163.87 287v-1.2M165.31 287v-1.8M166.49 287v-1.2M167.49 287v-1.2M168.36 287v-1.2M169.12 287v-1.2M169.8 287v-2.6M174.29 287v-1.2M176.91 287v-1.2M178.77 287v-1.2M180.21 287v-1.8M181.39 287v-1.2M182.39 287v-1.2M183.26 287v-1.2M184.02 287v-1.2M184.7 287v-2.6M189.19 287v-1.2M191.81 287v-1.2M193.67 287v-1.2M195.11 287v-1.8M196.29 287v-1.2M197.29 287v-1.2M198.16 287v-1.2M198.92 287v-1.2M199.6 287v-2.6M204.09 287v-1.2M206.71 287v-1.2M208.57 287v-1.2M210.01 287v-1.8M211.19 287v-1.2M212.19 287v-1.2M213.06 287v-1.2M213.82 287v-1.2M214.5 287v-2.6M218.99 287v-1.2M221.61 287v-1.2M223.47 287v-1.2M224.91 287v-1.8M226.09 287v-1.2M227.09 287v-1.2M227.96 287v-1.2M228.72 287v-1.2M229.4 287v-2.6M150.4 233.4h2.6M150.4 250h2.6M150.4 245h1.2M150.4 242.08h1.2M150.4 240.01h1.2M150.4 238.4h1.8M150.4 237.08h1.2M150.4 235.97h1.2M150.4 235.01h1.2M150.4 234.16h1.2M150.4 266.6h2.6M150.4 261.6h1.2M150.4 258.68h1.2M150.4 256.61h1.2M150.4 255h1.8M150.4 253.68h1.2M150.4 252.57h1.2M150.4 251.61h1.2M150.4 250.76h1.2M150.4 283.2h2.6M150.4 278.2h1.2M150.4 275.28h1.2M150.4 273.21h1.2M150.4 271.6h1.8M150.4 270.28h1.2M150.4 269.17h1.2M150.4 268.21h1.2M150.4 267.36h1.2M150.4 285.77h1.2M150.4 284.81h1.2M150.4 283.96h1.2" stroke="#1b1b2a" stroke-width="0.55" fill="none" opacity="0.9"/>
<text x="148.8" y="235.7" font-size="6.6" text-anchor="end" stroke="#1c1c1c" stroke-width="0.3">-6</text>
<path d="M148.8 233.4h1.6" stroke="#333" stroke-width="0.5"/>
<text x="148.8" y="252.4" font-size="6.6" text-anchor="end" stroke="#1c1c1c" stroke-width="0.3">-7</text>
<path d="M148.8 250.1h1.6" stroke="#333" stroke-width="0.5"/>
<text x="148.8" y="268.9" font-size="6.6" text-anchor="end" stroke="#1c1c1c" stroke-width="0.3">-8</text>
<path d="M148.8 266.6h1.6" stroke="#333" stroke-width="0.5"/>
<text x="148.8" y="285.5" font-size="6.6" text-anchor="end" stroke="#1c1c1c" stroke-width="0.3">-9</text>
<path d="M148.8 283.2h1.6" stroke="#333" stroke-width="0.5"/>
<text x="155" y="295.4" font-size="6.6" text-anchor="middle" stroke="#1c1c1c" stroke-width="0.3">-10</text>
<text x="169.9" y="295.4" font-size="6.6" text-anchor="middle" stroke="#1c1c1c" stroke-width="0.3">-9</text>
<text x="184.8" y="295.4" font-size="6.6" text-anchor="middle" stroke="#1c1c1c" stroke-width="0.3">-8</text>
<text x="199.7" y="295.4" font-size="6.6" text-anchor="middle" stroke="#1c1c1c" stroke-width="0.3">-7</text>
<text x="214.6" y="295.4" font-size="6.6" text-anchor="middle" stroke="#1c1c1c" stroke-width="0.3">-6</text>
<text x="229.5" y="295.4" font-size="6.6" text-anchor="middle" stroke="#1c1c1c" stroke-width="0.3">-5</text>
<text x="196.8" y="301.8" font-size="7.05" text-anchor="middle" stroke="#1c1c1c" stroke-width="0.3">Paxalisib (log<tspan font-size="3.88" dy="1.27">10</tspan><tspan dy="-1.27"> Molar)</tspan></text>
<text x="137.5" y="258" font-size="7.05" text-anchor="middle" transform="rotate(-90 137.5 258)" stroke="#1c1c1c" stroke-width="0.3">Ribociclib (log<tspan font-size="3.88" dy="1.27">10</tspan><tspan dy="-1.27"> Molar)</tspan></text>
<text x="191.3" y="224" font-size="7.8" text-anchor="middle" stroke="#1c1c1c" stroke-width="0.42">SJMBSHH-14-7196</text>
<defs><linearGradient id="cb6" x1="0" y1="1" x2="0" y2="0"><stop offset="0" stop-color="#8c0c1a"/><stop offset="0.1" stop-color="#a8151e"/><stop offset="0.18" stop-color="#c81a1e"/><stop offset="0.25" stop-color="#e2201d"/><stop offset="0.38" stop-color="#f27a1d"/><stop offset="0.5" stop-color="#f8e41a"/><stop offset="0.62" stop-color="#a9d038"/><stop offset="0.75" stop-color="#4fb848"/><stop offset="1" stop-color="#158c48"/></linearGradient></defs>
<rect x="232.8" y="242.5" width="4.8" height="33.5" fill="url(#cb6)"/>
<text x="233.1" y="237.6" font-size="6.6" textLength="22" lengthAdjust="spacingAndGlyphs" stroke="#1c1c1c" stroke-width="0.3">Survival</text>
<text x="239.3" y="251.7" font-size="6.2" stroke="#1c1c1c" stroke-width="0.3">1.00</text>
<text x="239.3" y="260.2" font-size="6.2" stroke="#1c1c1c" stroke-width="0.3">0.75</text>
<text x="239.3" y="268" font-size="6.2" stroke="#1c1c1c" stroke-width="0.3">0.50</text>
<text x="239.3" y="276.2" font-size="6.2" stroke="#1c1c1c" stroke-width="0.3">0.25</text>
<rect x="23.9" y="101.8" width="83.2" height="87.4" fill="#e9e9e9"/>
<path d="M23.9 123.2H107.1M23.9 148.4H107.1M23.9 173.6H107.1M48 101.8V189.2M89.6 101.8V189.2" stroke="#fafafa" stroke-width="0.75" fill="none"/>
<path d="M23.9 110.6H107.1M23.9 135.8H107.1M23.9 161H107.1M23.9 186.2H107.1M27.2 101.8V189.2M68.8 101.8V189.2" stroke="#f3f3f3" stroke-width="0.4" fill="none"/>
<g clip-path="url(#cl1)">
<clipPath id="cl1"><rect x="23.9" y="101.8" width="83.2" height="87.4"/></clipPath>
<path d="M27.8 138.5C29.17 139.33 33.3 141.67 36 143.5C38.7 145.33 40.67 147.08 44 149.5C47.33 151.92 51.67 155.08 56 158C60.33 160.92 65.33 164.17 70 167C74.67 169.83 79.67 172.67 84 175C88.33 177.33 92.67 179.37 96 181C99.33 182.63 102.67 184.17 104 184.8" fill="none" stroke="#a58fd8" stroke-opacity="0.36" stroke-width="4.4" stroke-linecap="butt"/>
<path d="M27.8 112.8C29.83 113.77 35.97 116.15 40 118.6C44.03 121.05 48.33 124.27 52 127.5C55.67 130.73 59 134.52 62 138C65 141.48 66.67 144.57 70 148.4C73.33 152.23 78 157.15 82 161C86 164.85 90.33 168.67 94 171.5C97.67 174.33 102.33 176.92 104 178" fill="none" stroke="#00BFC4" stroke-opacity="0.36" stroke-width="4.4" stroke-linecap="butt"/>
<path d="M27.8 108.2C29.83 109.05 35.97 111.08 40 113.3C44.03 115.52 48 118.22 52 121.5C56 124.78 60 128.42 64 133C68 137.58 72 144 76 149C80 154 84.5 159.28 88 163C91.5 166.72 94.33 169.03 97 171.3C99.67 173.57 102.83 175.72 104 176.6" fill="none" stroke="#5fb84a" stroke-opacity="0.36" stroke-width="4.4" stroke-linecap="butt"/>
<path d="M27.8 107.4C29.83 108.25 35.97 110.32 40 112.5C44.03 114.68 48 117.25 52 120.5C56 123.75 60 127.42 64 132C68 136.58 72 143 76 148C80 153 84.5 158.25 88 162C91.5 165.75 94.33 168.17 97 170.5C99.67 172.83 102.83 175.08 104 176" fill="none" stroke="#F8766D" stroke-opacity="0.36" stroke-width="4.4" stroke-linecap="butt"/>
<path d="M27.8 138.5C29.17 139.33 33.3 141.67 36 143.5C38.7 145.33 40.67 147.08 44 149.5C47.33 151.92 51.67 155.08 56 158C60.33 160.92 65.33 164.17 70 167C74.67 169.83 79.67 172.67 84 175C88.33 177.33 92.67 179.37 96 181C99.33 182.63 102.67 184.17 104 184.8" fill="none" stroke="#9380c0" stroke-width="1.2"/>
<path d="M27.8 112.8C29.83 113.77 35.97 116.15 40 118.6C44.03 121.05 48.33 124.27 52 127.5C55.67 130.73 59 134.52 62 138C65 141.48 66.67 144.57 70 148.4C73.33 152.23 78 157.15 82 161C86 164.85 90.33 168.67 94 171.5C97.67 174.33 102.33 176.92 104 178" fill="none" stroke="#22b2b4" stroke-width="1.2"/>
<path d="M27.8 108.2C29.83 109.05 35.97 111.08 40 113.3C44.03 115.52 48 118.22 52 121.5C56 124.78 60 128.42 64 133C68 137.58 72 144 76 149C80 154 84.5 159.28 88 163C91.5 166.72 94.33 169.03 97 171.3C99.67 173.57 102.83 175.72 104 176.6" fill="none" stroke="#48a445" stroke-width="1.2"/>
<path d="M27.8 107.4C29.83 108.25 35.97 110.32 40 112.5C44.03 114.68 48 117.25 52 120.5C56 123.75 60 127.42 64 132C68 136.58 72 143 76 148C80 153 84.5 158.25 88 162C91.5 165.75 94.33 168.17 97 170.5C99.67 172.83 102.83 175.08 104 176" fill="none" stroke="#ee6c5a" stroke-width="1.2"/>
</g>
<path d="M23.9 148.4H107.1" stroke="#111" stroke-width="1.15" stroke-dasharray="3.6 2.3" fill="none"/>
<path d="M26.25 189.2v-0.9M31.45 189.2v-0.9M35.48 189.2v-1.4M38.77 189.2v-0.9M41.56 189.2v-0.9M43.97 189.2v-0.9M46.1 189.2v-0.9M48 189.2v-2.0M60.52 189.2v-0.9M67.85 189.2v-0.9M73.05 189.2v-0.9M77.08 189.2v-1.4M80.37 189.2v-0.9M83.16 189.2v-0.9M85.57 189.2v-0.9M87.7 189.2v-0.9M89.6 189.2v-2.0M102.12 189.2v-0.9" stroke="#222" stroke-width="0.5" fill="none" opacity="0.8"/>
<text x="19.7" y="125.4" font-size="6.1" text-anchor="end" stroke="#1c1c1c" stroke-width="0.3">0.75</text>
<path d="M21.1 123.2h2.6" stroke="#333" stroke-width="0.6"/>
<text x="19.7" y="150.6" font-size="6.1" text-anchor="end" stroke="#1c1c1c" stroke-width="0.3">0.50</text>
<path d="M21.1 148.4h2.6" stroke="#333" stroke-width="0.6"/>
<text x="19.7" y="176" font-size="6.1" text-anchor="end" stroke="#1c1c1c" stroke-width="0.3">0.25</text>
<path d="M21.1 173.8h2.6" stroke="#333" stroke-width="0.6"/>
<text x="48" y="196.2" font-size="6.6" text-anchor="middle" stroke="#1c1c1c" stroke-width="0.3">-6</text>
<text x="89.6" y="196.2" font-size="6.6" text-anchor="middle" stroke="#1c1c1c" stroke-width="0.3">-5</text>
<text x="61.25" y="203.7" font-size="6.9" text-anchor="middle" textLength="67" lengthAdjust="spacingAndGlyphs" stroke="#1c1c1c" stroke-width="0.3">Ribociclib (log<tspan font-size="3.8" dy="1.24">10</tspan><tspan dy="-1.24"> Molar)</tspan></text>
<text x="7.3" y="145.2" font-size="6.8" text-anchor="middle" transform="rotate(-90 7.3 145.2)" stroke="#1c1c1c" stroke-width="0.3">Survival</text>
<rect x="148.9" y="100.8" width="84.2" height="88" fill="#e9e9e9"/>
<path d="M148.9 119.3H233.1M148.9 141.8H233.1M148.9 164.3H233.1M148.9 186.8H233.1M167 100.8V188.8M194.4 100.8V188.8M221.8 100.8V188.8" stroke="#fafafa" stroke-width="0.75" fill="none"/>
<path d="M148.9 108.05H233.1M148.9 130.55H233.1M148.9 153.05H233.1M148.9 175.55H233.1M153.3 100.8V188.8M180.7 100.8V188.8M208.1 100.8V188.8" stroke="#f3f3f3" stroke-width="0.4" fill="none"/>
<g clip-path="url(#cl2)">
<clipPath id="cl2"><rect x="148.9" y="100.8" width="84.2" height="88"/></clipPath>
<path d="M152.8 142.5C154.33 142.92 159.13 143.92 162 145C164.87 146.08 167.33 147.33 170 149C172.67 150.67 175.33 152.75 178 155C180.67 157.25 183.33 160 186 162.5C188.67 165 191.33 167.75 194 170C196.67 172.25 199.33 174.25 202 176C204.67 177.75 207.17 179.2 210 180.5C212.83 181.8 215.75 182.85 219 183.8C222.25 184.75 227.75 185.8 229.5 186.2" fill="none" stroke="#a58fd8" stroke-opacity="0.36" stroke-width="4.4" stroke-linecap="butt"/>
<path d="M152.8 116C154.33 116.33 159.13 117 162 118C164.87 119 167.5 120.25 170 122C172.5 123.75 174.67 125.83 177 128.5C179.33 131.17 181.83 134.67 184 138C186.17 141.33 187.83 144.83 190 148.5C192.17 152.17 194.67 156.42 197 160C199.33 163.58 201.67 167.08 204 170C206.33 172.92 208.5 175.42 211 177.5C213.5 179.58 215.92 181.08 219 182.5C222.08 183.92 227.75 185.42 229.5 186" fill="none" stroke="#00BFC4" stroke-opacity="0.36" stroke-width="4.4" stroke-linecap="butt"/>
<path d="M152.8 108.3C154.33 108.52 159.13 108.85 162 109.6C164.87 110.35 167.33 111.23 170 112.8C172.67 114.37 175.5 116.3 178 119C180.5 121.7 182.83 125.17 185 129C187.17 132.83 189 137.58 191 142C193 146.42 195 151.33 197 155.5C199 159.67 200.83 163.58 203 167C205.17 170.42 207.5 173.53 210 176C212.5 178.47 214.75 180.17 218 181.8C221.25 183.43 227.58 185.13 229.5 185.8" fill="none" stroke="#5fb84a" stroke-opacity="0.36" stroke-width="4.4" stroke-linecap="butt"/>
<path d="M152.8 106.3C154.33 106.52 159.13 106.9 162 107.6C164.87 108.3 167.33 109.02 170 110.5C172.67 111.98 175.5 113.92 178 116.5C180.5 119.08 182.83 122.25 185 126C187.17 129.75 189 134.5 191 139C193 143.5 195 148.67 197 153C199 157.33 200.83 161.42 203 165C205.17 168.58 207.5 171.83 210 174.5C212.5 177.17 214.75 179.15 218 181C221.25 182.85 227.58 184.83 229.5 185.6" fill="none" stroke="#F8766D" stroke-opacity="0.36" stroke-width="4.4" stroke-linecap="butt"/>
<path d="M152.8 142.5C154.33 142.92 159.13 143.92 162 145C164.87 146.08 167.33 147.33 170 149C172.67 150.67 175.33 152.75 178 155C180.67 157.25 183.33 160 186 162.5C188.67 165 191.33 167.75 194 170C196.67 172.25 199.33 174.25 202 176C204.67 177.75 207.17 179.2 210 180.5C212.83 181.8 215.75 182.85 219 183.8C222.25 184.75 227.75 185.8 229.5 186.2" fill="none" stroke="#9380c0" stroke-width="1.2"/>
<path d="M152.8 116C154.33 116.33 159.13 117 162 118C164.87 119 167.5 120.25 170 122C172.5 123.75 174.67 125.83 177 128.5C179.33 131.17 181.83 134.67 184 138C186.17 141.33 187.83 144.83 190 148.5C192.17 152.17 194.67 156.42 197 160C199.33 163.58 201.67 167.08 204 170C206.33 172.92 208.5 175.42 211 177.5C213.5 179.58 215.92 181.08 219 182.5C222.08 183.92 227.75 185.42 229.5 186" fill="none" stroke="#22b2b4" stroke-width="1.2"/>
<path d="M152.8 108.3C154.33 108.52 159.13 108.85 162 109.6C164.87 110.35 167.33 111.23 170 112.8C172.67 114.37 175.5 116.3 178 119C180.5 121.7 182.83 125.17 185 129C187.17 132.83 189 137.58 191 142C193 146.42 195 151.33 197 155.5C199 159.67 200.83 163.58 203 167C205.17 170.42 207.5 173.53 210 176C212.5 178.47 214.75 180.17 218 181.8C221.25 183.43 227.58 185.13 229.5 185.8" fill="none" stroke="#48a445" stroke-width="1.2"/>
<path d="M152.8 106.3C154.33 106.52 159.13 106.9 162 107.6C164.87 108.3 167.33 109.02 170 110.5C172.67 111.98 175.5 113.92 178 116.5C180.5 119.08 182.83 122.25 185 126C187.17 129.75 189 134.5 191 139C193 143.5 195 148.67 197 153C199 157.33 200.83 161.42 203 165C205.17 168.58 207.5 171.83 210 174.5C212.5 177.17 214.75 179.15 218 181C221.25 182.85 227.58 184.83 229.5 185.6" fill="none" stroke="#ee6c5a" stroke-width="1.2"/>
</g>
<path d="M146.3 141.8H233.1" stroke="#111" stroke-width="1.15" stroke-dasharray="3.6 2.3" fill="none"/>
<path d="M152.67 188.8v-0.9M156.1 188.8v-0.9M158.75 188.8v-1.4M160.92 188.8v-0.9M162.76 188.8v-0.9M164.34 188.8v-0.9M165.75 188.8v-0.9M167 188.8v-2.0M175.25 188.8v-0.9M180.07 188.8v-0.9M183.5 188.8v-0.9M186.15 188.8v-1.4M188.32 188.8v-0.9M190.16 188.8v-0.9M191.74 188.8v-0.9M193.15 188.8v-0.9M194.4 188.8v-2.0M202.65 188.8v-0.9M207.47 188.8v-0.9M210.9 188.8v-0.9M213.55 188.8v-1.4M215.72 188.8v-0.9M217.56 188.8v-0.9M219.14 188.8v-0.9M220.55 188.8v-0.9M221.8 188.8v-2.0M230.05 188.8v-0.9" stroke="#222" stroke-width="0.5" fill="none" opacity="0.8"/>
<text x="144.7" y="121.5" font-size="6.1" text-anchor="end" stroke="#1c1c1c" stroke-width="0.3">0.75</text>
<path d="M146.1 119.3h2.6" stroke="#333" stroke-width="0.6"/>
<text x="144.7" y="144" font-size="6.1" text-anchor="end" stroke="#1c1c1c" stroke-width="0.3">0.50</text>
<path d="M146.1 141.8h2.6" stroke="#333" stroke-width="0.6"/>
<text x="144.7" y="166.5" font-size="6.1" text-anchor="end" stroke="#1c1c1c" stroke-width="0.3">0.25</text>
<path d="M146.1 164.3h2.6" stroke="#333" stroke-width="0.6"/>
<text x="144.7" y="189" font-size="6.1" text-anchor="end" stroke="#1c1c1c" stroke-width="0.3">0.00</text>
<path d="M146.1 186.8h2.6" stroke="#333" stroke-width="0.6"/>
<text x="167" y="197" font-size="6.6" text-anchor="middle" stroke="#1c1c1c" stroke-width="0.3">-8</text>
<text x="194.4" y="197" font-size="6.6" text-anchor="middle" stroke="#1c1c1c" stroke-width="0.3">-7</text>
<text x="221.4" y="197" font-size="6.6" text-anchor="middle" stroke="#1c1c1c" stroke-width="0.3">-6</text>
<text x="186.25" y="204" font-size="6.9" text-anchor="middle" textLength="67" lengthAdjust="spacingAndGlyphs" stroke="#1c1c1c" stroke-width="0.3">Ribociclib (log<tspan font-size="3.8" dy="1.24">10</tspan><tspan dy="-1.24"> Molar)</tspan></text>
<text x="131.9" y="144.2" font-size="6.8" text-anchor="middle" transform="rotate(-90 131.9 144.2)" stroke="#1c1c1c" stroke-width="0.3">Survival</text>
<rect x="276.2" y="101.5" width="85" height="88.9" fill="#e9e9e9"/>
<path d="M276.2 114.3H361.2M276.2 129H361.2M276.2 143.7H361.2M276.2 158.4H361.2M276.2 173.1H361.2M276.2 187.8H361.2M298.8 101.5V190.4M343.8 101.5V190.4" stroke="#fafafa" stroke-width="0.75" fill="none"/>
<path d="M276.2 106.95H361.2M276.2 121.65H361.2M276.2 136.35H361.2M276.2 151.05H361.2M276.2 165.75H361.2M276.2 180.45H361.2M321.3 101.5V190.4" stroke="#f3f3f3" stroke-width="0.4" fill="none"/>
<g clip-path="url(#cl3)">
<clipPath id="cl3"><rect x="276.2" y="101.5" width="85" height="88.9"/></clipPath>
<path d="M280 136C281.67 137.33 286.67 141.33 290 144C293.33 146.67 296.33 149.25 300 152C303.67 154.75 308 157.75 312 160.5C316 163.25 320 166.08 324 168.5C328 170.92 332 173 336 175C340 177 344.42 178.92 348 180.5C351.58 182.08 355.92 183.83 357.5 184.5" fill="none" stroke="#a58fd8" stroke-opacity="0.36" stroke-width="4.6" stroke-linecap="butt"/>
<path d="M280 116.6C281.67 118 287.17 122.73 290 125C292.83 127.27 293.67 127.28 297 130.2C300.33 133.12 305.83 138.37 310 142.5C314.17 146.63 318 151.08 322 155C326 158.92 330 162.58 334 166C338 169.42 342.08 172.67 346 175.5C349.92 178.33 355.58 181.75 357.5 183" fill="none" stroke="#00BFC4" stroke-opacity="0.36" stroke-width="4.6" stroke-linecap="butt"/>
<path d="M280 110.5C281.67 112.08 286.67 116.67 290 120C293.33 123.33 296.33 126.67 300 130.5C303.67 134.33 308 138.83 312 143C316 147.17 320 151.58 324 155.5C328 159.42 332 163.17 336 166.5C340 169.83 344.42 172.88 348 175.5C351.58 178.12 355.92 181.08 357.5 182.2" fill="none" stroke="#5fb84a" stroke-opacity="0.36" stroke-width="4.6" stroke-linecap="butt"/>
<path d="M280 108.5C281.67 110.08 286.67 114.67 290 118C293.33 121.33 296.33 124.67 300 128.5C303.67 132.33 308 136.83 312 141C316 145.17 320 149.5 324 153.5C328 157.5 332 161.5 336 165C340 168.5 344.42 171.75 348 174.5C351.58 177.25 355.92 180.33 357.5 181.5" fill="none" stroke="#F8766D" stroke-opacity="0.36" stroke-width="4.6" stroke-linecap="butt"/>
<path d="M280 136C281.67 137.33 286.67 141.33 290 144C293.33 146.67 296.33 149.25 300 152C303.67 154.75 308 157.75 312 160.5C316 163.25 320 166.08 324 168.5C328 170.92 332 173 336 175C340 177 344.42 178.92 348 180.5C351.58 182.08 355.92 183.83 357.5 184.5" fill="none" stroke="#9380c0" stroke-width="1.2"/>
<path d="M280 116.6C281.67 118 287.17 122.73 290 125C292.83 127.27 293.67 127.28 297 130.2C300.33 133.12 305.83 138.37 310 142.5C314.17 146.63 318 151.08 322 155C326 158.92 330 162.58 334 166C338 169.42 342.08 172.67 346 175.5C349.92 178.33 355.58 181.75 357.5 183" fill="none" stroke="#22b2b4" stroke-width="1.2"/>
<path d="M280 110.5C281.67 112.08 286.67 116.67 290 120C293.33 123.33 296.33 126.67 300 130.5C303.67 134.33 308 138.83 312 143C316 147.17 320 151.58 324 155.5C328 159.42 332 163.17 336 166.5C340 169.83 344.42 172.88 348 175.5C351.58 178.12 355.92 181.08 357.5 182.2" fill="none" stroke="#48a445" stroke-width="1.2"/>
<path d="M280 108.5C281.67 110.08 286.67 114.67 290 118C293.33 121.33 296.33 124.67 300 128.5C303.67 132.33 308 136.83 312 141C316 145.17 320 149.5 324 153.5C328 157.5 332 161.5 336 165C340 168.5 344.42 171.75 348 174.5C351.58 177.25 355.92 180.33 357.5 181.5" fill="none" stroke="#ee6c5a" stroke-width="1.2"/>
</g>
<path d="M276.2 129H361.2" stroke="#111" stroke-width="1.15" stroke-dasharray="3.6 2.3" fill="none"/>
<path d="M280.89 190.4v-0.9M285.25 190.4v-1.4M288.82 190.4v-0.9M291.83 190.4v-0.9M294.44 190.4v-0.9M296.74 190.4v-0.9M298.8 190.4v-2.0M312.35 190.4v-0.9M320.27 190.4v-0.9M325.89 190.4v-0.9M330.25 190.4v-1.4M333.82 190.4v-0.9M336.83 190.4v-0.9M339.44 190.4v-0.9M341.74 190.4v-0.9M343.8 190.4v-2.0M357.35 190.4v-0.9" stroke="#222" stroke-width="0.5" fill="none" opacity="0.8"/>
<text x="272" y="116.5" font-size="6.1" text-anchor="end" stroke="#1c1c1c" stroke-width="0.3">0.6</text>
<path d="M273.4 114.3h2.6" stroke="#333" stroke-width="0.6"/>
<text x="272" y="131.2" font-size="6.1" text-anchor="end" stroke="#1c1c1c" stroke-width="0.3">0.5</text>
<path d="M273.4 129h2.6" stroke="#333" stroke-width="0.6"/>
<text x="272" y="145.9" font-size="6.1" text-anchor="end" stroke="#1c1c1c" stroke-width="0.3">0.4</text>
<path d="M273.4 143.7h2.6" stroke="#333" stroke-width="0.6"/>
<text x="272" y="160.5" font-size="6.1" text-anchor="end" stroke="#1c1c1c" stroke-width="0.3">0.3</text>
<path d="M273.4 158.3h2.6" stroke="#333" stroke-width="0.6"/>
<text x="272" y="175.2" font-size="6.1" text-anchor="end" stroke="#1c1c1c" stroke-width="0.3">0.2</text>
<path d="M273.4 173h2.6" stroke="#333" stroke-width="0.6"/>
<text x="272" y="189.8" font-size="6.1" text-anchor="end" stroke="#1c1c1c" stroke-width="0.3">0.1</text>
<path d="M273.4 187.6h2.6" stroke="#333" stroke-width="0.6"/>
<text x="298.8" y="198" font-size="6.6" text-anchor="middle" stroke="#1c1c1c" stroke-width="0.3">-6</text>
<text x="343.8" y="198" font-size="6.6" text-anchor="middle" stroke="#1c1c1c" stroke-width="0.3">-5</text>
<text x="320" y="204.8" font-size="6.9" text-anchor="middle" textLength="67" lengthAdjust="spacingAndGlyphs" stroke="#1c1c1c" stroke-width="0.3">Ribociclib (log<tspan font-size="3.8" dy="1.24">10</tspan><tspan dy="-1.24"> Molar)</tspan></text>
<text x="261.2" y="145.5" font-size="6.8" text-anchor="middle" transform="rotate(-90 261.2 145.5)" stroke="#1c1c1c" stroke-width="0.3">Survival</text>
<rect x="395.6" y="100.9" width="85.6" height="88.4" fill="#e9e9e9"/>
<path d="M395.6 103.7H481.2M395.6 124.4H481.2M395.6 145.1H481.2M395.6 165.8H481.2M395.6 186.5H481.2M415.4 100.9V189.3M443 100.9V189.3M470.6 100.9V189.3" stroke="#fafafa" stroke-width="0.75" fill="none"/>
<path d="M395.6 114.05H481.2M395.6 134.75H481.2M395.6 155.45H481.2M395.6 176.15H481.2M401.6 100.9V189.3M429.2 100.9V189.3M456.8 100.9V189.3" stroke="#f3f3f3" stroke-width="0.4" fill="none"/>
<g clip-path="url(#cl4)">
<clipPath id="cl4"><rect x="395.6" y="100.9" width="85.6" height="88.4"/></clipPath>
<path d="M399.5 152.6C401.25 152.77 406.58 153.2 410 153.6C413.42 154 416.67 154.47 420 155C423.33 155.53 426.67 156.07 430 156.8C433.33 157.53 436.67 158.27 440 159.4C443.33 160.53 447 162.13 450 163.6C453 165.07 455.33 166.43 458 168.2C460.67 169.97 463.67 172.27 466 174.2C468.33 176.13 470.17 178 472 179.8C473.83 181.6 476.17 184.13 477 185" fill="none" stroke="#a58fd8" stroke-opacity="0.36" stroke-width="7.5" stroke-linecap="butt"/>
<path d="M399.5 129C401.25 129.22 406.58 129.67 410 130.3C413.42 130.93 416.67 131.78 420 132.8C423.33 133.82 426.67 134.83 430 136.4C433.33 137.97 436.67 139.87 440 142.2C443.33 144.53 447 147.77 450 150.4C453 153.03 455.33 155.23 458 158C460.67 160.77 463.67 164.23 466 167C468.33 169.77 470.17 172.22 472 174.6C473.83 176.98 476.17 180.18 477 181.3" fill="none" stroke="#00BFC4" stroke-opacity="0.36" stroke-width="7.5" stroke-linecap="butt"/>
<path d="M399.5 114.5C401.25 114.85 406.58 115.75 410 116.6C413.42 117.45 416.67 118.43 420 119.6C423.33 120.77 426.67 121.9 430 123.6C433.33 125.3 436.67 127.2 440 129.8C443.33 132.4 447 136 450 139.2C453 142.4 455.33 145.4 458 149C460.67 152.6 463.67 157.27 466 160.8C468.33 164.33 470.17 167.27 472 170.2C473.83 173.13 476.17 177.03 477 178.4" fill="none" stroke="#5fb84a" stroke-opacity="0.36" stroke-width="7.5" stroke-linecap="butt"/>
<path d="M399.5 107.3C401.25 107.67 406.58 108.55 410 109.5C413.42 110.45 416.67 111.5 420 113C423.33 114.5 426.67 116.25 430 118.5C433.33 120.75 436.67 123.33 440 126.5C443.33 129.67 447 134 450 137.5C453 141 455.33 143.92 458 147.5C460.67 151.08 463.67 155.5 466 159C468.33 162.5 470.17 165.5 472 168.5C473.83 171.5 476.17 175.58 477 177" fill="none" stroke="#F8766D" stroke-opacity="0.36" stroke-width="7.5" stroke-linecap="butt"/>
<path d="M399.5 152.6C401.25 152.77 406.58 153.2 410 153.6C413.42 154 416.67 154.47 420 155C423.33 155.53 426.67 156.07 430 156.8C433.33 157.53 436.67 158.27 440 159.4C443.33 160.53 447 162.13 450 163.6C453 165.07 455.33 166.43 458 168.2C460.67 169.97 463.67 172.27 466 174.2C468.33 176.13 470.17 178 472 179.8C473.83 181.6 476.17 184.13 477 185" fill="none" stroke="#9380c0" stroke-width="1.2"/>
<path d="M399.5 129C401.25 129.22 406.58 129.67 410 130.3C413.42 130.93 416.67 131.78 420 132.8C423.33 133.82 426.67 134.83 430 136.4C433.33 137.97 436.67 139.87 440 142.2C443.33 144.53 447 147.77 450 150.4C453 153.03 455.33 155.23 458 158C460.67 160.77 463.67 164.23 466 167C468.33 169.77 470.17 172.22 472 174.6C473.83 176.98 476.17 180.18 477 181.3" fill="none" stroke="#22b2b4" stroke-width="1.2"/>
<path d="M399.5 114.5C401.25 114.85 406.58 115.75 410 116.6C413.42 117.45 416.67 118.43 420 119.6C423.33 120.77 426.67 121.9 430 123.6C433.33 125.3 436.67 127.2 440 129.8C443.33 132.4 447 136 450 139.2C453 142.4 455.33 145.4 458 149C460.67 152.6 463.67 157.27 466 160.8C468.33 164.33 470.17 167.27 472 170.2C473.83 173.13 476.17 177.03 477 178.4" fill="none" stroke="#48a445" stroke-width="1.2"/>
<path d="M399.5 107.3C401.25 107.67 406.58 108.55 410 109.5C413.42 110.45 416.67 111.5 420 113C423.33 114.5 426.67 116.25 430 118.5C433.33 120.75 436.67 123.33 440 126.5C443.33 129.67 447 134 450 137.5C453 141 455.33 143.92 458 147.5C460.67 151.08 463.67 155.5 466 159C468.33 162.5 470.17 165.5 472 168.5C473.83 171.5 476.17 175.58 477 177" fill="none" stroke="#ee6c5a" stroke-width="1.2"/>
</g>
<path d="M395.6 155.4H481.2" stroke="#111" stroke-width="1.15" stroke-dasharray="3.6 2.3" fill="none"/>
<path d="M396.11 189.3v-0.9M400.97 189.3v-0.9M404.42 189.3v-0.9M407.09 189.3v-1.4M409.28 189.3v-0.9M411.12 189.3v-0.9M412.73 189.3v-0.9M414.14 189.3v-0.9M415.4 189.3v-2.0M423.71 189.3v-0.9M428.57 189.3v-0.9M432.02 189.3v-0.9M434.69 189.3v-1.4M436.88 189.3v-0.9M438.72 189.3v-0.9M440.33 189.3v-0.9M441.74 189.3v-0.9M443 189.3v-2.0M451.31 189.3v-0.9M456.17 189.3v-0.9M459.62 189.3v-0.9M462.29 189.3v-1.4M464.48 189.3v-0.9M466.32 189.3v-0.9M467.93 189.3v-0.9M469.34 189.3v-0.9M470.6 189.3v-2.0M478.91 189.3v-0.9" stroke="#222" stroke-width="0.5" fill="none" opacity="0.8"/>
<text x="391.4" y="105.9" font-size="6.1" text-anchor="end" stroke="#1c1c1c" stroke-width="0.3">1.0</text>
<path d="M392.8 103.7h2.6" stroke="#333" stroke-width="0.6"/>
<text x="391.4" y="126.6" font-size="6.1" text-anchor="end" stroke="#1c1c1c" stroke-width="0.3">0.8</text>
<path d="M392.8 124.4h2.6" stroke="#333" stroke-width="0.6"/>
<text x="391.4" y="147.3" font-size="6.1" text-anchor="end" stroke="#1c1c1c" stroke-width="0.3">0.6</text>
<path d="M392.8 145.1h2.6" stroke="#333" stroke-width="0.6"/>
<text x="391.4" y="168" font-size="6.1" text-anchor="end" stroke="#1c1c1c" stroke-width="0.3">0.4</text>
<path d="M392.8 165.8h2.6" stroke="#333" stroke-width="0.6"/>
<text x="391.4" y="188.7" font-size="6.1" text-anchor="end" stroke="#1c1c1c" stroke-width="0.3">0.2</text>
<path d="M392.8 186.5h2.6" stroke="#333" stroke-width="0.6"/>
<text x="415.4" y="197.5" font-size="6.6" text-anchor="middle" stroke="#1c1c1c" stroke-width="0.3">-8</text>
<text x="443" y="197.5" font-size="6.6" text-anchor="middle" stroke="#1c1c1c" stroke-width="0.3">-7</text>
<text x="470.6" y="197.5" font-size="6.6" text-anchor="middle" stroke="#1c1c1c" stroke-width="0.3">-6</text>
<text x="439.4" y="204.2" font-size="6.9" text-anchor="middle" textLength="67" lengthAdjust="spacingAndGlyphs" stroke="#1c1c1c" stroke-width="0.3">Ribociclib (log<tspan font-size="3.8" dy="1.24">10</tspan><tspan dy="-1.24"> Molar)</tspan></text>
<text x="377.6" y="144.8" font-size="6.8" text-anchor="middle" transform="rotate(-90 377.6 144.8)" stroke="#1c1c1c" stroke-width="0.3">Survival</text>
<rect x="23.8" y="307.5" width="84.5" height="90.1" fill="#e9e9e9"/>
<path d="M23.8 310.5H108.3M23.8 337.3H108.3M23.8 364.1H108.3M23.8 390.9H108.3M43 307.5V397.6M71 307.5V397.6M99 307.5V397.6" stroke="#fafafa" stroke-width="0.75" fill="none"/>
<path d="M23.8 323.9H108.3M23.8 350.7H108.3M23.8 377.5H108.3M29 307.5V397.6M57 307.5V397.6M85 307.5V397.6" stroke="#f3f3f3" stroke-width="0.4" fill="none"/>
<g clip-path="url(#cl5)">
<clipPath id="cl5"><rect x="23.8" y="307.5" width="84.5" height="90.1"/></clipPath>
<path d="M27.6 338.5C29 339.33 33.27 341.5 36 343.5C38.73 345.5 41.33 347.83 44 350.5C46.67 353.17 49.33 356.42 52 359.5C54.67 362.58 57.33 366.08 60 369C62.67 371.92 65.33 374.67 68 377C70.67 379.33 73.33 381.25 76 383C78.67 384.75 81.33 386.25 84 387.5C86.67 388.75 88.58 389.5 92 390.5C95.42 391.5 102.42 393 104.5 393.5" fill="none" stroke="#a58fd8" stroke-opacity="0.36" stroke-width="4.6" stroke-linecap="butt"/>
<path d="M27.6 318C29 318.67 33.27 320.25 36 322C38.73 323.75 41.33 325.75 44 328.5C46.67 331.25 49.33 334.83 52 338.5C54.67 342.17 57.33 346.5 60 350.5C62.67 354.5 65.33 358.92 68 362.5C70.67 366.08 73.33 369.25 76 372C78.67 374.75 81.33 377.08 84 379C86.67 380.92 88.58 382 92 383.5C95.42 385 102.42 387.25 104.5 388" fill="none" stroke="#00BFC4" stroke-opacity="0.36" stroke-width="4.6" stroke-linecap="butt"/>
<path d="M27.6 315.3C29 315.92 33.27 317.38 36 319C38.73 320.62 41.33 322.42 44 325C46.67 327.58 49.33 330.92 52 334.5C54.67 338.08 57.33 342.42 60 346.5C62.67 350.58 65.33 355.25 68 359C70.67 362.75 73.33 366.08 76 369C78.67 371.92 81.33 374.42 84 376.5C86.67 378.58 88.58 379.83 92 381.5C95.42 383.17 102.42 385.67 104.5 386.5" fill="none" stroke="#5fb84a" stroke-opacity="0.36" stroke-width="4.6" stroke-linecap="butt"/>
<path d="M27.6 314.5C29 315.08 33.27 316.42 36 318C38.73 319.58 41.33 321.5 44 324C46.67 326.5 49.33 329.5 52 333C54.67 336.5 57.33 340.92 60 345C62.67 349.08 65.33 353.67 68 357.5C70.67 361.33 73.33 365 76 368C78.67 371 81.33 373.42 84 375.5C86.67 377.58 88.58 378.83 92 380.5C95.42 382.17 102.42 384.67 104.5 385.5" fill="none" stroke="#F8766D" stroke-opacity="0.36" stroke-width="4.6" stroke-linecap="butt"/>
<path d="M27.6 338.5C29 339.33 33.27 341.5 36 343.5C38.73 345.5 41.33 347.83 44 350.5C46.67 353.17 49.33 356.42 52 359.5C54.67 362.58 57.33 366.08 60 369C62.67 371.92 65.33 374.67 68 377C70.67 379.33 73.33 381.25 76 383C78.67 384.75 81.33 386.25 84 387.5C86.67 388.75 88.58 389.5 92 390.5C95.42 391.5 102.42 393 104.5 393.5" fill="none" stroke="#9380c0" stroke-width="1.4"/>
<path d="M27.6 318C29 318.67 33.27 320.25 36 322C38.73 323.75 41.33 325.75 44 328.5C46.67 331.25 49.33 334.83 52 338.5C54.67 342.17 57.33 346.5 60 350.5C62.67 354.5 65.33 358.92 68 362.5C70.67 366.08 73.33 369.25 76 372C78.67 374.75 81.33 377.08 84 379C86.67 380.92 88.58 382 92 383.5C95.42 385 102.42 387.25 104.5 388" fill="none" stroke="#22b2b4" stroke-width="1.4"/>
<path d="M27.6 315.3C29 315.92 33.27 317.38 36 319C38.73 320.62 41.33 322.42 44 325C46.67 327.58 49.33 330.92 52 334.5C54.67 338.08 57.33 342.42 60 346.5C62.67 350.58 65.33 355.25 68 359C70.67 362.75 73.33 366.08 76 369C78.67 371.92 81.33 374.42 84 376.5C86.67 378.58 88.58 379.83 92 381.5C95.42 383.17 102.42 385.67 104.5 386.5" fill="none" stroke="#48a445" stroke-width="1.4"/>
<path d="M27.6 314.5C29 315.08 33.27 316.42 36 318C38.73 319.58 41.33 321.5 44 324C46.67 326.5 49.33 329.5 52 333C54.67 336.5 57.33 340.92 60 345C62.67 349.08 65.33 353.67 68 357.5C70.67 361.33 73.33 365 76 368C78.67 371 81.33 373.42 84 375.5C86.67 377.58 88.58 378.83 92 380.5C95.42 382.17 102.42 384.67 104.5 385.5" fill="none" stroke="#ee6c5a" stroke-width="1.4"/>
</g>
<path d="M23.8 377.4H108.3" stroke="#111" stroke-width="1.15" stroke-dasharray="3.6 2.3" fill="none"/>
<path d="M28.36 397.6v-0.9M31.86 397.6v-0.9M34.57 397.6v-1.4M36.79 397.6v-0.9M38.66 397.6v-0.9M40.29 397.6v-0.9M41.72 397.6v-0.9M43 397.6v-2.0M51.43 397.6v-0.9M56.36 397.6v-0.9M59.86 397.6v-0.9M62.57 397.6v-1.4M64.79 397.6v-0.9M66.66 397.6v-0.9M68.29 397.6v-0.9M69.72 397.6v-0.9M71 397.6v-2.0M79.43 397.6v-0.9M84.36 397.6v-0.9M87.86 397.6v-0.9M90.57 397.6v-1.4M92.79 397.6v-0.9M94.66 397.6v-0.9M96.29 397.6v-0.9M97.72 397.6v-0.9M99 397.6v-2.0M107.43 397.6v-0.9" stroke="#222" stroke-width="0.5" fill="none" opacity="0.8"/>
<text x="19.6" y="312.7" font-size="6.1" text-anchor="end" stroke="#1c1c1c" stroke-width="0.3">1.0</text>
<path d="M21 310.5h2.6" stroke="#333" stroke-width="0.6"/>
<text x="19.6" y="339.5" font-size="6.1" text-anchor="end" stroke="#1c1c1c" stroke-width="0.3">0.8</text>
<path d="M21 337.3h2.6" stroke="#333" stroke-width="0.6"/>
<text x="19.6" y="366.2" font-size="6.1" text-anchor="end" stroke="#1c1c1c" stroke-width="0.3">0.6</text>
<path d="M21 364h2.6" stroke="#333" stroke-width="0.6"/>
<text x="19.6" y="392.8" font-size="6.1" text-anchor="end" stroke="#1c1c1c" stroke-width="0.3">0.4</text>
<path d="M21 390.6h2.6" stroke="#333" stroke-width="0.6"/>
<text x="43" y="404.4" font-size="6.6" text-anchor="middle" stroke="#1c1c1c" stroke-width="0.3">-8</text>
<text x="71" y="404.4" font-size="6.6" text-anchor="middle" stroke="#1c1c1c" stroke-width="0.3">-7</text>
<text x="98.4" y="404.4" font-size="6.6" text-anchor="middle" stroke="#1c1c1c" stroke-width="0.3">-6</text>
<text x="66.25" y="411.6" font-size="6.9" text-anchor="middle" textLength="67" lengthAdjust="spacingAndGlyphs" stroke="#1c1c1c" stroke-width="0.3">Ribociclib (log<tspan font-size="3.8" dy="1.24">10</tspan><tspan dy="-1.24"> Molar)</tspan></text>
<text x="7.2" y="352" font-size="6.8" text-anchor="middle" transform="rotate(-90 7.2 352)" stroke="#1c1c1c" stroke-width="0.3">Survival</text>
<rect x="151.3" y="307" width="85.5" height="91.4" fill="#e9e9e9"/>
<path d="M151.3 322.5H236.8M151.3 347.1H236.8M151.3 371.7H236.8M151.3 396.3H236.8M169.6 307V398.4M197 307V398.4M224.4 307V398.4" stroke="#fafafa" stroke-width="0.75" fill="none"/>
<path d="M151.3 310.2H236.8M151.3 334.8H236.8M151.3 359.4H236.8M151.3 384H236.8M155.9 307V398.4M183.3 307V398.4M210.7 307V398.4" stroke="#f3f3f3" stroke-width="0.4" fill="none"/>
<g clip-path="url(#cl6)">
<clipPath id="cl6"><rect x="151.3" y="307" width="85.5" height="91.4"/></clipPath>
<path d="M155 332.5C156.67 332.75 161.67 333.25 165 334C168.33 334.75 172 335.67 175 337C178 338.33 180.5 340 183 342C185.5 344 187.67 346.25 190 349C192.33 351.75 194.67 355.25 197 358.5C199.33 361.75 201.67 365.42 204 368.5C206.33 371.58 208.67 374.58 211 377C213.33 379.42 215.67 381.33 218 383C220.33 384.67 222.5 385.75 225 387C227.5 388.25 231.67 389.92 233 390.5" fill="none" stroke="#a58fd8" stroke-opacity="0.36" stroke-width="4.6" stroke-linecap="butt"/>
<path d="M155 316.5C156.67 316.72 161.67 317.17 165 317.8C168.33 318.43 172 319.13 175 320.3C178 321.47 180.5 322.85 183 324.8C185.5 326.75 187.67 328.97 190 332C192.33 335.03 194.67 339 197 343C199.33 347 201.67 351.92 204 356C206.33 360.08 208.67 364.17 211 367.5C213.33 370.83 215.67 373.67 218 376C220.33 378.33 222.5 379.92 225 381.5C227.5 383.08 231.67 384.83 233 385.5" fill="none" stroke="#00BFC4" stroke-opacity="0.36" stroke-width="4.6" stroke-linecap="butt"/>
<path d="M155 315.5C156.67 315.67 161.67 315.97 165 316.5C168.33 317.03 172 317.7 175 318.7C178 319.7 180.5 320.78 183 322.5C185.5 324.22 187.67 326.17 190 329C192.33 331.83 194.67 335.58 197 339.5C199.33 343.42 201.67 348.33 204 352.5C206.33 356.67 208.67 361 211 364.5C213.33 368 215.67 371 218 373.5C220.33 376 222.5 377.75 225 379.5C227.5 381.25 231.67 383.25 233 384" fill="none" stroke="#5fb84a" stroke-opacity="0.36" stroke-width="4.6" stroke-linecap="butt"/>
<path d="M155 314.5C156.67 314.67 161.67 315 165 315.5C168.33 316 172 316.58 175 317.5C178 318.42 180.5 319.42 183 321C185.5 322.58 187.67 324.33 190 327C192.33 329.67 194.67 333.17 197 337C199.33 340.83 201.67 345.75 204 350C206.33 354.25 208.67 358.83 211 362.5C213.33 366.17 215.67 369.33 218 372C220.33 374.67 222.5 376.58 225 378.5C227.5 380.42 231.67 382.67 233 383.5" fill="none" stroke="#F8766D" stroke-opacity="0.36" stroke-width="4.6" stroke-linecap="butt"/>
<path d="M155 332.5C156.67 332.75 161.67 333.25 165 334C168.33 334.75 172 335.67 175 337C178 338.33 180.5 340 183 342C185.5 344 187.67 346.25 190 349C192.33 351.75 194.67 355.25 197 358.5C199.33 361.75 201.67 365.42 204 368.5C206.33 371.58 208.67 374.58 211 377C213.33 379.42 215.67 381.33 218 383C220.33 384.67 222.5 385.75 225 387C227.5 388.25 231.67 389.92 233 390.5" fill="none" stroke="#9380c0" stroke-width="1.4"/>
<path d="M155 316.5C156.67 316.72 161.67 317.17 165 317.8C168.33 318.43 172 319.13 175 320.3C178 321.47 180.5 322.85 183 324.8C185.5 326.75 187.67 328.97 190 332C192.33 335.03 194.67 339 197 343C199.33 347 201.67 351.92 204 356C206.33 360.08 208.67 364.17 211 367.5C213.33 370.83 215.67 373.67 218 376C220.33 378.33 222.5 379.92 225 381.5C227.5 383.08 231.67 384.83 233 385.5" fill="none" stroke="#22b2b4" stroke-width="1.4"/>
<path d="M155 315.5C156.67 315.67 161.67 315.97 165 316.5C168.33 317.03 172 317.7 175 318.7C178 319.7 180.5 320.78 183 322.5C185.5 324.22 187.67 326.17 190 329C192.33 331.83 194.67 335.58 197 339.5C199.33 343.42 201.67 348.33 204 352.5C206.33 356.67 208.67 361 211 364.5C213.33 368 215.67 371 218 373.5C220.33 376 222.5 377.75 225 379.5C227.5 381.25 231.67 383.25 233 384" fill="none" stroke="#48a445" stroke-width="1.4"/>
<path d="M155 314.5C156.67 314.67 161.67 315 165 315.5C168.33 316 172 316.58 175 317.5C178 318.42 180.5 319.42 183 321C185.5 322.58 187.67 324.33 190 327C192.33 329.67 194.67 333.17 197 337C199.33 340.83 201.67 345.75 204 350C206.33 354.25 208.67 358.83 211 362.5C213.33 366.17 215.67 369.33 218 372C220.33 374.67 222.5 376.58 225 378.5C227.5 380.42 231.67 382.67 233 383.5" fill="none" stroke="#ee6c5a" stroke-width="1.4"/>
</g>
<path d="M151.3 383.9H236.8" stroke="#111" stroke-width="1.15" stroke-dasharray="3.6 2.3" fill="none"/>
<path d="M155.27 398.4v-0.9M158.7 398.4v-0.9M161.35 398.4v-1.4M163.52 398.4v-0.9M165.36 398.4v-0.9M166.94 398.4v-0.9M168.35 398.4v-0.9M169.6 398.4v-2.0M177.85 398.4v-0.9M182.67 398.4v-0.9M186.1 398.4v-0.9M188.75 398.4v-1.4M190.92 398.4v-0.9M192.76 398.4v-0.9M194.34 398.4v-0.9M195.75 398.4v-0.9M197 398.4v-2.0M205.25 398.4v-0.9M210.07 398.4v-0.9M213.5 398.4v-0.9M216.15 398.4v-1.4M218.32 398.4v-0.9M220.16 398.4v-0.9M221.74 398.4v-0.9M223.15 398.4v-0.9M224.4 398.4v-2.0M232.65 398.4v-0.9" stroke="#222" stroke-width="0.5" fill="none" opacity="0.8"/>
<text x="147.1" y="324.7" font-size="6.1" text-anchor="end" stroke="#1c1c1c" stroke-width="0.3">1.0</text>
<path d="M148.5 322.5h2.6" stroke="#333" stroke-width="0.6"/>
<text x="147.1" y="349.3" font-size="6.1" text-anchor="end" stroke="#1c1c1c" stroke-width="0.3">0.8</text>
<path d="M148.5 347.1h2.6" stroke="#333" stroke-width="0.6"/>
<text x="147.1" y="373.8" font-size="6.1" text-anchor="end" stroke="#1c1c1c" stroke-width="0.3">0.6</text>
<path d="M148.5 371.6h2.6" stroke="#333" stroke-width="0.6"/>
<text x="147.1" y="398.2" font-size="6.1" text-anchor="end" stroke="#1c1c1c" stroke-width="0.3">0.4</text>
<path d="M148.5 396h2.6" stroke="#333" stroke-width="0.6"/>
<text x="169.6" y="404.8" font-size="6.6" text-anchor="middle" stroke="#1c1c1c" stroke-width="0.3">-8</text>
<text x="197" y="404.8" font-size="6.6" text-anchor="middle" stroke="#1c1c1c" stroke-width="0.3">-7</text>
<text x="224.5" y="404.8" font-size="6.6" text-anchor="middle" stroke="#1c1c1c" stroke-width="0.3">-6</text>
<text x="193.5" y="412.4" font-size="6.9" text-anchor="middle" textLength="67" lengthAdjust="spacingAndGlyphs" stroke="#1c1c1c" stroke-width="0.3">Ribociclib (log<tspan font-size="3.8" dy="1.24">10</tspan><tspan dy="-1.24"> Molar)</tspan></text>
<text x="135.5" y="353" font-size="6.8" text-anchor="middle" transform="rotate(-90 135.5 353)" stroke="#1c1c1c" stroke-width="0.3">Survival</text>
<text x="482.6" y="129.4" font-size="6.6" textLength="36" lengthAdjust="spacingAndGlyphs" stroke="#1c1c1c" stroke-width="0.3">Pax (µmol/L)</text>
<rect x="485.2" y="132.4" width="4.6" height="5" fill="#F8766D" fill-opacity="0.4"/>
<path d="M485.2 134.9h4.6" stroke="#ee6c5a" stroke-width="0.9"/>
<text x="490.6" y="137" font-size="6.4" stroke="#1c1c1c" stroke-width="0.3">0</text>
<rect x="485.2" y="139.7" width="4.6" height="5" fill="#5fb84a" fill-opacity="0.4"/>
<path d="M485.2 142.2h4.6" stroke="#48a445" stroke-width="0.9"/>
<text x="490.6" y="144.3" font-size="6.4" stroke="#1c1c1c" stroke-width="0.3">0.001</text>
<rect x="485.2" y="147" width="4.6" height="5" fill="#00BFC4" fill-opacity="0.4"/>
<path d="M485.2 149.5h4.6" stroke="#22b2b4" stroke-width="0.9"/>
<text x="490.6" y="151.6" font-size="6.4" stroke="#1c1c1c" stroke-width="0.3">0.01</text>
<rect x="485.2" y="154.3" width="4.6" height="5" fill="#a58fd8" fill-opacity="0.4"/>
<path d="M485.2 156.8h4.6" stroke="#9380c0" stroke-width="0.9"/>
<text x="490.6" y="158.9" font-size="6.4" stroke="#1c1c1c" stroke-width="0.3">0.1</text>
<text x="238.6" y="346.3" font-size="6.6" textLength="36" lengthAdjust="spacingAndGlyphs" stroke="#1c1c1c" stroke-width="0.3">Pax (µmol/L)</text>
<rect x="241.2" y="349.3" width="4.6" height="5" fill="#F8766D" fill-opacity="0.4"/>
<path d="M241.2 351.8h4.6" stroke="#ee6c5a" stroke-width="0.9"/>
<text x="246.6" y="353.9" font-size="6.4" stroke="#1c1c1c" stroke-width="0.3">0</text>
<rect x="241.2" y="356.6" width="4.6" height="5" fill="#5fb84a" fill-opacity="0.4"/>
<path d="M241.2 359.1h4.6" stroke="#48a445" stroke-width="0.9"/>
<text x="246.6" y="361.2" font-size="6.4" stroke="#1c1c1c" stroke-width="0.3">0.001</text>
<rect x="241.2" y="363.9" width="4.6" height="5" fill="#00BFC4" fill-opacity="0.4"/>
<path d="M241.2 366.4h4.6" stroke="#22b2b4" stroke-width="0.9"/>
<text x="246.6" y="368.5" font-size="6.4" stroke="#1c1c1c" stroke-width="0.3">0.01</text>
<rect x="241.2" y="371.2" width="4.6" height="5" fill="#a58fd8" fill-opacity="0.4"/>
<path d="M241.2 373.7h4.6" stroke="#9380c0" stroke-width="0.9"/>
<text x="246.6" y="375.8" font-size="6.4" stroke="#1c1c1c" stroke-width="0.3">0.1</text>
<path d="M302.6 258.6V350.8H392.4" fill="none" stroke="#0c0c0c" stroke-width="1.5"/>
<text x="298.2" y="261.82" font-size="8.6" text-anchor="end" stroke="#1c1c1c" stroke-width="0.32">6</text>
<text x="298.2" y="274.1" font-size="8.6" text-anchor="end" stroke="#1c1c1c" stroke-width="0.32">5</text>
<text x="298.2" y="286.38" font-size="8.6" text-anchor="end" stroke="#1c1c1c" stroke-width="0.32">4</text>
<text x="298.2" y="298.66" font-size="8.6" text-anchor="end" stroke="#1c1c1c" stroke-width="0.32">3</text>
<text x="298.2" y="310.94" font-size="8.6" text-anchor="end" stroke="#1c1c1c" stroke-width="0.32">2</text>
<text x="298.2" y="323.22" font-size="8.6" text-anchor="end" stroke="#1c1c1c" stroke-width="0.32">1</text>
<text x="298.2" y="335.5" font-size="8.6" text-anchor="end" stroke="#1c1c1c" stroke-width="0.32">0</text>
<text x="298.2" y="347.78" font-size="8.6" text-anchor="end" stroke="#1c1c1c" stroke-width="0.32">−1</text>
<path d="M302.6 258.82h-3M302.6 271.1h-3M302.6 283.38h-3M302.6 295.66h-3M302.6 307.94h-3M302.6 320.22h-3M302.6 332.5h-3M302.6 344.78h-3M311.5 350.8v3M325.7 350.8v3M339.6 350.8v3M353.8 350.8v3M368.1 350.8v3M382.4 350.8v3" stroke="#0c0c0c" stroke-width="1.3" fill="none"/>
<path d="M302.6 332.5H392.4" stroke="#0c0c0c" stroke-width="1.4" stroke-dasharray="5.4 3" fill="none"/>
<text x="315.1" y="360" font-size="8.5" text-anchor="end" transform="rotate(-42.5 315.1 360)" stroke="#1c1c1c" stroke-width="0.32">HD-MB03</text>
<text x="329.3" y="360" font-size="8.5" text-anchor="end" transform="rotate(-42.5 329.3 360)" stroke="#1c1c1c" stroke-width="0.32">MB002</text>
<text x="343.2" y="360" font-size="8.5" text-anchor="end" transform="rotate(-42.5 343.2 360)" stroke="#1c1c1c" stroke-width="0.32">SJMBG3-12-5950</text>
<text x="357.4" y="360" font-size="8.5" text-anchor="end" transform="rotate(-42.5 357.4 360)" stroke="#1c1c1c" stroke-width="0.32">SJMBG3-16-08522</text>
<text x="371.7" y="360" font-size="8.5" text-anchor="end" transform="rotate(-42.5 371.7 360)" stroke="#1c1c1c" stroke-width="0.32">SJMBSHH-13-5634</text>
<text x="386" y="360" font-size="8.5" text-anchor="end" transform="rotate(-42.5 386 360)" stroke="#1c1c1c" stroke-width="0.32">SJMBSHH-14-7196</text>
<path d="M308.3 300.57h6.4" stroke="#0c0c0c" stroke-width="1" fill="none"/>
<path d="M309.2 304.3L311.12 300.8L307.27 300.8Z" fill="#0c0c0c"/>
<path d="M313.6 306.27L315.53 302.77L311.68 302.77Z" fill="#0c0c0c"/>
<path d="M311.5 308.23L313.43 304.73L309.57 304.73Z" fill="#0c0c0c"/>
<path d="M325.7 318.26V309.41M323.3 318.26h4.8M323.3 309.41h4.8M321.7 313.83h8" stroke="#0c0c0c" stroke-width="1" fill="none"/>
<circle cx="323.6" cy="307.69" r="1.9" fill="#0c0c0c"/>
<circle cx="329.9" cy="312.97" r="1.9" fill="#0c0c0c"/>
<circle cx="323.6" cy="318.87" r="1.9" fill="#0c0c0c"/>
<circle cx="327.3" cy="317.4" r="1.9" fill="#0c0c0c"/>
<path d="M339.6 299.34V273.56M337.2 299.34h4.8M337.2 273.56h4.8M335.2 286.45h8.8" stroke="#0c0c0c" stroke-width="1" fill="none"/>
<rect x="337.7" y="269.2" width="3.8" height="3.8" fill="#0c0c0c"/>
<rect x="335.8" y="291.3" width="3.8" height="3.8" fill="#0c0c0c"/>
<rect x="339.6" y="291.3" width="3.8" height="3.8" fill="#0c0c0c"/>
<rect x="335.8" y="293.76" width="3.8" height="3.8" fill="#0c0c0c"/>
<rect x="339.6" y="293.76" width="3.8" height="3.8" fill="#0c0c0c"/>
<path d="M353.8 325.75V318.99M351.4 325.75h4.8M351.4 318.99h4.8M350.2 322.06h7.2" stroke="#0c0c0c" stroke-width="1" fill="none"/>
<path d="M354.2 317.16L356.07 320.56L352.33 320.56Z" fill="#0c0c0c"/>
<path d="M351.8 320.72L353.67 324.12L349.93 324.12Z" fill="#0c0c0c"/>
<path d="M356.7 320.72L358.57 324.12L354.83 324.12Z" fill="#0c0c0c"/>
<path d="M353.3 323.79L355.17 327.19L351.43 327.19Z" fill="#0c0c0c"/>
<path d="M368.1 331.27V296.89M365.7 331.27h4.8M365.7 296.89h4.8M363.7 313.47h8.8" stroke="#0c0c0c" stroke-width="1" fill="none"/>
<path d="M368.1 295.22L370.03 291.72L366.18 291.72Z" fill="#0c0c0c"/>
<path d="M365.7 324.69L367.63 321.19L363.78 321.19Z" fill="#0c0c0c"/>
<path d="M370.5 324.69L372.43 321.19L368.57 321.19Z" fill="#0c0c0c"/>
<path d="M382.4 329.43V291.98M380 329.43h4.8M380 291.98h4.8M378 311.01h8.8" stroke="#0c0c0c" stroke-width="1" fill="none"/>
<path d="M382.4 287.24L384.3 289.52L382.4 291.8L380.5 289.52Z" fill="#0c0c0c"/>
<path d="M385 316.71L386.9 318.99L385 321.27L383.1 318.99Z" fill="#0c0c0c"/>
<path d="M380 321.62L381.9 323.9L380 326.18L378.1 323.9Z" fill="#0c0c0c"/>
<text x="348" y="246" font-size="9.2" text-anchor="middle" textLength="82.6" lengthAdjust="spacingAndGlyphs" font-family="'Liberation Sans', 'DejaVu Sans', sans-serif" stroke="#1c1c1c" stroke-width="0.15">Ribociclib + paxalisib</text>
<text x="283.2" y="232.4" font-size="12.9" font-weight="bold" fill="#111" stroke="#111" stroke-width="0.3">B</text>
<text x="287.3" y="304.2" font-size="9" text-anchor="middle" transform="rotate(-90 287.3 304.2)" textLength="52.6" lengthAdjust="spacingAndGlyphs" stroke="#1c1c1c" stroke-width="0.32">Kappa value</text>
<path d="M429.4 259.6V351.3H520" fill="none" stroke="#0c0c0c" stroke-width="1.5"/>
<text x="425" y="262.6" font-size="8.6" text-anchor="end" stroke="#1c1c1c" stroke-width="0.32">35</text>
<text x="425" y="275.7" font-size="8.6" text-anchor="end" stroke="#1c1c1c" stroke-width="0.32">30</text>
<text x="425" y="288.8" font-size="8.6" text-anchor="end" stroke="#1c1c1c" stroke-width="0.32">25</text>
<text x="425" y="301.9" font-size="8.6" text-anchor="end" stroke="#1c1c1c" stroke-width="0.32">20</text>
<text x="425" y="315" font-size="8.6" text-anchor="end" stroke="#1c1c1c" stroke-width="0.32">15</text>
<text x="425" y="328.1" font-size="8.6" text-anchor="end" stroke="#1c1c1c" stroke-width="0.32">10</text>
<text x="425" y="341.2" font-size="8.6" text-anchor="end" stroke="#1c1c1c" stroke-width="0.32">5</text>
<text x="425" y="354.3" font-size="8.6" text-anchor="end" stroke="#1c1c1c" stroke-width="0.32">0</text>
<path d="M429.4 259.6h-3M429.4 272.7h-3M429.4 285.8h-3M429.4 298.9h-3M429.4 312h-3M429.4 325.1h-3M429.4 338.2h-3M429.4 351.3h-3M438.4 351.3v3M452.5 351.3v3M466.8 351.3v3M480.6 351.3v3M495 351.3v3M509.3 351.3v3" stroke="#0c0c0c" stroke-width="1.3" fill="none"/>
<text x="442" y="360.5" font-size="8.5" text-anchor="end" transform="rotate(-42.5 442 360.5)" stroke="#1c1c1c" stroke-width="0.32">HD-MB03</text>
<text x="456.1" y="360.5" font-size="8.5" text-anchor="end" transform="rotate(-42.5 456.1 360.5)" stroke="#1c1c1c" stroke-width="0.32">MB002</text>
<text x="470.4" y="360.5" font-size="8.5" text-anchor="end" transform="rotate(-42.5 470.4 360.5)" stroke="#1c1c1c" stroke-width="0.32">SJMBG3-12-5950</text>
<text x="484.2" y="360.5" font-size="8.5" text-anchor="end" transform="rotate(-42.5 484.2 360.5)" stroke="#1c1c1c" stroke-width="0.32">SJMBG3-16-08522</text>
<text x="498.6" y="360.5" font-size="8.5" text-anchor="end" transform="rotate(-42.5 498.6 360.5)" stroke="#1c1c1c" stroke-width="0.32">SJMBSHH-13-5634</text>
<text x="512.9" y="360.5" font-size="8.5" text-anchor="end" transform="rotate(-42.5 512.9 360.5)" stroke="#1c1c1c" stroke-width="0.32">SJMBSHH-14-7196</text>
<path d="M434.8 342.65h7.2" stroke="#0c0c0c" stroke-width="1" fill="none"/>
<path d="M436.6 343.88L438.52 340.38L434.67 340.38Z" fill="#0c0c0c"/>
<path d="M440 344.14L441.93 340.64L438.07 340.64Z" fill="#0c0c0c"/>
<path d="M438.2 345.45L440.12 341.95L436.27 341.95Z" fill="#0c0c0c"/>
<path d="M441 344.93L442.93 341.43L439.07 341.43Z" fill="#0c0c0c"/>
<path d="M452.5 308.07V275.32M450.1 308.07h4.8M450.1 275.32h4.8M448.1 292.09h8.8" stroke="#0c0c0c" stroke-width="1" fill="none"/>
<circle cx="452.5" cy="270.08" r="1.9" fill="#0c0c0c"/>
<circle cx="452.5" cy="292.35" r="1.9" fill="#0c0c0c"/>
<circle cx="452.5" cy="299.95" r="1.9" fill="#0c0c0c"/>
<circle cx="452.5" cy="308.07" r="1.9" fill="#0c0c0c"/>
<path d="M466.8 339.25V309.38M464.4 339.25h4.8M464.4 309.38h4.8M462.4 323.53h8.8" stroke="#0c0c0c" stroke-width="1" fill="none"/>
<rect x="464.9" y="309.58" width="3.8" height="3.8" fill="#0c0c0c"/>
<rect x="464.9" y="315.34" width="3.8" height="3.8" fill="#0c0c0c"/>
<rect x="464.9" y="337.61" width="3.8" height="3.8" fill="#0c0c0c"/>
<path d="M480.6 337.41V305.19M478.2 337.41h4.8M478.2 305.19h4.8M476.2 321.17h8.8" stroke="#0c0c0c" stroke-width="1" fill="none"/>
<path d="M480.6 292.75L482.47 296.15L478.73 296.15Z" fill="#0c0c0c"/>
<path d="M480.6 325.77L482.47 329.17L478.73 329.17Z" fill="#0c0c0c"/>
<path d="M478.4 331.53L480.27 334.93L476.53 334.93Z" fill="#0c0c0c"/>
<path d="M482.8 331.53L484.67 334.93L480.93 334.93Z" fill="#0c0c0c"/>
<path d="M495 339.51V324.05M492.6 339.51h4.8M492.6 324.05h4.8M490.6 332.17h8.8" stroke="#0c0c0c" stroke-width="1" fill="none"/>
<path d="M495 326.06L496.93 322.56L493.07 322.56Z" fill="#0c0c0c"/>
<path d="M497.4 334.97L499.32 331.47L495.47 331.47Z" fill="#0c0c0c"/>
<path d="M493 340.21L494.93 336.71L491.07 336.71Z" fill="#0c0c0c"/>
<path d="M505.7 345.54h7.2" stroke="#0c0c0c" stroke-width="1" fill="none"/>
<path d="M507.9 343.26L509.8 345.54L507.9 347.82L506 345.54Z" fill="#0c0c0c"/>
<path d="M510.9 343.26L512.8 345.54L510.9 347.82L509 345.54Z" fill="#0c0c0c"/>
<path d="M509.3 342.99L511.2 345.27L509.3 347.55L507.4 345.27Z" fill="#0c0c0c"/>
<text x="474" y="246" font-size="9.2" text-anchor="middle" textLength="82.6" lengthAdjust="spacingAndGlyphs" font-family="'Liberation Sans', 'DejaVu Sans', sans-serif" stroke="#1c1c1c" stroke-width="0.15">Ribociclib + paxalisib</text>
<text x="401.6" y="232.4" font-size="12.9" font-weight="bold" fill="#111" stroke="#111" stroke-width="0.3">C</text>
<text x="409.8" y="304.4" font-size="9" text-anchor="middle" transform="rotate(-90 409.8 304.4)" textLength="48.6" lengthAdjust="spacingAndGlyphs" stroke="#1c1c1c" stroke-width="0.32">IAE<tspan font-size="5.8" dy="1.8">50</tspan><tspan dy="-1.8"> value</tspan></text>
<text x="2.2" y="442.6" font-size="12.9" font-weight="bold" fill="#111" stroke="#111" stroke-width="0.3">D</text>
<rect x="50.3" y="486.5" width="12.6" height="68.8" fill="#0c0c0c"/>
<rect x="50.3" y="474.22" width="12.6" height="12.28" fill="#e9382a"/>
<path d="M56.6 474.22V470.43M52.4 470.43h8.4" stroke="#0c0c0c" stroke-width="1.1" fill="none"/>
<path d="M56.6 486.5V483.04M52.4 483.04h8.4" stroke="#0c0c0c" stroke-width="1.1" fill="none"/>
<rect x="69.2" y="490.7" width="13.2" height="64.6" fill="#0c0c0c"/>
<rect x="69.2" y="475.62" width="13.2" height="15.08" fill="#e9382a"/>
<path d="M75.8 475.62V470.43M71.6 470.43h8.4" stroke="#0c0c0c" stroke-width="1.1" fill="none"/>
<path d="M75.8 490.7V486.5M71.6 486.5h8.4" stroke="#0c0c0c" stroke-width="1.1" fill="none"/>
<rect x="89" y="493.5" width="13.4" height="61.8" fill="#0c0c0c"/>
<rect x="89" y="474.88" width="13.4" height="18.62" fill="#e9382a"/>
<path d="M95.7 474.88V467.3M91.5 467.3h8.4" stroke="#0c0c0c" stroke-width="1.1" fill="none"/>
<path d="M95.7 493.5V486.5M91.5 486.5h8.4" stroke="#0c0c0c" stroke-width="1.1" fill="none"/>
<rect x="108.9" y="498.69" width="13.7" height="56.61" fill="#0c0c0c"/>
<rect x="108.9" y="475.21" width="13.7" height="23.48" fill="#e9382a"/>
<path d="M115.75 475.21V471M111.55 471h8.4" stroke="#0c0c0c" stroke-width="1.1" fill="none"/>
<path d="M115.75 498.69V494.49M111.55 494.49h8.4" stroke="#0c0c0c" stroke-width="1.1" fill="none"/>
<path d="M43.4 464.7V555.3H129.3" fill="none" stroke="#0c0c0c" stroke-width="1.5"/>
<text x="39.6" y="475.91" font-size="8.6" text-anchor="end" stroke="#1c1c1c" stroke-width="0.32">100</text>
<text x="39.6" y="496.51" font-size="8.6" text-anchor="end" stroke="#1c1c1c" stroke-width="0.32">75</text>
<text x="39.6" y="517.11" font-size="8.6" text-anchor="end" stroke="#1c1c1c" stroke-width="0.32">50</text>
<text x="39.6" y="537.71" font-size="8.6" text-anchor="end" stroke="#1c1c1c" stroke-width="0.32">25</text>
<text x="39.6" y="558.31" font-size="8.6" text-anchor="end" stroke="#1c1c1c" stroke-width="0.32">0</text>
<path d="M43.4 472.9h-3M43.4 493.5h-3M43.4 514.1h-3M43.4 534.7h-3M43.4 555.3h-3M56.6 555.3v3M75.8 555.3v3M95.7 555.3v3M115.75 555.3v3" stroke="#0c0c0c" stroke-width="1.3" fill="none"/>
<text x="59.6" y="561.7" font-size="8.6" text-anchor="end" transform="rotate(-45 59.6 561.7)" stroke="#1c1c1c" stroke-width="0.32">DMSO</text>
<text x="78.8" y="561.7" font-size="8.6" text-anchor="end" transform="rotate(-45 78.8 561.7)" stroke="#1c1c1c" stroke-width="0.32">Ribociclib</text>
<text x="98.7" y="561.7" font-size="8.6" text-anchor="end" transform="rotate(-45 98.7 561.7)" stroke="#1c1c1c" stroke-width="0.32">Paxalisib</text>
<text x="118.75" y="561.7" font-size="8.6" text-anchor="end" transform="rotate(-45 118.75 561.7)" stroke="#1c1c1c" stroke-width="0.32">Ribociclib+paxalisib</text>
<text x="20.8" y="513" font-size="8.7" text-anchor="middle" transform="rotate(-90 20.8 513)" textLength="90" lengthAdjust="spacingAndGlyphs" stroke="#1c1c1c" stroke-width="0.32">Percentage of live cells</text>
<path d="M54.9 466.8V455.1H115.6V467.3" fill="none" stroke="#0c0c0c" stroke-width="1.1"/>
<text x="86" y="455.4" font-size="10.5" text-anchor="middle" font-weight="bold" stroke="#1c1c1c" stroke-width="0.3">*</text>
<rect x="126.7" y="509.4" width="10.1" height="6.8" fill="#0c0c0c"/>
<rect x="127" y="524.9" width="9.6" height="6.3" fill="#e9382a" stroke="#0c0c0c" stroke-width="0.6"/>
<text x="140.8" y="515.9" font-size="8.2" stroke="#1c1c1c" stroke-width="0.32">Live</text>
<text x="140.8" y="531" font-size="8.2" stroke="#1c1c1c" stroke-width="0.32">Dead</text>
<text x="177.6" y="442.6" font-size="12.9" font-weight="bold" fill="#111" stroke="#111" stroke-width="0.3">E</text>
<rect x="213.6" y="519.28" width="13.2" height="35.62" fill="#0c0c0c" stroke="#0c0c0c" stroke-width="0.5"/>
<rect x="213.6" y="487.29" width="13.2" height="31.99" fill="#7d7d7d" stroke="#0c0c0c" stroke-width="0.5"/>
<rect x="213.6" y="481.84" width="13.2" height="5.45" fill="#e2e2e2" stroke="#0c0c0c" stroke-width="0.5"/>
<path d="M220.2 481.84V480.46M216 480.46h8.4" stroke="#0c0c0c" stroke-width="1.1" fill="none"/>
<path d="M220.2 519.28V512.01M216 512.01h8.4" stroke="#0c0c0c" stroke-width="1.1" fill="none"/>
<rect x="233.8" y="508.37" width="13.1" height="46.53" fill="#0c0c0c" stroke="#0c0c0c" stroke-width="0.5"/>
<rect x="233.8" y="485.83" width="13.1" height="22.54" fill="#7d7d7d" stroke="#0c0c0c" stroke-width="0.5"/>
<rect x="233.8" y="481.84" width="13.1" height="4" fill="#e2e2e2" stroke="#0c0c0c" stroke-width="0.5"/>
<path d="M240.35 485.83V477.47M236.15 477.47h8.4" stroke="#0c0c0c" stroke-width="1.1" fill="none"/>
<path d="M240.35 485.83V481.84M236.15 481.84h8.4" stroke="#0c0c0c" stroke-width="1.1" fill="none"/>
<path d="M240.35 508.37V498.92M236.15 498.92h8.4" stroke="#0c0c0c" stroke-width="1.1" fill="none"/>
<rect x="252.5" y="510.55" width="13.2" height="44.35" fill="#0c0c0c" stroke="#0c0c0c" stroke-width="0.5"/>
<rect x="252.5" y="485.11" width="13.2" height="25.45" fill="#7d7d7d" stroke="#0c0c0c" stroke-width="0.5"/>
<rect x="252.5" y="481.84" width="13.2" height="3.27" fill="#e2e2e2" stroke="#0c0c0c" stroke-width="0.5"/>
<path d="M259.1 485.11V476.02M254.9 476.02h8.4" stroke="#0c0c0c" stroke-width="1.1" fill="none"/>
<path d="M259.1 485.11V481.84M254.9 481.84h8.4" stroke="#0c0c0c" stroke-width="1.1" fill="none"/>
<path d="M259.1 510.55V500.38M254.9 500.38h8.4" stroke="#0c0c0c" stroke-width="1.1" fill="none"/>
<rect x="271.6" y="495.29" width="13" height="59.61" fill="#0c0c0c" stroke="#0c0c0c" stroke-width="0.5"/>
<rect x="271.6" y="482.49" width="13" height="12.8" fill="#7d7d7d" stroke="#0c0c0c" stroke-width="0.5"/>
<rect x="271.6" y="481.84" width="13" height="0.65" fill="#e2e2e2" stroke="#0c0c0c" stroke-width="0.5"/>
<path d="M278.1 482.2V474.2M273.9 474.2h8.4" stroke="#0c0c0c" stroke-width="1.1" fill="none"/>
<path d="M278.1 495.29V487M273.9 487h8.4" stroke="#0c0c0c" stroke-width="1.1" fill="none"/>
<path d="M206.6 466.8V554.9H289.8" fill="none" stroke="#0c0c0c" stroke-width="1.5"/>
<text x="202.8" y="470.46" font-size="8" text-anchor="end" stroke="#1c1c1c" stroke-width="0.32">120</text>
<text x="202.8" y="485" font-size="8" text-anchor="end" stroke="#1c1c1c" stroke-width="0.32">100</text>
<text x="202.8" y="499.54" font-size="8" text-anchor="end" stroke="#1c1c1c" stroke-width="0.32">80</text>
<text x="202.8" y="514.08" font-size="8" text-anchor="end" stroke="#1c1c1c" stroke-width="0.32">60</text>
<text x="202.8" y="528.62" font-size="8" text-anchor="end" stroke="#1c1c1c" stroke-width="0.32">40</text>
<text x="202.8" y="543.16" font-size="8" text-anchor="end" stroke="#1c1c1c" stroke-width="0.32">20</text>
<text x="202.8" y="557.7" font-size="8" text-anchor="end" stroke="#1c1c1c" stroke-width="0.32">0</text>
<path d="M206.6 467.66h-3M206.6 482.2h-3M206.6 496.74h-3M206.6 511.28h-3M206.6 525.82h-3M206.6 540.36h-3M206.6 554.9h-3M220.2 554.9v3M240.35 554.9v3M259.1 554.9v3M278.1 554.9v3" stroke="#0c0c0c" stroke-width="1.3" fill="none"/>
<text x="223.2" y="561.3" font-size="8.6" text-anchor="end" transform="rotate(-45 223.2 561.3)" stroke="#1c1c1c" stroke-width="0.32">DMSO</text>
<text x="243.35" y="561.3" font-size="8.6" text-anchor="end" transform="rotate(-45 243.35 561.3)" stroke="#1c1c1c" stroke-width="0.32">Ribociclib</text>
<text x="262.1" y="561.3" font-size="8.6" text-anchor="end" transform="rotate(-45 262.1 561.3)" stroke="#1c1c1c" stroke-width="0.32">Paxalisib</text>
<text x="281.1" y="561.3" font-size="8.6" text-anchor="end" transform="rotate(-45 281.1 561.3)" stroke="#1c1c1c" stroke-width="0.32">Ribociclib + paxalisib</text>
<text x="185.2" y="512" font-size="8.7" text-anchor="middle" transform="rotate(-90 185.2 512)" textLength="90" lengthAdjust="spacingAndGlyphs" stroke="#1c1c1c" stroke-width="0.32">Percentage of live cells</text>
<path d="M219.7 463.5V456H277.9V467.8" fill="none" stroke="#0c0c0c" stroke-width="1.1"/>
<path d="M220.4 475V470.2H239.9V475" fill="none" stroke="#0c0c0c" stroke-width="1.1"/>
<text x="249" y="456.2" font-size="10.5" text-anchor="middle" font-weight="bold" stroke="#1c1c1c" stroke-width="0.3">**</text>
<text x="230" y="471" font-size="10.5" text-anchor="middle" font-weight="bold" stroke="#1c1c1c" stroke-width="0.3">*</text>
<rect x="290.5" y="508" width="9.2" height="6" fill="#0c0c0c"/>
<rect x="290.8" y="522.9" width="8.7" height="5.6" fill="#7d7d7d" stroke="#0c0c0c" stroke-width="0.6"/>
<rect x="290.8" y="536.9" width="8.7" height="5.6" fill="#e2e2e2" stroke="#0c0c0c" stroke-width="0.6"/>
<text x="302.4" y="514.9" font-size="8.8" stroke="#1c1c1c" stroke-width="0.32">G<tspan font-size="5.6" dy="1.7">0</tspan><tspan dy="-1.7">–G</tspan><tspan font-size="5.6" dy="1.7">1</tspan></text>
<text x="302.4" y="529" font-size="8.8" stroke="#1c1c1c" stroke-width="0.32">S</text>
<text x="302.4" y="543.2" font-size="8.8" stroke="#1c1c1c" stroke-width="0.32">G<tspan font-size="5.6" dy="1.7">2</tspan><tspan dy="-1.7">–M</tspan></text>
<text x="344.2" y="442.6" font-size="12.9" font-weight="bold" fill="#111" stroke="#111" stroke-width="0.3">F</text>
<defs><filter id="bl" x="-20%" y="-60%" width="140%" height="220%"><feGaussianBlur stdDeviation="1.5 1.0"/></filter></defs>
<rect x="391" y="476" width="76.8" height="18.2" fill="#bdbdbd"/>
<g filter="url(#bl)">
<rect x="395.8" y="481.4" width="15.6" height="4.8" rx="1.8" fill="#0a0a0a" fill-opacity="0.62"/>
<rect x="415" y="482.6" width="14.4" height="4.2" rx="1.8" fill="#0a0a0a" fill-opacity="0.92"/>
<rect x="433.2" y="481.8" width="14.4" height="4.2" rx="1.8" fill="#0a0a0a" fill-opacity="0.92"/>
<rect x="451.3" y="482.9" width="14.4" height="3.6" rx="1.8" fill="#0a0a0a" fill-opacity="0.8"/>
</g>
<rect x="391" y="497.4" width="76.8" height="18" fill="#b9b9b9"/>
<g filter="url(#bl)">
<rect x="395.9" y="505.8" width="13.6" height="3.8" rx="1.8" fill="#0a0a0a" fill-opacity="0.88"/>
<rect x="415.6" y="504.5" width="13.2" height="4.4" rx="1.8" fill="#0a0a0a" fill-opacity="1"/>
<rect x="431.3" y="503.6" width="13" height="4.8" rx="1.8" fill="#0a0a0a" fill-opacity="1"/>
<rect x="446.5" y="503.4" width="15.4" height="5.8" rx="1.8" fill="#0a0a0a" fill-opacity="1"/>
</g>
<rect x="391" y="518.5" width="76.8" height="18.1" fill="#c4c4c4"/>
<g filter="url(#bl)">
<rect x="395.2" y="525.4" width="12.6" height="2.6" rx="1.8" fill="#0a0a0a" fill-opacity="0.14"/>
<rect x="415.9" y="524.5" width="12.6" height="3.4" rx="1.8" fill="#0a0a0a" fill-opacity="0.7"/>
<rect x="433.3" y="524.8" width="12.6" height="2.4" rx="1.8" fill="#0a0a0a" fill-opacity="0.12"/>
<rect x="451.3" y="524" width="13.4" height="2.8" rx="1.8" fill="#0a0a0a" fill-opacity="0.36"/>
</g>
<rect x="391" y="539.3" width="76.8" height="18.1" fill="#b8b8b8"/>
<g filter="url(#bl)">
<rect x="396.1" y="547" width="15" height="3.4" rx="1.8" fill="#0a0a0a" fill-opacity="0.95"/>
<rect x="415.1" y="547.2" width="15" height="3.6" rx="1.8" fill="#0a0a0a" fill-opacity="0.95"/>
<rect x="434.1" y="548" width="13.4" height="3" rx="1.8" fill="#0a0a0a" fill-opacity="0.85"/>
<rect x="450.5" y="548.3" width="15" height="3.4" rx="1.8" fill="#0a0a0a" fill-opacity="0.9"/>
</g>
<rect x="394" y="488.6" width="70" height="1.6" fill="#8f8f8f" fill-opacity="0.35" filter="url(#bl)"/>
<text x="378.4" y="488.2" font-size="9.4" text-anchor="end" textLength="19" lengthAdjust="spacingAndGlyphs" font-family="'Liberation Sans', 'DejaVu Sans', sans-serif" stroke="#1c1c1c" stroke-width="0.12">MYC</text>
<path d="M381.4 481.5L390.6 485L381.4 488.5Z" fill="#0c0c0c"/>
<text x="378.4" y="510.8" font-size="9.4" text-anchor="end" textLength="34.4" lengthAdjust="spacingAndGlyphs" font-family="'Liberation Sans', 'DejaVu Sans', sans-serif" stroke="#1c1c1c" stroke-width="0.12">p27KIP1</text>
<path d="M381.4 504.1L390.6 507.6L381.4 511.1Z" fill="#0c0c0c"/>
<text x="378.4" y="531.6" font-size="9.4" text-anchor="end" textLength="38" lengthAdjust="spacingAndGlyphs" font-family="'Liberation Sans', 'DejaVu Sans', sans-serif" stroke="#1c1c1c" stroke-width="0.12">CYCLIN E</text>
<path d="M381.4 524.9L390.6 528.4L381.4 531.9Z" fill="#0c0c0c"/>
<text x="378.4" y="553" font-size="9.4" text-anchor="end" textLength="30.4" lengthAdjust="spacingAndGlyphs" font-family="'Liberation Sans', 'DejaVu Sans', sans-serif" stroke="#1c1c1c" stroke-width="0.12">GAPDH</text>
<path d="M381.4 546.3L390.6 549.8L381.4 553.3Z" fill="#0c0c0c"/>
<text x="403.6" y="474.8" font-size="9.2" transform="rotate(-45 403.6 474.8)" textLength="26.4" lengthAdjust="spacingAndGlyphs" font-family="'Liberation Sans', 'DejaVu Sans', sans-serif" stroke="#1c1c1c" stroke-width="0.12">DMSO</text>
<text x="421.8" y="474.8" font-size="9.2" transform="rotate(-45 421.8 474.8)" textLength="34.5" lengthAdjust="spacingAndGlyphs" font-family="'Liberation Sans', 'DejaVu Sans', sans-serif" stroke="#1c1c1c" stroke-width="0.12">Ribociclib</text>
<text x="439.8" y="474.8" font-size="9.2" transform="rotate(-45 439.8 474.8)" textLength="33.6" lengthAdjust="spacingAndGlyphs" font-family="'Liberation Sans', 'DejaVu Sans', sans-serif" stroke="#1c1c1c" stroke-width="0.12">Paxalisib</text>
<text x="458.2" y="474.8" font-size="9.2" transform="rotate(-45 458.2 474.8)" textLength="77" lengthAdjust="spacingAndGlyphs" font-family="'Liberation Sans', 'DejaVu Sans', sans-serif" stroke="#1c1c1c" stroke-width="0.12">Ribociclib + paxalisib</text>
</svg>
</body></html>
